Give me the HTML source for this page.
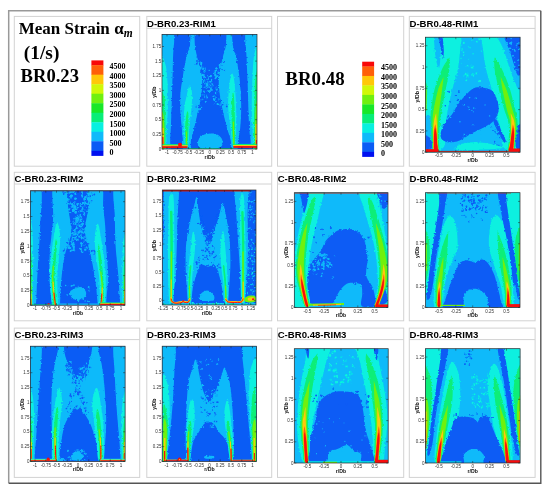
<!DOCTYPE html>
<html><head><meta charset="utf-8"><title>Mean Strain</title>
<style>
html,body{margin:0;padding:0;background:#fff;}
svg{display:block}
.t{font-family:"Liberation Sans",sans-serif;font-weight:bold;font-size:9.6px;fill:#000}
.s{font-family:"Liberation Serif",serif;font-weight:bold;fill:#000}
.k{font-family:"Liberation Sans",sans-serif;font-size:4.5px;fill:#333}
.a{font-family:"Liberation Sans",sans-serif;font-size:5.2px;font-weight:bold;fill:#111}
</style></head><body>
<svg width="550" height="491" viewBox="0 0 550 491">
<rect width="550" height="491" fill="#fff"/>
<defs><filter id="bl" x="-5%" y="-5%" width="110%" height="110%"><feTurbulence type="fractalNoise" baseFrequency="0.09" numOctaves="2" seed="3" result="n"/><feDisplacementMap in="SourceGraphic" in2="n" scale="14" xChannelSelector="R" yChannelSelector="G" result="d"/><feGaussianBlur in="d" stdDeviation="1.3"/></filter><filter id="b2" x="-5%" y="-5%" width="110%" height="110%"><feTurbulence type="fractalNoise" baseFrequency="0.06" numOctaves="1" seed="7" result="n"/><feDisplacementMap in="SourceGraphic" in2="n" scale="5" xChannelSelector="R" yChannelSelector="G" result="d"/><feGaussianBlur in="d" stdDeviation="1.5"/></filter></defs>

<path d="M8.7,483.3 V10.8 H540.8" fill="none" stroke="#999" stroke-width="1.5"/>
<path d="M8.7,483.3 H540.8 V10.8" fill="none" stroke="#555" stroke-width="1.4"/>
<rect x="14.3" y="16.4" width="125.4" height="149.8" fill="#fff" stroke="#d2d2d2" stroke-width="1"/>
<text class="s" font-size="17px" x="18.7" y="34.2">Mean Strain</text><text class="s" font-size="17px" x="114.2" y="34.2">α</text><text class="s" font-style="italic" font-size="11.5px" x="123.8" y="36.8">m</text>
<text class="s" font-size="19.4px" x="23.8" y="58.8">(1/s)</text>
<text class="s" font-size="18.6px" x="20.6" y="82.3">BR0.23</text>
<rect x="91.4" y="60.40" width="12.0" height="5.06" fill="#f80808"/><rect x="91.4" y="65.16" width="12.0" height="9.82" fill="#ff6008"/><rect x="91.4" y="74.68" width="12.0" height="9.82" fill="#ffc808"/><rect x="91.4" y="84.20" width="12.0" height="9.82" fill="#d0f808"/><rect x="91.4" y="93.72" width="12.0" height="9.82" fill="#70f010"/><rect x="91.4" y="103.24" width="12.0" height="9.82" fill="#18e828"/><rect x="91.4" y="112.76" width="12.0" height="9.82" fill="#08ee78"/><rect x="91.4" y="122.28" width="12.0" height="9.82" fill="#08f0e0"/><rect x="91.4" y="131.80" width="12.0" height="9.82" fill="#0fbafa"/><rect x="91.4" y="141.32" width="12.0" height="9.82" fill="#0a5cf5"/><rect x="91.4" y="150.84" width="12.0" height="5.06" fill="#0010f0"/><text class="s" font-size="8px" x="109.5" y="69.1">4500</text><text class="s" font-size="8px" x="109.5" y="78.6">4000</text><text class="s" font-size="8px" x="109.5" y="88.2">3500</text><text class="s" font-size="8px" x="109.5" y="97.8">3000</text><text class="s" font-size="8px" x="109.5" y="107.4">2500</text><text class="s" font-size="8px" x="109.5" y="117.0">2000</text><text class="s" font-size="8px" x="109.5" y="126.5">1500</text><text class="s" font-size="8px" x="109.5" y="136.1">1000</text><text class="s" font-size="8px" x="109.5" y="145.7">500</text><text class="s" font-size="8px" x="109.5" y="155.3">0</text>
<rect x="277.5" y="16.4" width="126.2" height="149.8" fill="#fff" stroke="#d2d2d2" stroke-width="1"/>
<text class="s" font-size="18.9px" x="285.3" y="85.4">BR0.48</text>
<rect x="362.2" y="61.70" width="11.9" height="5.04" fill="#f80808"/><rect x="362.2" y="66.45" width="11.9" height="9.79" fill="#ff6008"/><rect x="362.2" y="75.94" width="11.9" height="9.79" fill="#ffc808"/><rect x="362.2" y="85.42" width="11.9" height="9.79" fill="#d0f808"/><rect x="362.2" y="94.91" width="11.9" height="9.79" fill="#70f010"/><rect x="362.2" y="104.40" width="11.9" height="9.79" fill="#18e828"/><rect x="362.2" y="113.89" width="11.9" height="9.79" fill="#08ee78"/><rect x="362.2" y="123.38" width="11.9" height="9.79" fill="#08f0e0"/><rect x="362.2" y="132.87" width="11.9" height="9.79" fill="#0fbafa"/><rect x="362.2" y="142.36" width="11.9" height="9.79" fill="#0a5cf5"/><rect x="362.2" y="151.85" width="11.9" height="5.04" fill="#0010f0"/><text class="s" font-size="8px" x="381" y="70.3">4500</text><text class="s" font-size="8px" x="381" y="79.9">4000</text><text class="s" font-size="8px" x="381" y="89.4">3500</text><text class="s" font-size="8px" x="381" y="99.0">3000</text><text class="s" font-size="8px" x="381" y="108.5">2500</text><text class="s" font-size="8px" x="381" y="118.1">2000</text><text class="s" font-size="8px" x="381" y="127.6">1500</text><text class="s" font-size="8px" x="381" y="137.2">1000</text><text class="s" font-size="8px" x="381" y="146.7">500</text><text class="s" font-size="8px" x="381" y="156.3">0</text>
<rect x="146.8" y="16.4" width="124.9" height="149.8" fill="#fff" stroke="#d2d2d2" stroke-width="1"/><line x1="146.8" x2="271.7" y1="28.4" y2="28.4" stroke="#d2d2d2" stroke-width="1"/><text class="t" x="147.0" y="26.8">D-BR0.23-RIM1</text>
<clipPath id="c10"><rect x="162" y="34.4" width="95.0" height="114.6"/></clipPath>
<g clip-path="url(#c10)">
<rect x="161" y="33.4" width="97.0" height="116.6" fill="#0a5cf5"/>
<g transform="translate(155,28) scale(0.20000)" filter="url(#bl)">
<path d="M25.0,20.0 C36.2,-79.2 81.2,-1.7 92.0,20.0 C102.8,41.7 91.0,103.3 90.0,150.0 C89.0,196.7 87.7,245.0 86.0,300.0 C84.3,355.0 81.7,436.7 80.0,480.0 C78.3,523.3 77.0,537.5 76.0,560.0 C75.0,582.5 82.5,605.8 74.0,615.0 C65.5,624.2 33.2,714.2 25.0,615.0 C16.8,515.8 13.8,119.2 25.0,20.0 Z" fill="#0fbafa"/>
<path d="M520.0,20.0 C509.2,-79.2 465.3,-1.7 455.0,20.0 C444.7,41.7 456.5,103.3 458.0,150.0 C459.5,196.7 462.0,245.0 464.0,300.0 C466.0,355.0 467.7,436.7 470.0,480.0 C472.3,523.3 476.0,537.5 478.0,560.0 C480.0,582.5 475.0,605.8 482.0,615.0 C489.0,624.2 513.7,714.2 520.0,615.0 C526.3,515.8 530.8,119.2 520.0,20.0 Z" fill="#0fbafa"/>
<path d="M25.0,160.0 C29.2,86.7 43.8,158.3 50.0,175.0 C56.2,191.7 59.7,222.5 62.0,260.0 C64.3,297.5 64.7,356.7 64.0,400.0 C63.3,443.3 59.7,484.2 58.0,520.0 C56.3,555.8 59.5,599.2 54.0,615.0 C48.5,630.8 29.8,690.8 25.0,615.0 C20.2,539.2 20.8,233.3 25.0,160.0 Z" fill="#08f0e0"/>
<path d="M520.0,110.0 C516.3,28.3 503.3,105.0 498.0,125.0 C492.7,145.0 490.3,184.2 488.0,230.0 C485.7,275.8 484.0,351.7 484.0,400.0 C484.0,448.3 486.7,484.2 488.0,520.0 C489.3,555.8 486.7,599.2 492.0,615.0 C497.3,630.8 515.3,699.2 520.0,615.0 C524.7,530.8 523.7,191.7 520.0,110.0 Z" fill="#08f0e0"/>
<path d="M25.0,330.0 C28.5,285.0 41.5,325.0 46.0,345.0 C50.5,365.0 51.3,405.0 52.0,450.0 C52.7,495.0 54.5,587.5 50.0,615.0 C45.5,642.5 29.2,662.5 25.0,615.0 C20.8,567.5 21.5,375.0 25.0,330.0 Z" fill="#08ee78"/>
<path d="M520.0,230.0 C517.0,169.2 506.0,221.7 502.0,250.0 C498.0,278.3 496.8,339.2 496.0,400.0 C495.2,460.8 493.0,579.2 497.0,615.0 C501.0,650.8 516.2,679.2 520.0,615.0 C523.8,550.8 523.0,290.8 520.0,230.0 Z" fill="#08ee78"/>
<path d="M180.0,20.0 C176.3,31.7 178.0,68.3 174.0,90.0 C170.0,111.7 162.0,123.3 156.0,150.0 C150.0,176.7 142.8,220.0 138.0,250.0 C133.2,280.0 128.8,301.7 127.0,330.0 C125.2,358.3 125.8,391.7 127.0,420.0 C128.2,448.3 132.0,476.7 134.0,500.0 C136.0,523.3 137.7,540.8 139.0,560.0 C140.3,579.2 135.8,605.8 142.0,615.0 C148.2,624.2 169.7,624.2 176.0,615.0 C182.3,605.8 176.7,579.2 180.0,560.0 C183.3,540.8 190.3,523.3 196.0,500.0 C201.7,476.7 208.0,448.3 214.0,420.0 C220.0,391.7 228.3,356.7 232.0,330.0 C235.7,303.3 237.0,281.7 236.0,260.0 C235.0,238.3 230.0,218.3 226.0,200.0 C222.0,181.7 216.3,168.3 212.0,150.0 C207.7,131.7 202.7,111.7 200.0,90.0 C197.3,68.3 199.3,31.7 196.0,20.0 C192.7,8.3 183.7,8.3 180.0,20.0 Z" fill="#0fbafa"/>
<path d="M360.0,20.0 C355.3,31.7 357.7,68.3 354.0,90.0 C350.3,111.7 343.3,126.7 338.0,150.0 C332.7,173.3 325.0,205.0 322.0,230.0 C319.0,255.0 317.7,271.7 320.0,300.0 C322.3,328.3 329.3,366.7 336.0,400.0 C342.7,433.3 353.0,473.3 360.0,500.0 C367.0,526.7 373.8,540.8 378.0,560.0 C382.2,579.2 379.7,605.8 385.0,615.0 C390.3,624.2 404.8,624.2 410.0,615.0 C415.2,605.8 413.3,579.2 416.0,560.0 C418.7,540.8 423.5,526.7 426.0,500.0 C428.5,473.3 430.8,433.3 431.0,400.0 C431.2,366.7 428.8,328.3 427.0,300.0 C425.2,271.7 423.5,255.0 420.0,230.0 C416.5,205.0 411.0,173.3 406.0,150.0 C401.0,126.7 394.0,111.7 390.0,90.0 C386.0,68.3 387.0,31.7 382.0,20.0 C377.0,8.3 364.7,8.3 360.0,20.0 Z" fill="#0fbafa"/>
<circle cx="249.2" cy="279.2" r="3.6" fill="#0fbafa"/><circle cx="295.8" cy="339.5" r="3.3" fill="#0fbafa"/><circle cx="274.1" cy="240.1" r="4.9" fill="#0fbafa"/><circle cx="304.6" cy="302.7" r="4.8" fill="#0fbafa"/><circle cx="316.8" cy="210.8" r="3.1" fill="#0fbafa"/><circle cx="237.1" cy="358.4" r="4.8" fill="#0fbafa"/><circle cx="301.5" cy="214.5" r="5.0" fill="#0fbafa"/><circle cx="259.6" cy="281.1" r="5.8" fill="#0fbafa"/><circle cx="227.7" cy="202.2" r="3.9" fill="#0fbafa"/><circle cx="305.4" cy="202.9" r="4.2" fill="#0fbafa"/><circle cx="232.9" cy="397.2" r="3.2" fill="#0fbafa"/><circle cx="249.7" cy="263.3" r="3.6" fill="#0fbafa"/><circle cx="305.5" cy="325.1" r="5.9" fill="#0fbafa"/><circle cx="261.1" cy="347.6" r="3.0" fill="#0fbafa"/><circle cx="279.9" cy="285.9" r="4.3" fill="#0fbafa"/><circle cx="300.7" cy="223.5" r="4.2" fill="#0fbafa"/><circle cx="219.1" cy="406.9" r="5.4" fill="#0fbafa"/><circle cx="301.5" cy="250.9" r="5.6" fill="#0fbafa"/><circle cx="267.9" cy="315.8" r="4.3" fill="#0fbafa"/><circle cx="228.8" cy="175.8" r="3.2" fill="#0fbafa"/><circle cx="320.5" cy="224.5" r="4.9" fill="#0fbafa"/><circle cx="239.2" cy="203.3" r="4.2" fill="#0fbafa"/><circle cx="309.6" cy="304.5" r="3.7" fill="#0fbafa"/><circle cx="306.5" cy="213.3" r="4.4" fill="#0fbafa"/><circle cx="326.0" cy="197.7" r="5.9" fill="#0fbafa"/><circle cx="247.2" cy="243.5" r="4.8" fill="#0fbafa"/><circle cx="329.5" cy="233.1" r="3.4" fill="#0fbafa"/><circle cx="274.2" cy="296.4" r="3.6" fill="#0fbafa"/><circle cx="216.1" cy="186.4" r="3.1" fill="#0fbafa"/><circle cx="306.5" cy="241.4" r="4.4" fill="#0fbafa"/><circle cx="272.6" cy="240.8" r="4.4" fill="#0fbafa"/><circle cx="263.7" cy="254.7" r="4.9" fill="#0fbafa"/><circle cx="255.7" cy="306.3" r="3.2" fill="#0fbafa"/><circle cx="287.8" cy="287.8" r="5.1" fill="#0fbafa"/><circle cx="298.4" cy="355.4" r="5.7" fill="#0fbafa"/><circle cx="320.6" cy="362.3" r="4.5" fill="#0fbafa"/><circle cx="222.2" cy="183.8" r="3.2" fill="#0fbafa"/><circle cx="346.7" cy="198.4" r="5.2" fill="#0fbafa"/><circle cx="243.4" cy="266.6" r="3.3" fill="#0fbafa"/><circle cx="247.6" cy="340.4" r="3.1" fill="#0fbafa"/><circle cx="210.1" cy="381.2" r="5.8" fill="#0fbafa"/><circle cx="299.4" cy="236.7" r="4.8" fill="#0fbafa"/><circle cx="272.1" cy="282.3" r="5.7" fill="#0fbafa"/><circle cx="262.0" cy="255.9" r="5.4" fill="#0fbafa"/><circle cx="219.6" cy="378.3" r="3.9" fill="#0fbafa"/><circle cx="221.9" cy="220.9" r="3.1" fill="#0fbafa"/><circle cx="231.6" cy="190.3" r="4.4" fill="#0fbafa"/><circle cx="313.1" cy="380.3" r="5.0" fill="#0fbafa"/><circle cx="291.1" cy="342.6" r="3.8" fill="#0fbafa"/><circle cx="279.5" cy="304.9" r="5.4" fill="#0fbafa"/><circle cx="323.5" cy="186.6" r="5.3" fill="#0fbafa"/><circle cx="312.7" cy="216.1" r="3.3" fill="#0fbafa"/><circle cx="251.6" cy="200.1" r="3.6" fill="#0fbafa"/><circle cx="275.2" cy="268.0" r="4.6" fill="#0fbafa"/><circle cx="326.5" cy="194.2" r="5.1" fill="#0fbafa"/><circle cx="258.1" cy="297.2" r="5.7" fill="#0fbafa"/><circle cx="240.6" cy="204.1" r="4.9" fill="#0fbafa"/><circle cx="305.5" cy="367.9" r="4.5" fill="#0fbafa"/><circle cx="295.2" cy="354.4" r="3.6" fill="#0fbafa"/><circle cx="258.5" cy="346.6" r="5.9" fill="#0fbafa"/><circle cx="328.1" cy="396.7" r="3.0" fill="#0fbafa"/><circle cx="262.3" cy="289.3" r="5.3" fill="#0fbafa"/><circle cx="283.2" cy="296.6" r="4.3" fill="#0fbafa"/><circle cx="215.5" cy="172.6" r="4.4" fill="#0fbafa"/><circle cx="345.2" cy="387.2" r="5.8" fill="#0fbafa"/><circle cx="308.3" cy="201.5" r="5.5" fill="#0fbafa"/><circle cx="247.4" cy="295.9" r="4.7" fill="#0fbafa"/><circle cx="279.6" cy="241.4" r="4.8" fill="#0fbafa"/><circle cx="312.8" cy="242.2" r="4.7" fill="#0fbafa"/><circle cx="293.5" cy="222.0" r="3.1" fill="#0fbafa"/><circle cx="293.8" cy="377.6" r="3.4" fill="#0fbafa"/><circle cx="335.4" cy="203.2" r="4.2" fill="#0fbafa"/><circle cx="325.6" cy="389.0" r="3.4" fill="#0fbafa"/><circle cx="264.0" cy="270.5" r="4.3" fill="#0fbafa"/><circle cx="239.6" cy="195.3" r="3.1" fill="#0fbafa"/><circle cx="320.4" cy="221.2" r="5.2" fill="#0fbafa"/><circle cx="264.3" cy="238.5" r="3.4" fill="#0fbafa"/><circle cx="274.4" cy="276.2" r="5.6" fill="#0fbafa"/><circle cx="232.1" cy="176.0" r="4.6" fill="#0fbafa"/><circle cx="214.0" cy="358.8" r="4.8" fill="#0fbafa"/><circle cx="252.3" cy="354.8" r="4.0" fill="#0fbafa"/><circle cx="248.0" cy="215.0" r="5.3" fill="#0fbafa"/><circle cx="316.5" cy="224.8" r="5.2" fill="#0fbafa"/><circle cx="277.3" cy="241.3" r="4.6" fill="#0fbafa"/><circle cx="239.5" cy="334.3" r="3.1" fill="#0fbafa"/><circle cx="270.9" cy="212.2" r="3.3" fill="#0fbafa"/><circle cx="259.4" cy="286.0" r="3.6" fill="#0fbafa"/><circle cx="344.3" cy="196.7" r="4.8" fill="#0fbafa"/><circle cx="326.2" cy="373.7" r="3.6" fill="#0fbafa"/><circle cx="319.2" cy="355.0" r="3.2" fill="#0fbafa"/><circle cx="331.4" cy="381.3" r="4.2" fill="#0fbafa"/><circle cx="254.2" cy="273.7" r="3.0" fill="#0fbafa"/><circle cx="260.4" cy="334.4" r="5.2" fill="#0fbafa"/><circle cx="283.2" cy="263.1" r="5.4" fill="#0fbafa"/><circle cx="302.4" cy="237.3" r="5.6" fill="#0fbafa"/><circle cx="284.2" cy="310.2" r="4.8" fill="#0fbafa"/><circle cx="258.4" cy="255.1" r="5.2" fill="#0fbafa"/><circle cx="246.8" cy="218.4" r="4.6" fill="#0fbafa"/><circle cx="263.9" cy="250.4" r="5.2" fill="#0fbafa"/><circle cx="228.0" cy="198.0" r="5.7" fill="#0fbafa"/><circle cx="226.3" cy="405.2" r="5.0" fill="#0fbafa"/><circle cx="245.7" cy="247.2" r="4.2" fill="#0fbafa"/><circle cx="215.9" cy="378.3" r="5.9" fill="#0fbafa"/><circle cx="328.8" cy="179.3" r="4.2" fill="#0fbafa"/><circle cx="325.4" cy="189.7" r="3.8" fill="#0fbafa"/><circle cx="238.7" cy="235.2" r="5.9" fill="#0fbafa"/><circle cx="255.4" cy="289.3" r="3.2" fill="#0fbafa"/><circle cx="244.8" cy="316.6" r="4.2" fill="#0fbafa"/><circle cx="313.1" cy="381.2" r="4.3" fill="#0fbafa"/><circle cx="260.4" cy="282.2" r="4.1" fill="#0fbafa"/><circle cx="244.3" cy="237.8" r="5.1" fill="#0fbafa"/><circle cx="301.7" cy="232.7" r="4.9" fill="#0fbafa"/><circle cx="276.8" cy="267.9" r="4.2" fill="#0fbafa"/><circle cx="309.3" cy="309.1" r="4.3" fill="#0fbafa"/><circle cx="284.7" cy="281.2" r="5.4" fill="#0fbafa"/><circle cx="253.9" cy="369.2" r="4.8" fill="#0fbafa"/><circle cx="226.9" cy="205.5" r="3.2" fill="#0fbafa"/><circle cx="269.6" cy="293.9" r="4.3" fill="#0fbafa"/><circle cx="275.1" cy="315.2" r="5.4" fill="#0fbafa"/><circle cx="236.2" cy="203.5" r="3.3" fill="#0fbafa"/>
<circle cx="273.8" cy="278.5" r="3.4" fill="#0a5cf5"/><circle cx="236.4" cy="214.9" r="3.9" fill="#0a5cf5"/><circle cx="259.7" cy="329.5" r="3.3" fill="#0a5cf5"/><circle cx="335.6" cy="207.6" r="3.3" fill="#0a5cf5"/><circle cx="295.4" cy="258.5" r="4.8" fill="#0a5cf5"/><circle cx="285.0" cy="287.1" r="3.6" fill="#0a5cf5"/><circle cx="233.2" cy="327.3" r="3.9" fill="#0a5cf5"/><circle cx="190.7" cy="416.1" r="2.7" fill="#0a5cf5"/><circle cx="285.4" cy="315.9" r="2.6" fill="#0a5cf5"/><circle cx="253.9" cy="347.2" r="3.4" fill="#0a5cf5"/><circle cx="253.1" cy="244.3" r="3.1" fill="#0a5cf5"/><circle cx="315.3" cy="248.5" r="3.6" fill="#0a5cf5"/><circle cx="272.8" cy="288.9" r="3.0" fill="#0a5cf5"/><circle cx="265.9" cy="322.5" r="2.6" fill="#0a5cf5"/><circle cx="229.6" cy="217.2" r="3.8" fill="#0a5cf5"/><circle cx="253.9" cy="254.1" r="4.9" fill="#0a5cf5"/><circle cx="269.0" cy="281.2" r="3.0" fill="#0a5cf5"/><circle cx="235.3" cy="359.3" r="3.2" fill="#0a5cf5"/><circle cx="327.2" cy="369.5" r="3.8" fill="#0a5cf5"/><circle cx="349.7" cy="212.3" r="3.8" fill="#0a5cf5"/><circle cx="210.7" cy="146.3" r="3.2" fill="#0a5cf5"/><circle cx="207.5" cy="178.4" r="4.2" fill="#0a5cf5"/><circle cx="274.0" cy="271.9" r="2.6" fill="#0a5cf5"/><circle cx="248.0" cy="233.8" r="3.2" fill="#0a5cf5"/><circle cx="314.6" cy="213.7" r="4.7" fill="#0a5cf5"/><circle cx="292.9" cy="268.5" r="2.6" fill="#0a5cf5"/><circle cx="288.8" cy="299.1" r="4.0" fill="#0a5cf5"/><circle cx="205.6" cy="394.9" r="3.4" fill="#0a5cf5"/><circle cx="253.3" cy="351.9" r="4.8" fill="#0a5cf5"/><circle cx="238.8" cy="364.8" r="4.5" fill="#0a5cf5"/><circle cx="294.8" cy="247.9" r="3.2" fill="#0a5cf5"/><circle cx="320.5" cy="365.1" r="3.8" fill="#0a5cf5"/><circle cx="306.1" cy="340.2" r="3.4" fill="#0a5cf5"/><circle cx="212.6" cy="169.9" r="3.3" fill="#0a5cf5"/><circle cx="306.9" cy="340.8" r="3.7" fill="#0a5cf5"/><circle cx="297.3" cy="271.8" r="3.6" fill="#0a5cf5"/><circle cx="216.6" cy="392.4" r="3.4" fill="#0a5cf5"/><circle cx="309.4" cy="219.1" r="3.8" fill="#0a5cf5"/><circle cx="225.7" cy="191.2" r="4.0" fill="#0a5cf5"/><circle cx="206.8" cy="383.4" r="2.6" fill="#0a5cf5"/><circle cx="305.8" cy="359.1" r="3.5" fill="#0a5cf5"/><circle cx="260.5" cy="332.4" r="4.2" fill="#0a5cf5"/><circle cx="296.3" cy="248.8" r="3.4" fill="#0a5cf5"/><circle cx="291.8" cy="232.4" r="2.8" fill="#0a5cf5"/><circle cx="278.6" cy="279.3" r="4.8" fill="#0a5cf5"/><circle cx="298.9" cy="303.9" r="4.0" fill="#0a5cf5"/><circle cx="209.8" cy="178.5" r="4.0" fill="#0a5cf5"/><circle cx="310.8" cy="368.3" r="3.3" fill="#0a5cf5"/><circle cx="313.2" cy="363.8" r="4.5" fill="#0a5cf5"/><circle cx="332.1" cy="190.3" r="3.2" fill="#0a5cf5"/><circle cx="358.9" cy="392.1" r="4.4" fill="#0a5cf5"/><circle cx="337.5" cy="382.3" r="4.7" fill="#0a5cf5"/><circle cx="216.8" cy="154.5" r="3.0" fill="#0a5cf5"/><circle cx="251.3" cy="193.4" r="4.4" fill="#0a5cf5"/><circle cx="266.3" cy="296.4" r="4.2" fill="#0a5cf5"/><circle cx="283.6" cy="295.5" r="2.8" fill="#0a5cf5"/><circle cx="253.2" cy="250.4" r="4.1" fill="#0a5cf5"/><circle cx="260.8" cy="253.0" r="4.6" fill="#0a5cf5"/><circle cx="336.0" cy="151.3" r="4.2" fill="#0a5cf5"/><circle cx="328.0" cy="408.6" r="3.4" fill="#0a5cf5"/><circle cx="341.7" cy="168.3" r="3.6" fill="#0a5cf5"/><circle cx="230.1" cy="370.1" r="4.2" fill="#0a5cf5"/><circle cx="256.7" cy="299.2" r="4.5" fill="#0a5cf5"/><circle cx="298.1" cy="315.5" r="3.9" fill="#0a5cf5"/><circle cx="296.3" cy="238.5" r="3.3" fill="#0a5cf5"/><circle cx="209.3" cy="163.6" r="3.7" fill="#0a5cf5"/><circle cx="225.3" cy="183.6" r="3.7" fill="#0a5cf5"/><circle cx="314.3" cy="344.8" r="3.5" fill="#0a5cf5"/><circle cx="324.6" cy="395.9" r="4.1" fill="#0a5cf5"/><circle cx="259.0" cy="323.8" r="4.0" fill="#0a5cf5"/>
<path d="M170.0,292.0 C166.3,299.3 161.8,322.0 158.0,340.0 C154.2,358.0 149.3,373.3 147.0,400.0 C144.7,426.7 143.5,470.0 144.0,500.0 C144.5,530.0 146.3,565.8 150.0,580.0 C153.7,594.2 162.3,598.3 166.0,585.0 C169.7,571.7 169.3,530.8 172.0,500.0 C174.7,469.2 179.7,426.7 182.0,400.0 C184.3,373.3 186.3,357.3 186.0,340.0 C185.7,322.7 182.7,304.0 180.0,296.0 C177.3,288.0 173.7,284.7 170.0,292.0 Z" fill="#08f0e0"/>
<path d="M382.0,232.0 C378.3,242.0 372.7,272.0 370.0,300.0 C367.3,328.0 364.7,366.7 366.0,400.0 C367.3,433.3 374.3,470.0 378.0,500.0 C381.7,530.0 383.8,565.8 388.0,580.0 C392.2,594.2 400.0,598.3 403.0,585.0 C406.0,571.7 405.5,530.8 406.0,500.0 C406.5,469.2 407.0,433.3 406.0,400.0 C405.0,366.7 402.3,326.7 400.0,300.0 C397.7,273.3 395.0,251.3 392.0,240.0 C389.0,228.7 385.7,222.0 382.0,232.0 Z" fill="#08f0e0"/>
<path d="M160.0,420.0 C157.7,427.5 153.7,450.0 152.0,470.0 C150.3,490.0 149.7,520.8 150.0,540.0 C150.3,559.2 151.8,577.5 154.0,585.0 C156.2,592.5 161.0,594.2 163.0,585.0 C165.0,575.8 165.2,549.2 166.0,530.0 C166.8,510.8 168.0,487.5 168.0,470.0 C168.0,452.5 167.3,433.3 166.0,425.0 C164.7,416.7 162.3,412.5 160.0,420.0 Z" fill="#08ee78"/>
<path d="M388.0,330.0 C386.0,340.8 382.7,375.0 382.0,400.0 C381.3,425.0 382.7,449.2 384.0,480.0 C385.3,510.8 387.3,567.5 390.0,585.0 C392.7,602.5 398.3,602.5 400.0,585.0 C401.7,567.5 400.3,510.8 400.0,480.0 C399.7,449.2 399.0,424.2 398.0,400.0 C397.0,375.8 395.7,346.7 394.0,335.0 C392.3,323.3 390.0,319.2 388.0,330.0 Z" fill="#08ee78"/>
<path d="M214.0,575.0 C215.0,566.5 219.0,552.5 226.0,545.0 C233.0,537.5 245.0,532.8 256.0,530.0 C267.0,527.2 281.0,526.3 292.0,528.0 C303.0,529.7 314.3,533.8 322.0,540.0 C329.7,546.2 336.3,556.3 338.0,565.0 C339.7,573.7 338.3,585.8 332.0,592.0 C325.7,598.2 314.0,600.3 300.0,602.0 C286.0,603.7 261.3,603.0 248.0,602.0 C234.7,601.0 225.7,600.5 220.0,596.0 C214.3,591.5 213.0,583.5 214.0,575.0 Z" fill="#0fbafa"/>
</g>
<g transform="translate(155,28) scale(0.20000)" filter="url(#b2)">
<path d="M25.0,430.0 C28.2,401.7 40.5,414.2 44.0,445.0 C47.5,475.8 49.2,586.7 46.0,615.0 C42.8,643.3 28.5,645.8 25.0,615.0 C21.5,584.2 21.8,458.3 25.0,430.0 Z" fill="#70f010"/>
<path d="M520.0,380.0 C517.3,343.3 507.0,355.8 504.0,395.0 C501.0,434.2 499.3,578.3 502.0,615.0 C504.7,651.7 517.0,654.2 520.0,615.0 C523.0,575.8 522.7,416.7 520.0,380.0 Z" fill="#70f010"/>
<path d="M40.0,500.0 L41.0,600.0" fill="none" stroke="#ffc808" stroke-width="7" stroke-linecap="butt" stroke-linejoin="round"/>
<path d="M506.0,480.0 L506.0,600.0" fill="none" stroke="#ffc808" stroke-width="6" stroke-linecap="butt" stroke-linejoin="round"/>
<path d="M39.0,545.0 L40.0,600.0" fill="none" stroke="#f80808" stroke-width="6" stroke-linecap="butt" stroke-linejoin="round"/>
<path d="M507.0,560.0 L507.0,600.0" fill="none" stroke="#f80808" stroke-width="5" stroke-linecap="butt" stroke-linejoin="round"/>
<path d="M392.0,470.0 L394.0,585.0" fill="none" stroke="#70f010" stroke-width="6" stroke-linecap="round" stroke-linejoin="round"/>
<path d="M158.0,520.0 L158.0,585.0" fill="none" stroke="#70f010" stroke-width="5" stroke-linecap="round" stroke-linejoin="round"/>
<path d="M35.0,584.0 L166.0,584.0" fill="none" stroke="#08ee78" stroke-width="7" stroke-linecap="butt" stroke-linejoin="round"/>
<path d="M388.0,583.0 L510.0,583.0" fill="none" stroke="#08ee78" stroke-width="7" stroke-linecap="butt" stroke-linejoin="round"/>
<path d="M35.0,589.0 L164.0,589.0" fill="none" stroke="#ffc808" stroke-width="6" stroke-linecap="butt" stroke-linejoin="round"/>
<path d="M390.0,588.0 L510.0,588.0" fill="none" stroke="#ffc808" stroke-width="6" stroke-linecap="butt" stroke-linejoin="round"/>
<path d="M38.0,596.0 L162.0,596.0" fill="none" stroke="#f80808" stroke-width="9" stroke-linecap="butt" stroke-linejoin="round"/>
<path d="M392.0,595.0 L508.0,595.0" fill="none" stroke="#f80808" stroke-width="9" stroke-linecap="butt" stroke-linejoin="round"/>
<ellipse cx="125" cy="584" rx="10" ry="10" fill="#f80808"/>
<path d="M166.0,603.0 L390.0,603.0" fill="none" stroke="#08ee78" stroke-width="4" stroke-linecap="butt" stroke-linejoin="round"/>
</g>
</g>
<rect x="162" y="34.4" width="95.0" height="114.6" fill="none" stroke="#2a2a2a" stroke-width="0.7"/>
<line x1="167.0" x2="167.0" y1="147.0" y2="149.0" stroke="#222" stroke-width="0.5"/>
<line x1="167.0" x2="167.0" y1="36.4" y2="34.4" stroke="#222" stroke-width="0.5"/>
<text class="k" text-anchor="middle" x="167.0" y="154.2">-1</text>
<line x1="177.7" x2="177.7" y1="147.0" y2="149.0" stroke="#222" stroke-width="0.5"/>
<line x1="177.7" x2="177.7" y1="36.4" y2="34.4" stroke="#222" stroke-width="0.5"/>
<text class="k" text-anchor="middle" x="177.7" y="154.2">-0.75</text>
<line x1="188.4" x2="188.4" y1="147.0" y2="149.0" stroke="#222" stroke-width="0.5"/>
<line x1="188.4" x2="188.4" y1="36.4" y2="34.4" stroke="#222" stroke-width="0.5"/>
<text class="k" text-anchor="middle" x="188.4" y="154.2">-0.5</text>
<line x1="199.1" x2="199.1" y1="147.0" y2="149.0" stroke="#222" stroke-width="0.5"/>
<line x1="199.1" x2="199.1" y1="36.4" y2="34.4" stroke="#222" stroke-width="0.5"/>
<text class="k" text-anchor="middle" x="199.1" y="154.2">-0.25</text>
<line x1="209.8" x2="209.8" y1="147.0" y2="149.0" stroke="#222" stroke-width="0.5"/>
<line x1="209.8" x2="209.8" y1="36.4" y2="34.4" stroke="#222" stroke-width="0.5"/>
<text class="k" text-anchor="middle" x="209.8" y="154.2">0</text>
<line x1="220.5" x2="220.5" y1="147.0" y2="149.0" stroke="#222" stroke-width="0.5"/>
<line x1="220.5" x2="220.5" y1="36.4" y2="34.4" stroke="#222" stroke-width="0.5"/>
<text class="k" text-anchor="middle" x="220.5" y="154.2">0.25</text>
<line x1="231.2" x2="231.2" y1="147.0" y2="149.0" stroke="#222" stroke-width="0.5"/>
<line x1="231.2" x2="231.2" y1="36.4" y2="34.4" stroke="#222" stroke-width="0.5"/>
<text class="k" text-anchor="middle" x="231.2" y="154.2">0.5</text>
<line x1="241.9" x2="241.9" y1="147.0" y2="149.0" stroke="#222" stroke-width="0.5"/>
<line x1="241.9" x2="241.9" y1="36.4" y2="34.4" stroke="#222" stroke-width="0.5"/>
<text class="k" text-anchor="middle" x="241.9" y="154.2">0.75</text>
<line x1="252.6" x2="252.6" y1="147.0" y2="149.0" stroke="#222" stroke-width="0.5"/>
<line x1="252.6" x2="252.6" y1="36.4" y2="34.4" stroke="#222" stroke-width="0.5"/>
<text class="k" text-anchor="middle" x="252.6" y="154.2">1</text>
<line x1="162.0" x2="164.0" y1="149.0" y2="149.0" stroke="#222" stroke-width="0.5"/>
<line x1="257.0" x2="255.0" y1="149.0" y2="149.0" stroke="#222" stroke-width="0.5"/>
<text class="k" text-anchor="end" x="161.2" y="150.6">0</text>
<line x1="162.0" x2="164.0" y1="134.3" y2="134.3" stroke="#222" stroke-width="0.5"/>
<line x1="257.0" x2="255.0" y1="134.3" y2="134.3" stroke="#222" stroke-width="0.5"/>
<text class="k" text-anchor="end" x="161.2" y="135.9">0.25</text>
<line x1="162.0" x2="164.0" y1="119.7" y2="119.7" stroke="#222" stroke-width="0.5"/>
<line x1="257.0" x2="255.0" y1="119.7" y2="119.7" stroke="#222" stroke-width="0.5"/>
<text class="k" text-anchor="end" x="161.2" y="121.3">0.5</text>
<line x1="162.0" x2="164.0" y1="105.0" y2="105.0" stroke="#222" stroke-width="0.5"/>
<line x1="257.0" x2="255.0" y1="105.0" y2="105.0" stroke="#222" stroke-width="0.5"/>
<text class="k" text-anchor="end" x="161.2" y="106.6">0.75</text>
<line x1="162.0" x2="164.0" y1="90.4" y2="90.4" stroke="#222" stroke-width="0.5"/>
<line x1="257.0" x2="255.0" y1="90.4" y2="90.4" stroke="#222" stroke-width="0.5"/>
<text class="k" text-anchor="end" x="161.2" y="92.0">1</text>
<line x1="162.0" x2="164.0" y1="75.8" y2="75.8" stroke="#222" stroke-width="0.5"/>
<line x1="257.0" x2="255.0" y1="75.8" y2="75.8" stroke="#222" stroke-width="0.5"/>
<text class="k" text-anchor="end" x="161.2" y="77.3">1.25</text>
<line x1="162.0" x2="164.0" y1="61.1" y2="61.1" stroke="#222" stroke-width="0.5"/>
<line x1="257.0" x2="255.0" y1="61.1" y2="61.1" stroke="#222" stroke-width="0.5"/>
<text class="k" text-anchor="end" x="161.2" y="62.7">1.5</text>
<line x1="162.0" x2="164.0" y1="46.5" y2="46.5" stroke="#222" stroke-width="0.5"/>
<line x1="257.0" x2="255.0" y1="46.5" y2="46.5" stroke="#222" stroke-width="0.5"/>
<text class="k" text-anchor="end" x="161.2" y="48.1">1.75</text>
<text class="a" text-anchor="middle" x="209.8" y="158.8">r/Db</text>
<text class="a" text-anchor="middle" transform="translate(155.6,92.2) rotate(-90)">y/Db</text>
<rect x="14.3" y="172.3" width="125.4" height="148.5" fill="#fff" stroke="#d2d2d2" stroke-width="1"/><line x1="14.3" x2="139.7" y1="184.0" y2="184.0" stroke="#d2d2d2" stroke-width="1"/><text class="t" x="14.5" y="182.4">C-BR0.23-RIM2</text>
<clipPath id="c01"><rect x="30.4" y="190.7" width="94.6" height="114.5"/></clipPath>
<g clip-path="url(#c01)">
<rect x="29.4" y="189.7" width="96.6" height="116.5" fill="#0a5cf5"/>
<g transform="translate(20,186) scale(0.20000)" filter="url(#bl)">
<path d="M40.0,10.0 C50.8,-90.0 94.8,-21.7 105.0,10.0 C115.2,41.7 103.3,138.3 101.0,200.0 C98.7,261.7 93.7,333.3 91.0,380.0 C88.3,426.7 87.5,441.7 85.0,480.0 C82.5,518.3 83.5,588.3 76.0,610.0 C68.5,631.7 46.0,710.0 40.0,610.0 C34.0,510.0 29.2,110.0 40.0,10.0 Z" fill="#0fbafa"/>
<path d="M535.0,10.0 C524.2,-90.0 480.2,-13.3 470.0,10.0 C459.8,33.3 472.7,101.7 474.0,150.0 C475.3,198.3 475.0,250.0 478.0,300.0 C481.0,350.0 487.5,398.3 492.0,450.0 C496.5,501.7 497.8,583.3 505.0,610.0 C512.2,636.7 530.0,710.0 535.0,610.0 C540.0,510.0 545.8,110.0 535.0,10.0 Z" fill="#0fbafa"/>
<path d="M40.0,180.0 C43.3,111.7 55.7,171.7 60.0,200.0 C64.3,228.3 65.3,300.0 66.0,350.0 C66.7,400.0 64.7,456.7 64.0,500.0 C63.3,543.3 66.0,591.7 62.0,610.0 C58.0,628.3 43.7,681.7 40.0,610.0 C36.3,538.3 36.7,248.3 40.0,180.0 Z" fill="#08f0e0"/>
<path d="M535.0,250.0 C532.0,193.3 520.8,245.0 517.0,270.0 C513.2,295.0 512.8,361.7 512.0,400.0 C511.2,438.3 511.7,465.0 512.0,500.0 C512.3,535.0 510.2,591.7 514.0,610.0 C517.8,628.3 531.5,670.0 535.0,610.0 C538.5,550.0 538.0,306.7 535.0,250.0 Z" fill="#08f0e0"/>
<path d="M40.0,330.0 C43.0,286.7 54.7,303.3 58.0,350.0 C61.3,396.7 63.0,566.7 60.0,610.0 C57.0,653.3 43.3,656.7 40.0,610.0 C36.7,563.3 37.0,373.3 40.0,330.0 Z" fill="#08ee78"/>
<path d="M535.0,360.0 C532.5,321.7 522.8,338.3 520.0,380.0 C517.2,421.7 515.5,571.7 518.0,610.0 C520.5,648.3 532.2,651.7 535.0,610.0 C537.8,568.3 537.5,398.3 535.0,360.0 Z" fill="#08ee78"/>
<path d="M166.0,5.0 C154.5,29.2 167.5,109.2 166.0,150.0 C164.5,190.8 159.8,220.0 157.0,250.0 C154.2,280.0 150.7,296.7 149.0,330.0 C147.3,363.3 146.3,415.0 147.0,450.0 C147.7,485.0 150.0,513.3 153.0,540.0 C156.0,566.7 157.8,598.3 165.0,610.0 C172.2,621.7 189.5,628.3 196.0,610.0 C202.5,591.7 201.3,531.7 204.0,500.0 C206.7,468.3 208.0,448.3 212.0,420.0 C216.0,391.7 221.7,355.0 228.0,330.0 C234.3,305.0 245.3,290.0 250.0,270.0 C254.7,250.0 257.0,233.3 256.0,210.0 C255.0,186.7 247.3,155.0 244.0,130.0 C240.7,105.0 237.5,80.8 236.0,60.0 C234.5,39.2 246.7,14.2 235.0,5.0 C223.3,-4.2 177.5,-19.2 166.0,5.0 Z" fill="#0fbafa"/>
<path d="M345.0,5.0 C333.3,24.2 343.2,87.5 340.0,120.0 C336.8,152.5 327.7,175.8 326.0,200.0 C324.3,224.2 326.3,245.0 330.0,265.0 C333.7,285.0 341.7,294.2 348.0,320.0 C354.3,345.8 362.7,390.0 368.0,420.0 C373.3,450.0 375.7,468.3 380.0,500.0 C384.3,531.7 386.3,591.7 394.0,610.0 C401.7,628.3 419.3,621.7 426.0,610.0 C432.7,598.3 431.5,566.7 434.0,540.0 C436.5,513.3 441.3,486.7 441.0,450.0 C440.7,413.3 434.5,361.7 432.0,320.0 C429.5,278.3 428.7,236.7 426.0,200.0 C423.3,163.3 418.7,132.5 416.0,100.0 C413.3,67.5 421.8,20.8 410.0,5.0 C398.2,-10.8 356.7,-14.2 345.0,5.0 Z" fill="#0fbafa"/>
<circle cx="245.2" cy="66.8" r="3.8" fill="#0fbafa"/><circle cx="249.7" cy="262.6" r="3.0" fill="#0fbafa"/><circle cx="301.3" cy="143.1" r="3.8" fill="#0fbafa"/><circle cx="271.4" cy="106.2" r="5.7" fill="#0fbafa"/><circle cx="293.8" cy="148.7" r="4.7" fill="#0fbafa"/><circle cx="276.0" cy="61.9" r="3.3" fill="#0fbafa"/><circle cx="240.9" cy="270.9" r="4.2" fill="#0fbafa"/><circle cx="282.9" cy="161.7" r="5.9" fill="#0fbafa"/><circle cx="342.7" cy="70.3" r="6.1" fill="#0fbafa"/><circle cx="276.8" cy="258.6" r="5.9" fill="#0fbafa"/><circle cx="331.6" cy="79.3" r="4.3" fill="#0fbafa"/><circle cx="278.0" cy="169.8" r="3.9" fill="#0fbafa"/><circle cx="247.2" cy="247.5" r="4.7" fill="#0fbafa"/><circle cx="279.0" cy="169.0" r="6.4" fill="#0fbafa"/><circle cx="308.8" cy="46.6" r="4.2" fill="#0fbafa"/><circle cx="316.4" cy="259.0" r="6.2" fill="#0fbafa"/><circle cx="241.3" cy="86.9" r="5.4" fill="#0fbafa"/><circle cx="212.5" cy="309.5" r="6.4" fill="#0fbafa"/><circle cx="284.5" cy="202.7" r="3.9" fill="#0fbafa"/><circle cx="237.5" cy="284.2" r="4.4" fill="#0fbafa"/><circle cx="268.4" cy="244.9" r="3.9" fill="#0fbafa"/><circle cx="269.1" cy="121.0" r="6.0" fill="#0fbafa"/><circle cx="300.2" cy="217.1" r="4.7" fill="#0fbafa"/><circle cx="275.4" cy="101.8" r="5.9" fill="#0fbafa"/><circle cx="306.8" cy="257.9" r="5.0" fill="#0fbafa"/><circle cx="337.8" cy="289.0" r="3.5" fill="#0fbafa"/><circle cx="297.4" cy="220.7" r="3.1" fill="#0fbafa"/><circle cx="292.5" cy="193.5" r="3.9" fill="#0fbafa"/><circle cx="303.9" cy="149.7" r="3.3" fill="#0fbafa"/><circle cx="243.8" cy="29.2" r="3.4" fill="#0fbafa"/><circle cx="255.2" cy="107.5" r="4.7" fill="#0fbafa"/><circle cx="330.4" cy="107.0" r="3.7" fill="#0fbafa"/><circle cx="251.5" cy="241.8" r="5.6" fill="#0fbafa"/><circle cx="311.5" cy="53.7" r="4.4" fill="#0fbafa"/><circle cx="282.9" cy="209.0" r="4.1" fill="#0fbafa"/><circle cx="257.6" cy="49.6" r="6.5" fill="#0fbafa"/><circle cx="328.2" cy="269.0" r="5.1" fill="#0fbafa"/><circle cx="303.5" cy="175.9" r="5.4" fill="#0fbafa"/><circle cx="312.8" cy="189.2" r="6.4" fill="#0fbafa"/><circle cx="267.0" cy="123.7" r="6.0" fill="#0fbafa"/><circle cx="268.8" cy="219.8" r="5.4" fill="#0fbafa"/><circle cx="295.8" cy="235.7" r="4.4" fill="#0fbafa"/><circle cx="315.1" cy="90.4" r="4.0" fill="#0fbafa"/><circle cx="296.2" cy="192.0" r="3.8" fill="#0fbafa"/><circle cx="283.2" cy="160.4" r="5.3" fill="#0fbafa"/><circle cx="312.4" cy="37.0" r="6.1" fill="#0fbafa"/><circle cx="318.9" cy="278.9" r="4.4" fill="#0fbafa"/><circle cx="283.8" cy="214.6" r="6.1" fill="#0fbafa"/><circle cx="262.6" cy="238.7" r="4.1" fill="#0fbafa"/><circle cx="380.0" cy="305.1" r="3.6" fill="#0fbafa"/><circle cx="269.6" cy="163.5" r="3.7" fill="#0fbafa"/><circle cx="326.8" cy="55.8" r="6.0" fill="#0fbafa"/><circle cx="326.3" cy="84.7" r="5.5" fill="#0fbafa"/><circle cx="240.0" cy="74.1" r="5.2" fill="#0fbafa"/><circle cx="301.6" cy="98.3" r="3.3" fill="#0fbafa"/><circle cx="269.2" cy="321.1" r="6.3" fill="#0fbafa"/><circle cx="287.2" cy="241.8" r="4.4" fill="#0fbafa"/><circle cx="284.2" cy="158.5" r="4.9" fill="#0fbafa"/><circle cx="254.7" cy="61.4" r="3.0" fill="#0fbafa"/><circle cx="251.9" cy="74.3" r="3.7" fill="#0fbafa"/><circle cx="303.9" cy="161.9" r="6.0" fill="#0fbafa"/><circle cx="244.3" cy="299.6" r="4.5" fill="#0fbafa"/><circle cx="266.9" cy="283.4" r="4.8" fill="#0fbafa"/><circle cx="267.1" cy="188.6" r="4.2" fill="#0fbafa"/><circle cx="261.9" cy="118.4" r="3.0" fill="#0fbafa"/><circle cx="262.0" cy="270.9" r="5.9" fill="#0fbafa"/><circle cx="279.9" cy="134.0" r="4.7" fill="#0fbafa"/><circle cx="311.9" cy="232.8" r="6.3" fill="#0fbafa"/><circle cx="297.0" cy="192.2" r="6.3" fill="#0fbafa"/><circle cx="287.2" cy="146.5" r="3.1" fill="#0fbafa"/><circle cx="319.0" cy="131.8" r="4.7" fill="#0fbafa"/><circle cx="337.8" cy="265.9" r="5.4" fill="#0fbafa"/><circle cx="332.9" cy="88.5" r="6.3" fill="#0fbafa"/><circle cx="347.6" cy="306.6" r="5.1" fill="#0fbafa"/><circle cx="295.3" cy="202.9" r="6.3" fill="#0fbafa"/><circle cx="307.8" cy="216.5" r="4.9" fill="#0fbafa"/><circle cx="326.9" cy="254.1" r="5.1" fill="#0fbafa"/><circle cx="232.0" cy="117.8" r="6.2" fill="#0fbafa"/><circle cx="269.0" cy="309.9" r="5.6" fill="#0fbafa"/><circle cx="275.5" cy="82.2" r="3.4" fill="#0fbafa"/><circle cx="251.3" cy="90.4" r="4.7" fill="#0fbafa"/><circle cx="320.6" cy="91.8" r="4.3" fill="#0fbafa"/><circle cx="317.7" cy="176.4" r="3.7" fill="#0fbafa"/><circle cx="295.8" cy="253.4" r="5.6" fill="#0fbafa"/><circle cx="256.2" cy="250.5" r="3.0" fill="#0fbafa"/><circle cx="260.1" cy="209.8" r="3.7" fill="#0fbafa"/><circle cx="261.1" cy="91.3" r="6.2" fill="#0fbafa"/><circle cx="238.8" cy="66.8" r="5.2" fill="#0fbafa"/><circle cx="296.7" cy="193.3" r="4.3" fill="#0fbafa"/><circle cx="274.2" cy="80.2" r="3.7" fill="#0fbafa"/><circle cx="254.9" cy="272.5" r="3.5" fill="#0fbafa"/><circle cx="331.7" cy="258.1" r="5.3" fill="#0fbafa"/><circle cx="264.9" cy="179.4" r="3.8" fill="#0fbafa"/><circle cx="324.7" cy="225.7" r="3.0" fill="#0fbafa"/><circle cx="345.9" cy="282.8" r="4.4" fill="#0fbafa"/><circle cx="338.6" cy="61.8" r="5.5" fill="#0fbafa"/><circle cx="286.0" cy="172.1" r="6.3" fill="#0fbafa"/><circle cx="254.9" cy="55.0" r="4.6" fill="#0fbafa"/><circle cx="278.5" cy="181.6" r="6.0" fill="#0fbafa"/><circle cx="255.2" cy="275.1" r="5.6" fill="#0fbafa"/><circle cx="319.2" cy="142.3" r="4.1" fill="#0fbafa"/><circle cx="323.3" cy="121.3" r="3.7" fill="#0fbafa"/><circle cx="345.1" cy="22.9" r="3.4" fill="#0fbafa"/><circle cx="281.3" cy="182.0" r="3.4" fill="#0fbafa"/><circle cx="263.8" cy="234.2" r="3.8" fill="#0fbafa"/><circle cx="280.6" cy="214.4" r="5.8" fill="#0fbafa"/><circle cx="216.5" cy="317.0" r="5.8" fill="#0fbafa"/><circle cx="325.9" cy="233.4" r="6.1" fill="#0fbafa"/><circle cx="331.3" cy="275.1" r="3.3" fill="#0fbafa"/><circle cx="333.0" cy="303.5" r="3.6" fill="#0fbafa"/><circle cx="265.8" cy="119.8" r="5.8" fill="#0fbafa"/><circle cx="230.4" cy="35.7" r="5.9" fill="#0fbafa"/><circle cx="320.6" cy="74.7" r="3.9" fill="#0fbafa"/><circle cx="295.9" cy="232.7" r="5.9" fill="#0fbafa"/><circle cx="276.9" cy="171.5" r="4.9" fill="#0fbafa"/><circle cx="323.8" cy="137.8" r="5.1" fill="#0fbafa"/><circle cx="287.6" cy="158.2" r="3.1" fill="#0fbafa"/><circle cx="287.2" cy="90.5" r="6.0" fill="#0fbafa"/><circle cx="242.0" cy="303.2" r="4.3" fill="#0fbafa"/><circle cx="305.8" cy="99.4" r="4.1" fill="#0fbafa"/><circle cx="245.0" cy="307.0" r="5.4" fill="#0fbafa"/><circle cx="274.7" cy="240.8" r="6.5" fill="#0fbafa"/><circle cx="284.1" cy="109.1" r="5.5" fill="#0fbafa"/><circle cx="251.7" cy="30.2" r="6.4" fill="#0fbafa"/><circle cx="270.9" cy="237.3" r="6.1" fill="#0fbafa"/><circle cx="234.3" cy="272.1" r="4.8" fill="#0fbafa"/><circle cx="311.7" cy="329.9" r="5.7" fill="#0fbafa"/><circle cx="289.0" cy="181.4" r="3.3" fill="#0fbafa"/><circle cx="305.8" cy="165.1" r="3.4" fill="#0fbafa"/><circle cx="273.6" cy="163.2" r="4.0" fill="#0fbafa"/><circle cx="263.0" cy="256.0" r="4.4" fill="#0fbafa"/><circle cx="287.3" cy="267.0" r="6.1" fill="#0fbafa"/><circle cx="275.6" cy="110.8" r="6.3" fill="#0fbafa"/><circle cx="309.8" cy="124.1" r="5.7" fill="#0fbafa"/><circle cx="265.9" cy="30.3" r="5.4" fill="#0fbafa"/><circle cx="292.6" cy="171.1" r="5.0" fill="#0fbafa"/><circle cx="296.5" cy="181.0" r="3.6" fill="#0fbafa"/><circle cx="275.1" cy="266.2" r="4.4" fill="#0fbafa"/><circle cx="252.7" cy="133.6" r="4.0" fill="#0fbafa"/><circle cx="247.7" cy="311.3" r="4.1" fill="#0fbafa"/><circle cx="302.9" cy="154.9" r="6.4" fill="#0fbafa"/><circle cx="323.5" cy="280.2" r="3.6" fill="#0fbafa"/><circle cx="342.6" cy="238.7" r="6.2" fill="#0fbafa"/><circle cx="277.2" cy="38.6" r="5.9" fill="#0fbafa"/><circle cx="248.4" cy="295.6" r="4.1" fill="#0fbafa"/><circle cx="322.1" cy="65.1" r="6.3" fill="#0fbafa"/><circle cx="349.5" cy="319.5" r="6.4" fill="#0fbafa"/><circle cx="314.6" cy="284.5" r="5.0" fill="#0fbafa"/><circle cx="265.1" cy="236.3" r="3.5" fill="#0fbafa"/><circle cx="307.9" cy="295.0" r="4.4" fill="#0fbafa"/><circle cx="309.7" cy="247.8" r="3.3" fill="#0fbafa"/><circle cx="303.3" cy="88.2" r="4.8" fill="#0fbafa"/><circle cx="262.3" cy="103.3" r="5.0" fill="#0fbafa"/><circle cx="247.2" cy="116.8" r="5.2" fill="#0fbafa"/><circle cx="335.5" cy="308.8" r="4.9" fill="#0fbafa"/><circle cx="264.0" cy="321.0" r="3.9" fill="#0fbafa"/><circle cx="305.3" cy="246.0" r="4.8" fill="#0fbafa"/><circle cx="342.4" cy="41.6" r="3.2" fill="#0fbafa"/><circle cx="234.7" cy="312.9" r="4.9" fill="#0fbafa"/><circle cx="228.2" cy="305.3" r="6.5" fill="#0fbafa"/><circle cx="323.2" cy="293.0" r="4.5" fill="#0fbafa"/><circle cx="256.8" cy="27.7" r="6.1" fill="#0fbafa"/><circle cx="324.9" cy="216.8" r="6.0" fill="#0fbafa"/><circle cx="304.1" cy="175.6" r="4.3" fill="#0fbafa"/><circle cx="262.4" cy="126.7" r="3.6" fill="#0fbafa"/><circle cx="267.9" cy="301.7" r="6.2" fill="#0fbafa"/><circle cx="315.6" cy="86.4" r="6.2" fill="#0fbafa"/><circle cx="307.6" cy="201.7" r="4.7" fill="#0fbafa"/><circle cx="261.4" cy="290.7" r="5.9" fill="#0fbafa"/><circle cx="302.0" cy="163.5" r="6.3" fill="#0fbafa"/><circle cx="291.9" cy="152.9" r="4.3" fill="#0fbafa"/><circle cx="310.8" cy="47.1" r="3.3" fill="#0fbafa"/><circle cx="253.0" cy="324.9" r="5.3" fill="#0fbafa"/><circle cx="290.9" cy="206.0" r="6.2" fill="#0fbafa"/><circle cx="256.3" cy="49.8" r="3.3" fill="#0fbafa"/><circle cx="306.7" cy="285.7" r="5.9" fill="#0fbafa"/><circle cx="245.5" cy="260.3" r="3.2" fill="#0fbafa"/><circle cx="320.0" cy="270.2" r="5.0" fill="#0fbafa"/><circle cx="290.6" cy="172.8" r="5.7" fill="#0fbafa"/><circle cx="301.8" cy="127.3" r="5.8" fill="#0fbafa"/><circle cx="271.8" cy="111.6" r="4.6" fill="#0fbafa"/><circle cx="249.5" cy="313.1" r="3.4" fill="#0fbafa"/><circle cx="277.6" cy="190.1" r="4.5" fill="#0fbafa"/><circle cx="304.9" cy="150.0" r="3.6" fill="#0fbafa"/><circle cx="271.4" cy="262.1" r="4.9" fill="#0fbafa"/><circle cx="304.2" cy="316.0" r="5.6" fill="#0fbafa"/><circle cx="277.0" cy="63.9" r="6.3" fill="#0fbafa"/><circle cx="324.6" cy="98.8" r="3.1" fill="#0fbafa"/><circle cx="294.4" cy="223.4" r="5.1" fill="#0fbafa"/><circle cx="277.4" cy="242.4" r="3.3" fill="#0fbafa"/><circle cx="316.5" cy="189.1" r="3.1" fill="#0fbafa"/><circle cx="287.7" cy="243.9" r="4.5" fill="#0fbafa"/><circle cx="245.6" cy="36.3" r="3.1" fill="#0fbafa"/><circle cx="269.2" cy="291.1" r="5.1" fill="#0fbafa"/><circle cx="263.3" cy="100.4" r="5.0" fill="#0fbafa"/><circle cx="312.0" cy="113.8" r="3.6" fill="#0fbafa"/><circle cx="310.3" cy="30.4" r="4.8" fill="#0fbafa"/><circle cx="334.3" cy="49.4" r="3.9" fill="#0fbafa"/><circle cx="274.4" cy="225.2" r="4.7" fill="#0fbafa"/><circle cx="354.1" cy="270.4" r="5.6" fill="#0fbafa"/><circle cx="275.8" cy="132.2" r="4.7" fill="#0fbafa"/><circle cx="313.3" cy="217.6" r="4.9" fill="#0fbafa"/><circle cx="293.4" cy="167.7" r="3.6" fill="#0fbafa"/><circle cx="243.4" cy="263.6" r="3.8" fill="#0fbafa"/><circle cx="252.1" cy="309.8" r="4.7" fill="#0fbafa"/><circle cx="344.4" cy="46.3" r="4.5" fill="#0fbafa"/><circle cx="326.3" cy="318.2" r="6.0" fill="#0fbafa"/><circle cx="302.7" cy="203.4" r="5.7" fill="#0fbafa"/><circle cx="251.6" cy="89.8" r="4.4" fill="#0fbafa"/><circle cx="294.5" cy="228.4" r="5.6" fill="#0fbafa"/><circle cx="337.9" cy="34.5" r="5.4" fill="#0fbafa"/><circle cx="303.6" cy="151.5" r="4.5" fill="#0fbafa"/><circle cx="230.3" cy="213.5" r="4.9" fill="#0fbafa"/><circle cx="345.1" cy="119.0" r="4.5" fill="#0fbafa"/><circle cx="312.8" cy="106.3" r="3.9" fill="#0fbafa"/><circle cx="305.3" cy="169.5" r="5.5" fill="#0fbafa"/><circle cx="335.1" cy="126.4" r="4.3" fill="#0fbafa"/><circle cx="264.8" cy="261.2" r="6.4" fill="#0fbafa"/><circle cx="325.2" cy="266.1" r="3.6" fill="#0fbafa"/><circle cx="313.7" cy="116.7" r="6.0" fill="#0fbafa"/><circle cx="285.3" cy="195.5" r="3.7" fill="#0fbafa"/><circle cx="282.7" cy="116.0" r="4.3" fill="#0fbafa"/><circle cx="305.2" cy="227.0" r="5.3" fill="#0fbafa"/><circle cx="214.8" cy="30.3" r="5.9" fill="#0fbafa"/><circle cx="282.3" cy="231.9" r="5.4" fill="#0fbafa"/><circle cx="288.5" cy="159.2" r="4.6" fill="#0fbafa"/><circle cx="293.5" cy="196.9" r="4.7" fill="#0fbafa"/><circle cx="311.0" cy="164.1" r="3.0" fill="#0fbafa"/><circle cx="252.7" cy="46.8" r="5.7" fill="#0fbafa"/><circle cx="243.8" cy="309.0" r="5.5" fill="#0fbafa"/>
<circle cx="221.9" cy="344.9" r="3.6" fill="#0a5cf5"/><circle cx="321.4" cy="252.3" r="3.2" fill="#0a5cf5"/><circle cx="371.4" cy="42.1" r="4.8" fill="#0a5cf5"/><circle cx="256.9" cy="256.0" r="3.2" fill="#0a5cf5"/><circle cx="309.5" cy="158.5" r="4.8" fill="#0a5cf5"/><circle cx="244.5" cy="269.8" r="3.1" fill="#0a5cf5"/><circle cx="374.9" cy="329.1" r="4.9" fill="#0a5cf5"/><circle cx="299.0" cy="187.0" r="3.0" fill="#0a5cf5"/><circle cx="351.0" cy="47.9" r="3.2" fill="#0a5cf5"/><circle cx="335.5" cy="301.0" r="3.3" fill="#0a5cf5"/><circle cx="305.0" cy="157.3" r="3.9" fill="#0a5cf5"/><circle cx="308.6" cy="179.3" r="3.4" fill="#0a5cf5"/><circle cx="297.7" cy="172.3" r="3.0" fill="#0a5cf5"/><circle cx="346.6" cy="113.7" r="2.9" fill="#0a5cf5"/><circle cx="306.5" cy="216.8" r="4.1" fill="#0a5cf5"/><circle cx="281.1" cy="169.6" r="4.1" fill="#0a5cf5"/><circle cx="344.5" cy="96.5" r="4.6" fill="#0a5cf5"/><circle cx="358.0" cy="325.5" r="4.3" fill="#0a5cf5"/><circle cx="251.8" cy="72.8" r="3.7" fill="#0a5cf5"/><circle cx="328.7" cy="261.9" r="4.5" fill="#0a5cf5"/><circle cx="337.9" cy="113.6" r="4.1" fill="#0a5cf5"/><circle cx="304.6" cy="133.1" r="4.2" fill="#0a5cf5"/><circle cx="347.5" cy="85.6" r="2.8" fill="#0a5cf5"/><circle cx="243.7" cy="99.4" r="2.6" fill="#0a5cf5"/><circle cx="320.4" cy="266.7" r="2.8" fill="#0a5cf5"/><circle cx="238.2" cy="322.0" r="4.6" fill="#0a5cf5"/><circle cx="360.4" cy="32.0" r="2.6" fill="#0a5cf5"/><circle cx="310.9" cy="251.4" r="3.1" fill="#0a5cf5"/><circle cx="336.8" cy="111.9" r="2.9" fill="#0a5cf5"/><circle cx="370.3" cy="340.2" r="4.0" fill="#0a5cf5"/><circle cx="218.9" cy="38.9" r="4.4" fill="#0a5cf5"/><circle cx="251.4" cy="95.3" r="3.8" fill="#0a5cf5"/><circle cx="234.5" cy="90.7" r="4.2" fill="#0a5cf5"/><circle cx="267.7" cy="264.6" r="4.7" fill="#0a5cf5"/><circle cx="294.2" cy="217.8" r="3.2" fill="#0a5cf5"/><circle cx="315.9" cy="121.7" r="3.7" fill="#0a5cf5"/><circle cx="296.4" cy="189.3" r="3.5" fill="#0a5cf5"/><circle cx="222.8" cy="315.5" r="3.0" fill="#0a5cf5"/><circle cx="348.7" cy="79.2" r="2.6" fill="#0a5cf5"/><circle cx="289.4" cy="203.2" r="4.9" fill="#0a5cf5"/><circle cx="215.3" cy="28.9" r="4.9" fill="#0a5cf5"/><circle cx="265.1" cy="251.0" r="2.9" fill="#0a5cf5"/><circle cx="299.4" cy="188.2" r="4.1" fill="#0a5cf5"/><circle cx="319.4" cy="274.8" r="4.5" fill="#0a5cf5"/><circle cx="361.7" cy="38.4" r="3.3" fill="#0a5cf5"/><circle cx="323.0" cy="123.0" r="3.3" fill="#0a5cf5"/><circle cx="364.9" cy="323.0" r="4.6" fill="#0a5cf5"/><circle cx="216.9" cy="324.9" r="3.4" fill="#0a5cf5"/><circle cx="337.7" cy="294.5" r="4.1" fill="#0a5cf5"/><circle cx="220.4" cy="322.8" r="3.9" fill="#0a5cf5"/><circle cx="351.2" cy="52.1" r="3.6" fill="#0a5cf5"/><circle cx="328.5" cy="109.6" r="3.7" fill="#0a5cf5"/><circle cx="343.5" cy="288.7" r="3.5" fill="#0a5cf5"/><circle cx="340.8" cy="325.7" r="3.5" fill="#0a5cf5"/><circle cx="278.6" cy="180.6" r="2.5" fill="#0a5cf5"/><circle cx="362.0" cy="47.9" r="2.7" fill="#0a5cf5"/><circle cx="298.1" cy="209.4" r="4.8" fill="#0a5cf5"/><circle cx="289.9" cy="215.4" r="3.0" fill="#0a5cf5"/><circle cx="318.8" cy="286.6" r="4.4" fill="#0a5cf5"/><circle cx="297.7" cy="239.7" r="3.2" fill="#0a5cf5"/><circle cx="236.6" cy="315.3" r="4.2" fill="#0a5cf5"/><circle cx="273.4" cy="210.5" r="3.7" fill="#0a5cf5"/><circle cx="237.6" cy="286.2" r="3.5" fill="#0a5cf5"/><circle cx="358.9" cy="73.3" r="3.3" fill="#0a5cf5"/><circle cx="252.6" cy="271.9" r="4.8" fill="#0a5cf5"/><circle cx="295.5" cy="163.0" r="3.2" fill="#0a5cf5"/><circle cx="225.4" cy="32.7" r="3.7" fill="#0a5cf5"/><circle cx="338.3" cy="77.8" r="2.8" fill="#0a5cf5"/><circle cx="334.5" cy="76.0" r="4.2" fill="#0a5cf5"/><circle cx="291.4" cy="194.7" r="3.1" fill="#0a5cf5"/>
<path d="M182.0,185.0 C178.0,195.8 172.3,232.5 168.0,260.0 C163.7,287.5 159.2,318.3 156.0,350.0 C152.8,381.7 149.3,418.3 149.0,450.0 C148.7,481.7 151.2,513.3 154.0,540.0 C156.8,566.7 160.0,598.3 166.0,610.0 C172.0,621.7 186.3,621.7 190.0,610.0 C193.7,598.3 188.5,566.7 188.0,540.0 C187.5,513.3 185.8,481.7 187.0,450.0 C188.2,418.3 192.7,381.7 195.0,350.0 C197.3,318.3 201.5,285.8 201.0,260.0 C200.5,234.2 195.2,207.5 192.0,195.0 C188.8,182.5 186.0,174.2 182.0,185.0 Z" fill="#08f0e0"/>
<path d="M385.0,195.0 C381.7,205.0 374.8,234.2 374.0,260.0 C373.2,285.8 376.5,318.3 380.0,350.0 C383.5,381.7 391.8,418.3 395.0,450.0 C398.2,481.7 398.8,513.3 399.0,540.0 C399.2,566.7 392.5,598.3 396.0,610.0 C399.5,621.7 414.7,621.7 420.0,610.0 C425.3,598.3 426.7,566.7 428.0,540.0 C429.3,513.3 429.5,481.7 428.0,450.0 C426.5,418.3 422.8,381.7 419.0,350.0 C415.2,318.3 409.2,285.0 405.0,260.0 C400.8,235.0 397.3,210.8 394.0,200.0 C390.7,189.2 388.3,185.0 385.0,195.0 Z" fill="#08f0e0"/>
<path d="M178.0,270.0 C174.7,283.3 169.3,330.0 166.0,360.0 C162.7,390.0 158.7,420.0 158.0,450.0 C157.3,480.0 159.7,513.3 162.0,540.0 C164.3,566.7 168.5,598.3 172.0,610.0 C175.5,621.7 182.0,621.7 183.0,610.0 C184.0,598.3 179.5,566.7 178.0,540.0 C176.5,513.3 173.7,480.0 174.0,450.0 C174.3,420.0 178.0,388.3 180.0,360.0 C182.0,331.7 186.3,295.0 186.0,280.0 C185.7,265.0 181.3,256.7 178.0,270.0 Z" fill="#08ee78"/>
<path d="M390.0,300.0 C389.7,313.3 391.3,351.7 394.0,380.0 C396.7,408.3 403.7,443.3 406.0,470.0 C408.3,496.7 408.5,516.7 408.0,540.0 C407.5,563.3 402.0,598.3 403.0,610.0 C404.0,621.7 411.5,621.7 414.0,610.0 C416.5,598.3 417.7,566.7 418.0,540.0 C418.3,513.3 418.0,480.0 416.0,450.0 C414.0,420.0 409.3,385.0 406.0,360.0 C402.7,335.0 398.7,310.0 396.0,300.0 C393.3,290.0 390.3,286.7 390.0,300.0 Z" fill="#08ee78"/>
<path d="M250.0,530.0 C252.0,522.8 261.7,519.2 270.0,515.0 C278.3,510.8 290.8,504.2 300.0,505.0 C309.2,505.8 320.0,513.3 325.0,520.0 C330.0,526.7 332.5,537.5 330.0,545.0 C327.5,552.5 318.3,560.8 310.0,565.0 C301.7,569.2 288.7,571.2 280.0,570.0 C271.3,568.8 263.0,564.7 258.0,558.0 C253.0,551.3 248.0,537.2 250.0,530.0 Z" fill="#0fbafa"/>
<circle cx="340.6" cy="575.4" r="4.7" fill="#0fbafa"/><circle cx="235.4" cy="543.3" r="3.3" fill="#0fbafa"/><circle cx="291.3" cy="501.7" r="2.6" fill="#0fbafa"/><circle cx="280.6" cy="509.9" r="3.4" fill="#0fbafa"/><circle cx="228.1" cy="497.7" r="4.1" fill="#0fbafa"/><circle cx="277.7" cy="536.1" r="4.2" fill="#0fbafa"/><circle cx="269.9" cy="495.2" r="4.3" fill="#0fbafa"/><circle cx="298.6" cy="549.2" r="3.9" fill="#0fbafa"/><circle cx="346.3" cy="522.7" r="4.3" fill="#0fbafa"/><circle cx="271.1" cy="541.5" r="4.0" fill="#0fbafa"/><circle cx="264.3" cy="497.7" r="3.4" fill="#0fbafa"/><circle cx="314.7" cy="543.2" r="3.3" fill="#0fbafa"/><circle cx="305.3" cy="506.4" r="2.5" fill="#0fbafa"/><circle cx="265.4" cy="563.4" r="2.6" fill="#0fbafa"/><circle cx="239.3" cy="498.9" r="2.1" fill="#0fbafa"/><circle cx="259.4" cy="541.6" r="4.5" fill="#0fbafa"/><circle cx="266.4" cy="523.3" r="2.9" fill="#0fbafa"/><circle cx="263.1" cy="560.0" r="3.6" fill="#0fbafa"/><circle cx="257.3" cy="499.6" r="4.4" fill="#0fbafa"/><circle cx="313.4" cy="564.6" r="2.7" fill="#0fbafa"/><circle cx="293.2" cy="572.7" r="3.8" fill="#0fbafa"/><circle cx="343.2" cy="505.1" r="4.9" fill="#0fbafa"/><circle cx="232.0" cy="527.5" r="2.1" fill="#0fbafa"/><circle cx="326.2" cy="551.8" r="4.9" fill="#0fbafa"/><circle cx="325.6" cy="575.4" r="3.6" fill="#0fbafa"/>
</g>
<g transform="translate(20,186) scale(0.20000)" filter="url(#b2)">
<path d="M40.0,470.0 C42.7,449.2 53.2,461.7 56.0,485.0 C58.8,508.3 59.7,589.2 57.0,610.0 C54.3,630.8 42.8,633.3 40.0,610.0 C37.2,586.7 37.3,490.8 40.0,470.0 Z" fill="#70f010"/>
<path d="M535.0,440.0 C532.8,414.2 524.3,426.7 522.0,455.0 C519.7,483.3 518.8,584.2 521.0,610.0 C523.2,635.8 532.7,638.3 535.0,610.0 C537.3,581.7 537.2,465.8 535.0,440.0 Z" fill="#70f010"/>
<path d="M54.0,540.0 L55.0,600.0" fill="none" stroke="#ffc808" stroke-width="5" stroke-linecap="butt" stroke-linejoin="round"/>
<path d="M54.0,565.0 L55.0,600.0" fill="none" stroke="#f80808" stroke-width="4" stroke-linecap="butt" stroke-linejoin="round"/>
<path d="M523.0,520.0 L523.0,600.0" fill="none" stroke="#ffc808" stroke-width="4" stroke-linecap="butt" stroke-linejoin="round"/>
<path d="M167.0,400.0 C166.3,411.7 163.0,446.7 163.0,470.0 C163.0,493.3 164.8,518.3 167.0,540.0 C169.2,561.7 174.5,590.0 176.0,600.0" fill="none" stroke="#70f010" stroke-width="6" stroke-linecap="round" stroke-linejoin="round"/>
<path d="M404.0,430.0 C405.2,441.7 410.0,478.3 411.0,500.0 C412.0,521.7 410.8,543.3 410.0,560.0 C409.2,576.7 406.7,593.3 406.0,600.0" fill="none" stroke="#70f010" stroke-width="6" stroke-linecap="round" stroke-linejoin="round"/>
<path d="M166.0,480.0 C166.7,490.8 168.2,525.0 170.0,545.0 C171.8,565.0 175.8,590.8 177.0,600.0" fill="none" stroke="#ffc808" stroke-width="5" stroke-linecap="round" stroke-linejoin="round"/>
<path d="M411.0,510.0 C410.8,518.3 411.0,545.0 410.0,560.0 C409.0,575.0 405.8,593.3 405.0,600.0" fill="none" stroke="#ffc808" stroke-width="5" stroke-linecap="round" stroke-linejoin="round"/>
<path d="M170.0,535.0 C170.7,540.8 172.7,559.5 174.0,570.0 C175.3,580.5 177.3,593.3 178.0,598.0" fill="none" stroke="#f80808" stroke-width="5" stroke-linecap="round" stroke-linejoin="round"/>
<path d="M409.0,540.0 C408.5,545.8 407.0,565.3 406.0,575.0 C405.0,584.7 403.5,594.2 403.0,598.0" fill="none" stroke="#f80808" stroke-width="5" stroke-linecap="round" stroke-linejoin="round"/>
<path d="M196.0,592.0 L395.0,592.0" fill="none" stroke="#0fbafa" stroke-width="8" stroke-linecap="butt" stroke-linejoin="round"/>
<path d="M402.0,586.0 L525.0,586.0" fill="none" stroke="#08ee78" stroke-width="8" stroke-linecap="butt" stroke-linejoin="round"/>
<path d="M402.0,590.0 L525.0,590.0" fill="none" stroke="#ffc808" stroke-width="7" stroke-linecap="butt" stroke-linejoin="round"/>
<path d="M402.0,593.0 L525.0,593.0" fill="none" stroke="#f80808" stroke-width="7" stroke-linecap="butt" stroke-linejoin="round"/>
<ellipse cx="143" cy="592" rx="7" ry="6" fill="#f80808"/>
<path d="M60.0,594.0 L170.0,594.0" fill="none" stroke="#08ee78" stroke-width="4" stroke-linecap="butt" stroke-linejoin="round"/>
<path d="M52.0,24.0 L525.0,24.0" fill="none" stroke="#901010" stroke-width="3" stroke-linecap="butt" stroke-linejoin="round"/>
</g>
</g>
<rect x="30.4" y="190.7" width="94.6" height="114.5" fill="none" stroke="#2a2a2a" stroke-width="0.7"/>
<line x1="35.0" x2="35.0" y1="303.2" y2="305.2" stroke="#222" stroke-width="0.5"/>
<line x1="35.0" x2="35.0" y1="192.7" y2="190.7" stroke="#222" stroke-width="0.5"/>
<text class="k" text-anchor="middle" x="35.0" y="310.4">-1</text>
<line x1="45.8" x2="45.8" y1="303.2" y2="305.2" stroke="#222" stroke-width="0.5"/>
<line x1="45.8" x2="45.8" y1="192.7" y2="190.7" stroke="#222" stroke-width="0.5"/>
<text class="k" text-anchor="middle" x="45.8" y="310.4">-0.75</text>
<line x1="56.5" x2="56.5" y1="303.2" y2="305.2" stroke="#222" stroke-width="0.5"/>
<line x1="56.5" x2="56.5" y1="192.7" y2="190.7" stroke="#222" stroke-width="0.5"/>
<text class="k" text-anchor="middle" x="56.5" y="310.4">-0.5</text>
<line x1="67.2" x2="67.2" y1="303.2" y2="305.2" stroke="#222" stroke-width="0.5"/>
<line x1="67.2" x2="67.2" y1="192.7" y2="190.7" stroke="#222" stroke-width="0.5"/>
<text class="k" text-anchor="middle" x="67.2" y="310.4">-0.25</text>
<line x1="78.0" x2="78.0" y1="303.2" y2="305.2" stroke="#222" stroke-width="0.5"/>
<line x1="78.0" x2="78.0" y1="192.7" y2="190.7" stroke="#222" stroke-width="0.5"/>
<text class="k" text-anchor="middle" x="78.0" y="310.4">0</text>
<line x1="88.8" x2="88.8" y1="303.2" y2="305.2" stroke="#222" stroke-width="0.5"/>
<line x1="88.8" x2="88.8" y1="192.7" y2="190.7" stroke="#222" stroke-width="0.5"/>
<text class="k" text-anchor="middle" x="88.8" y="310.4">0.25</text>
<line x1="99.5" x2="99.5" y1="303.2" y2="305.2" stroke="#222" stroke-width="0.5"/>
<line x1="99.5" x2="99.5" y1="192.7" y2="190.7" stroke="#222" stroke-width="0.5"/>
<text class="k" text-anchor="middle" x="99.5" y="310.4">0.5</text>
<line x1="110.2" x2="110.2" y1="303.2" y2="305.2" stroke="#222" stroke-width="0.5"/>
<line x1="110.2" x2="110.2" y1="192.7" y2="190.7" stroke="#222" stroke-width="0.5"/>
<text class="k" text-anchor="middle" x="110.2" y="310.4">0.75</text>
<line x1="121.0" x2="121.0" y1="303.2" y2="305.2" stroke="#222" stroke-width="0.5"/>
<line x1="121.0" x2="121.0" y1="192.7" y2="190.7" stroke="#222" stroke-width="0.5"/>
<text class="k" text-anchor="middle" x="121.0" y="310.4">1</text>
<line x1="30.4" x2="32.4" y1="305.2" y2="305.2" stroke="#222" stroke-width="0.5"/>
<line x1="125.0" x2="123.0" y1="305.2" y2="305.2" stroke="#222" stroke-width="0.5"/>
<text class="k" text-anchor="end" x="29.6" y="306.8">0</text>
<line x1="30.4" x2="32.4" y1="290.4" y2="290.4" stroke="#222" stroke-width="0.5"/>
<line x1="125.0" x2="123.0" y1="290.4" y2="290.4" stroke="#222" stroke-width="0.5"/>
<text class="k" text-anchor="end" x="29.6" y="292.0">0.25</text>
<line x1="30.4" x2="32.4" y1="275.6" y2="275.6" stroke="#222" stroke-width="0.5"/>
<line x1="125.0" x2="123.0" y1="275.6" y2="275.6" stroke="#222" stroke-width="0.5"/>
<text class="k" text-anchor="end" x="29.6" y="277.2">0.5</text>
<line x1="30.4" x2="32.4" y1="260.9" y2="260.9" stroke="#222" stroke-width="0.5"/>
<line x1="125.0" x2="123.0" y1="260.9" y2="260.9" stroke="#222" stroke-width="0.5"/>
<text class="k" text-anchor="end" x="29.6" y="262.5">0.75</text>
<line x1="30.4" x2="32.4" y1="246.1" y2="246.1" stroke="#222" stroke-width="0.5"/>
<line x1="125.0" x2="123.0" y1="246.1" y2="246.1" stroke="#222" stroke-width="0.5"/>
<text class="k" text-anchor="end" x="29.6" y="247.7">1</text>
<line x1="30.4" x2="32.4" y1="231.3" y2="231.3" stroke="#222" stroke-width="0.5"/>
<line x1="125.0" x2="123.0" y1="231.3" y2="231.3" stroke="#222" stroke-width="0.5"/>
<text class="k" text-anchor="end" x="29.6" y="232.9">1.25</text>
<line x1="30.4" x2="32.4" y1="216.5" y2="216.5" stroke="#222" stroke-width="0.5"/>
<line x1="125.0" x2="123.0" y1="216.5" y2="216.5" stroke="#222" stroke-width="0.5"/>
<text class="k" text-anchor="end" x="29.6" y="218.1">1.5</text>
<line x1="30.4" x2="32.4" y1="201.7" y2="201.7" stroke="#222" stroke-width="0.5"/>
<line x1="125.0" x2="123.0" y1="201.7" y2="201.7" stroke="#222" stroke-width="0.5"/>
<text class="k" text-anchor="end" x="29.6" y="203.3">1.75</text>
<text class="a" text-anchor="middle" x="78.0" y="315.0">r/Db</text>
<text class="a" text-anchor="middle" transform="translate(24.0,247.9) rotate(-90)">y/Db</text>
<rect x="146.8" y="172.3" width="124.9" height="148.5" fill="#fff" stroke="#d2d2d2" stroke-width="1"/><line x1="146.8" x2="271.7" y1="184.0" y2="184.0" stroke="#d2d2d2" stroke-width="1"/><text class="t" x="147.0" y="182.4">D-BR0.23-RIM2</text>
<clipPath id="c11"><rect x="162.3" y="190" width="93.7" height="115.0"/></clipPath>
<g clip-path="url(#c11)">
<rect x="161.3" y="189" width="95.7" height="117.0" fill="#0a5cf5"/>
<g transform="translate(150,186) scale(0.20000)" filter="url(#bl)">
<circle cx="62.2" cy="94.1" r="3.2" fill="#0fbafa"/><circle cx="74.3" cy="109.1" r="2.3" fill="#0fbafa"/><circle cx="66.2" cy="461.8" r="2.4" fill="#0fbafa"/><circle cx="75.3" cy="407.4" r="2.4" fill="#0fbafa"/><circle cx="71.6" cy="285.2" r="3.2" fill="#0fbafa"/><circle cx="79.9" cy="83.1" r="2.1" fill="#0fbafa"/><circle cx="78.9" cy="259.7" r="2.6" fill="#0fbafa"/><circle cx="67.9" cy="238.0" r="4.9" fill="#0fbafa"/><circle cx="65.8" cy="153.6" r="3.8" fill="#0fbafa"/><circle cx="71.9" cy="573.6" r="4.5" fill="#0fbafa"/><circle cx="68.4" cy="146.2" r="4.5" fill="#0fbafa"/><circle cx="79.8" cy="47.3" r="4.2" fill="#0fbafa"/><circle cx="77.6" cy="401.2" r="2.7" fill="#0fbafa"/><circle cx="76.3" cy="446.0" r="2.6" fill="#0fbafa"/><circle cx="73.5" cy="154.9" r="2.1" fill="#0fbafa"/><circle cx="68.0" cy="220.6" r="3.2" fill="#0fbafa"/><circle cx="73.6" cy="506.6" r="4.9" fill="#0fbafa"/><circle cx="79.6" cy="596.3" r="4.4" fill="#0fbafa"/><circle cx="67.5" cy="130.5" r="3.9" fill="#0fbafa"/><circle cx="71.8" cy="414.5" r="2.3" fill="#0fbafa"/><circle cx="65.5" cy="555.0" r="3.8" fill="#0fbafa"/><circle cx="74.5" cy="84.5" r="3.2" fill="#0fbafa"/><circle cx="78.4" cy="400.1" r="5.0" fill="#0fbafa"/><circle cx="65.5" cy="289.2" r="4.4" fill="#0fbafa"/><circle cx="70.0" cy="479.7" r="3.7" fill="#0fbafa"/><circle cx="64.1" cy="86.4" r="4.9" fill="#0fbafa"/><circle cx="64.1" cy="140.6" r="3.0" fill="#0fbafa"/><circle cx="74.8" cy="516.8" r="3.4" fill="#0fbafa"/><circle cx="71.0" cy="479.4" r="2.8" fill="#0fbafa"/><circle cx="68.7" cy="379.3" r="3.9" fill="#0fbafa"/><circle cx="62.7" cy="93.9" r="2.4" fill="#0fbafa"/><circle cx="75.1" cy="425.0" r="4.9" fill="#0fbafa"/><circle cx="75.8" cy="175.2" r="4.3" fill="#0fbafa"/><circle cx="79.7" cy="228.8" r="2.0" fill="#0fbafa"/><circle cx="68.8" cy="191.0" r="2.5" fill="#0fbafa"/><circle cx="62.8" cy="101.2" r="4.6" fill="#0fbafa"/><circle cx="62.9" cy="380.0" r="2.6" fill="#0fbafa"/><circle cx="65.5" cy="497.8" r="2.9" fill="#0fbafa"/><circle cx="65.3" cy="289.3" r="4.1" fill="#0fbafa"/><circle cx="71.4" cy="520.0" r="3.2" fill="#0fbafa"/><circle cx="71.4" cy="438.7" r="3.4" fill="#0fbafa"/><circle cx="74.9" cy="296.1" r="2.4" fill="#0fbafa"/><circle cx="64.2" cy="476.4" r="4.2" fill="#0fbafa"/><circle cx="79.0" cy="423.4" r="3.7" fill="#0fbafa"/><circle cx="65.0" cy="516.3" r="2.4" fill="#0fbafa"/><circle cx="69.6" cy="110.2" r="3.1" fill="#0fbafa"/><circle cx="67.5" cy="272.5" r="4.1" fill="#0fbafa"/><circle cx="71.7" cy="168.4" r="4.3" fill="#0fbafa"/><circle cx="75.2" cy="501.5" r="2.1" fill="#0fbafa"/><circle cx="73.1" cy="540.4" r="2.8" fill="#0fbafa"/><circle cx="65.6" cy="493.9" r="3.1" fill="#0fbafa"/><circle cx="69.2" cy="496.1" r="3.2" fill="#0fbafa"/><circle cx="65.6" cy="152.2" r="3.0" fill="#0fbafa"/><circle cx="74.6" cy="239.9" r="4.3" fill="#0fbafa"/><circle cx="63.2" cy="171.9" r="3.9" fill="#0fbafa"/><circle cx="70.6" cy="314.9" r="4.8" fill="#0fbafa"/><circle cx="67.0" cy="133.5" r="2.1" fill="#0fbafa"/><circle cx="70.7" cy="199.4" r="3.4" fill="#0fbafa"/><circle cx="62.1" cy="30.1" r="3.1" fill="#0fbafa"/><circle cx="75.6" cy="201.3" r="4.7" fill="#0fbafa"/>
<circle cx="491.4" cy="151.8" r="2.9" fill="#0fbafa"/><circle cx="527.6" cy="312.9" r="4.2" fill="#0fbafa"/><circle cx="492.4" cy="320.1" r="4.5" fill="#0fbafa"/><circle cx="511.0" cy="568.5" r="4.6" fill="#0fbafa"/><circle cx="504.3" cy="30.4" r="4.3" fill="#0fbafa"/><circle cx="493.6" cy="35.4" r="4.2" fill="#0fbafa"/><circle cx="525.1" cy="506.8" r="4.9" fill="#0fbafa"/><circle cx="496.9" cy="76.5" r="2.4" fill="#0fbafa"/><circle cx="531.0" cy="93.8" r="2.5" fill="#0fbafa"/><circle cx="488.9" cy="58.1" r="2.1" fill="#0fbafa"/><circle cx="503.5" cy="123.1" r="2.9" fill="#0fbafa"/><circle cx="528.9" cy="125.5" r="4.4" fill="#0fbafa"/><circle cx="520.5" cy="354.1" r="3.7" fill="#0fbafa"/><circle cx="521.9" cy="364.6" r="2.7" fill="#0fbafa"/><circle cx="502.5" cy="169.1" r="3.2" fill="#0fbafa"/><circle cx="531.4" cy="273.2" r="2.2" fill="#0fbafa"/><circle cx="509.0" cy="493.2" r="3.3" fill="#0fbafa"/><circle cx="518.9" cy="81.8" r="2.2" fill="#0fbafa"/><circle cx="517.1" cy="57.5" r="2.9" fill="#0fbafa"/><circle cx="504.9" cy="140.3" r="2.1" fill="#0fbafa"/><circle cx="488.3" cy="572.4" r="4.1" fill="#0fbafa"/><circle cx="529.9" cy="310.3" r="4.9" fill="#0fbafa"/><circle cx="526.0" cy="382.3" r="3.6" fill="#0fbafa"/><circle cx="510.4" cy="158.5" r="3.1" fill="#0fbafa"/><circle cx="519.8" cy="141.3" r="4.5" fill="#0fbafa"/><circle cx="510.4" cy="374.4" r="4.5" fill="#0fbafa"/><circle cx="516.4" cy="108.5" r="2.7" fill="#0fbafa"/><circle cx="488.0" cy="45.6" r="4.9" fill="#0fbafa"/><circle cx="514.1" cy="582.2" r="4.3" fill="#0fbafa"/><circle cx="501.9" cy="581.3" r="4.8" fill="#0fbafa"/><circle cx="508.1" cy="77.5" r="3.0" fill="#0fbafa"/><circle cx="495.3" cy="238.4" r="2.2" fill="#0fbafa"/><circle cx="519.4" cy="588.3" r="2.6" fill="#0fbafa"/><circle cx="522.3" cy="363.1" r="3.4" fill="#0fbafa"/><circle cx="527.9" cy="245.1" r="4.5" fill="#0fbafa"/><circle cx="489.5" cy="580.3" r="2.5" fill="#0fbafa"/><circle cx="488.2" cy="532.4" r="4.2" fill="#0fbafa"/><circle cx="517.7" cy="466.6" r="3.1" fill="#0fbafa"/><circle cx="493.0" cy="211.4" r="4.9" fill="#0fbafa"/><circle cx="531.2" cy="161.1" r="3.3" fill="#0fbafa"/><circle cx="507.8" cy="545.4" r="2.0" fill="#0fbafa"/><circle cx="524.5" cy="174.5" r="3.6" fill="#0fbafa"/><circle cx="493.7" cy="77.9" r="4.6" fill="#0fbafa"/><circle cx="510.1" cy="583.9" r="4.6" fill="#0fbafa"/><circle cx="521.1" cy="72.5" r="3.8" fill="#0fbafa"/><circle cx="531.7" cy="316.7" r="2.2" fill="#0fbafa"/><circle cx="496.1" cy="593.1" r="4.9" fill="#0fbafa"/><circle cx="498.9" cy="211.5" r="4.1" fill="#0fbafa"/><circle cx="510.3" cy="135.7" r="5.0" fill="#0fbafa"/><circle cx="515.3" cy="238.1" r="2.1" fill="#0fbafa"/><circle cx="510.5" cy="458.6" r="2.5" fill="#0fbafa"/><circle cx="491.8" cy="442.7" r="4.8" fill="#0fbafa"/><circle cx="504.6" cy="299.6" r="3.9" fill="#0fbafa"/><circle cx="510.9" cy="103.2" r="2.8" fill="#0fbafa"/><circle cx="497.1" cy="142.4" r="2.3" fill="#0fbafa"/><circle cx="505.2" cy="155.0" r="4.5" fill="#0fbafa"/><circle cx="502.2" cy="579.0" r="4.4" fill="#0fbafa"/><circle cx="499.8" cy="117.9" r="3.7" fill="#0fbafa"/><circle cx="508.9" cy="335.0" r="2.4" fill="#0fbafa"/><circle cx="511.4" cy="462.8" r="3.3" fill="#0fbafa"/><circle cx="499.2" cy="555.7" r="2.9" fill="#0fbafa"/><circle cx="531.8" cy="422.6" r="2.0" fill="#0fbafa"/><circle cx="507.7" cy="115.0" r="4.4" fill="#0fbafa"/><circle cx="506.5" cy="78.8" r="4.9" fill="#0fbafa"/><circle cx="523.2" cy="376.4" r="3.7" fill="#0fbafa"/><circle cx="491.3" cy="590.0" r="2.9" fill="#0fbafa"/><circle cx="511.1" cy="309.3" r="3.4" fill="#0fbafa"/><circle cx="488.8" cy="539.1" r="3.5" fill="#0fbafa"/><circle cx="505.3" cy="520.6" r="4.6" fill="#0fbafa"/><circle cx="519.6" cy="547.3" r="3.0" fill="#0fbafa"/><circle cx="492.6" cy="228.2" r="3.8" fill="#0fbafa"/><circle cx="522.6" cy="448.6" r="3.9" fill="#0fbafa"/><circle cx="514.4" cy="409.7" r="3.7" fill="#0fbafa"/><circle cx="488.7" cy="341.6" r="2.8" fill="#0fbafa"/><circle cx="491.2" cy="379.0" r="4.5" fill="#0fbafa"/><circle cx="500.4" cy="411.9" r="3.9" fill="#0fbafa"/><circle cx="518.0" cy="527.0" r="4.1" fill="#0fbafa"/><circle cx="491.5" cy="381.7" r="3.0" fill="#0fbafa"/><circle cx="506.3" cy="414.7" r="2.5" fill="#0fbafa"/><circle cx="515.6" cy="564.8" r="2.2" fill="#0fbafa"/><circle cx="525.5" cy="433.5" r="3.2" fill="#0fbafa"/><circle cx="521.7" cy="75.2" r="2.5" fill="#0fbafa"/><circle cx="531.9" cy="384.5" r="2.5" fill="#0fbafa"/><circle cx="493.7" cy="284.7" r="3.6" fill="#0fbafa"/><circle cx="531.6" cy="136.1" r="3.9" fill="#0fbafa"/><circle cx="507.4" cy="347.6" r="4.8" fill="#0fbafa"/><circle cx="493.2" cy="506.1" r="4.2" fill="#0fbafa"/><circle cx="499.8" cy="98.4" r="4.2" fill="#0fbafa"/><circle cx="525.5" cy="226.9" r="2.4" fill="#0fbafa"/><circle cx="512.4" cy="412.2" r="3.1" fill="#0fbafa"/><circle cx="506.1" cy="88.4" r="2.4" fill="#0fbafa"/><circle cx="497.8" cy="462.0" r="2.4" fill="#0fbafa"/><circle cx="496.7" cy="294.6" r="2.6" fill="#0fbafa"/><circle cx="498.5" cy="450.0" r="2.7" fill="#0fbafa"/><circle cx="512.7" cy="78.1" r="3.6" fill="#0fbafa"/><circle cx="518.7" cy="285.1" r="2.6" fill="#0fbafa"/><circle cx="489.3" cy="186.8" r="3.2" fill="#0fbafa"/><circle cx="492.4" cy="273.0" r="3.5" fill="#0fbafa"/><circle cx="490.8" cy="408.6" r="4.9" fill="#0fbafa"/><circle cx="518.9" cy="286.3" r="4.5" fill="#0fbafa"/><circle cx="529.6" cy="571.4" r="4.9" fill="#0fbafa"/><circle cx="521.7" cy="567.6" r="4.3" fill="#0fbafa"/><circle cx="502.3" cy="106.6" r="3.5" fill="#0fbafa"/><circle cx="518.9" cy="183.4" r="3.1" fill="#0fbafa"/><circle cx="491.6" cy="53.3" r="2.8" fill="#0fbafa"/><circle cx="525.3" cy="64.4" r="2.4" fill="#0fbafa"/><circle cx="505.6" cy="581.8" r="2.7" fill="#0fbafa"/><circle cx="489.9" cy="57.9" r="3.0" fill="#0fbafa"/><circle cx="488.2" cy="412.2" r="2.2" fill="#0fbafa"/><circle cx="496.4" cy="73.6" r="2.8" fill="#0fbafa"/><circle cx="491.9" cy="123.7" r="2.6" fill="#0fbafa"/><circle cx="498.3" cy="391.7" r="3.1" fill="#0fbafa"/><circle cx="497.1" cy="36.9" r="4.6" fill="#0fbafa"/><circle cx="525.6" cy="570.4" r="4.1" fill="#0fbafa"/><circle cx="507.0" cy="217.0" r="2.6" fill="#0fbafa"/><circle cx="507.4" cy="268.4" r="4.8" fill="#0fbafa"/><circle cx="496.8" cy="428.4" r="4.2" fill="#0fbafa"/><circle cx="517.0" cy="379.6" r="2.1" fill="#0fbafa"/><circle cx="494.5" cy="325.4" r="3.8" fill="#0fbafa"/><circle cx="530.3" cy="477.9" r="2.7" fill="#0fbafa"/>
<circle cx="514.0" cy="489.7" r="3.6" fill="#08f0e0"/><circle cx="501.6" cy="495.6" r="3.8" fill="#08f0e0"/><circle cx="528.2" cy="356.0" r="3.3" fill="#08f0e0"/><circle cx="515.9" cy="451.0" r="3.9" fill="#08f0e0"/><circle cx="512.2" cy="433.6" r="3.9" fill="#08f0e0"/><circle cx="516.7" cy="390.4" r="2.6" fill="#08f0e0"/><circle cx="510.8" cy="315.8" r="3.2" fill="#08f0e0"/><circle cx="520.9" cy="427.8" r="3.7" fill="#08f0e0"/><circle cx="529.0" cy="466.7" r="3.4" fill="#08f0e0"/><circle cx="494.9" cy="316.8" r="4.0" fill="#08f0e0"/><circle cx="501.9" cy="364.0" r="3.8" fill="#08f0e0"/><circle cx="521.5" cy="337.0" r="2.6" fill="#08f0e0"/><circle cx="500.2" cy="381.8" r="2.0" fill="#08f0e0"/><circle cx="512.0" cy="391.3" r="2.8" fill="#08f0e0"/><circle cx="497.8" cy="333.0" r="2.1" fill="#08f0e0"/><circle cx="526.7" cy="524.2" r="3.1" fill="#08f0e0"/><circle cx="495.2" cy="344.7" r="2.2" fill="#08f0e0"/><circle cx="503.3" cy="317.3" r="2.6" fill="#08f0e0"/><circle cx="498.5" cy="357.9" r="3.3" fill="#08f0e0"/><circle cx="509.2" cy="442.0" r="2.7" fill="#08f0e0"/><circle cx="512.6" cy="535.5" r="2.6" fill="#08f0e0"/><circle cx="492.9" cy="444.4" r="2.8" fill="#08f0e0"/><circle cx="522.8" cy="333.3" r="3.7" fill="#08f0e0"/><circle cx="490.6" cy="462.7" r="2.9" fill="#08f0e0"/><circle cx="503.2" cy="566.7" r="3.4" fill="#08f0e0"/>
<path d="M74.0,10.0 C85.7,-21.7 129.3,-13.3 140.0,10.0 C150.7,33.3 139.0,101.7 138.0,150.0 C137.0,198.3 135.7,250.0 134.0,300.0 C132.3,350.0 130.7,410.0 128.0,450.0 C125.3,490.0 120.7,515.0 118.0,540.0 C115.3,565.0 120.7,590.0 112.0,600.0 C103.3,610.0 74.3,633.3 66.0,600.0 C57.7,566.7 61.3,466.7 62.0,400.0 C62.7,333.3 68.0,265.0 70.0,200.0 C72.0,135.0 62.3,41.7 74.0,10.0 Z" fill="#0fbafa"/>
<path d="M426.0,10.0 C435.0,-13.3 475.7,-13.3 486.0,10.0 C496.3,33.3 487.3,101.7 488.0,150.0 C488.7,198.3 490.3,250.0 490.0,300.0 C489.7,350.0 488.0,410.0 486.0,450.0 C484.0,490.0 480.0,515.0 478.0,540.0 C476.0,565.0 476.7,590.0 474.0,600.0 C471.3,610.0 465.7,625.0 462.0,600.0 C458.3,575.0 455.3,500.0 452.0,450.0 C448.7,400.0 445.3,350.0 442.0,300.0 C438.7,250.0 434.7,198.3 432.0,150.0 C429.3,101.7 417.0,33.3 426.0,10.0 Z" fill="#0fbafa"/>
<path d="M96.0,60.0 C100.3,36.7 113.7,20.0 118.0,60.0 C122.3,100.0 121.7,226.7 122.0,300.0 C122.3,373.3 121.3,454.2 120.0,500.0 C118.7,545.8 118.0,562.5 114.0,575.0 C110.0,587.5 100.0,604.2 96.0,575.0 C92.0,545.8 90.7,462.5 90.0,400.0 C89.3,337.5 91.0,256.7 92.0,200.0 C93.0,143.3 91.7,83.3 96.0,60.0 Z" fill="#08f0e0"/>
<path d="M452.0,60.0 C455.3,36.7 465.7,20.0 470.0,60.0 C474.3,100.0 477.0,226.7 478.0,300.0 C479.0,373.3 477.0,454.2 476.0,500.0 C475.0,545.8 475.3,562.5 472.0,575.0 C468.7,587.5 459.3,604.2 456.0,575.0 C452.7,545.8 453.0,462.5 452.0,400.0 C451.0,337.5 450.0,256.7 450.0,200.0 C450.0,143.3 448.7,83.3 452.0,60.0 Z" fill="#08f0e0"/>
<path d="M232.0,55.0 C228.7,58.3 222.7,92.5 218.0,110.0 C213.3,127.5 208.7,140.0 204.0,160.0 C199.3,180.0 194.0,206.7 190.0,230.0 C186.0,253.3 182.0,271.7 180.0,300.0 C178.0,328.3 177.5,366.7 178.0,400.0 C178.5,433.3 181.0,470.8 183.0,500.0 C185.0,529.2 186.2,562.5 190.0,575.0 C193.8,587.5 201.7,587.5 206.0,575.0 C210.3,562.5 210.3,525.8 216.0,500.0 C221.7,474.2 232.3,440.0 240.0,420.0 C247.7,400.0 253.3,395.8 262.0,380.0 C270.7,364.2 290.7,345.0 292.0,325.0 C293.3,305.0 276.2,280.8 270.0,260.0 C263.8,239.2 259.2,220.0 255.0,200.0 C250.8,180.0 247.8,158.3 245.0,140.0 C242.2,121.7 240.2,104.2 238.0,90.0 C235.8,75.8 235.3,51.7 232.0,55.0 Z" fill="#0fbafa"/>
<path d="M362.0,85.0 C358.3,88.3 354.3,114.2 350.0,130.0 C345.7,145.8 341.3,161.7 336.0,180.0 C330.7,198.3 324.0,220.0 318.0,240.0 C312.0,260.0 304.7,285.0 300.0,300.0 C295.3,315.0 287.5,316.7 290.0,330.0 C292.5,343.3 307.0,365.0 315.0,380.0 C323.0,395.0 330.8,400.0 338.0,420.0 C345.2,440.0 352.7,474.2 358.0,500.0 C363.3,525.8 364.7,562.5 370.0,575.0 C375.3,587.5 385.7,587.5 390.0,575.0 C394.3,562.5 394.0,529.2 396.0,500.0 C398.0,470.8 401.3,433.3 402.0,400.0 C402.7,366.7 401.3,328.3 400.0,300.0 C398.7,271.7 397.0,253.3 394.0,230.0 C391.0,206.7 385.7,180.0 382.0,160.0 C378.3,140.0 375.3,122.5 372.0,110.0 C368.7,97.5 365.7,81.7 362.0,85.0 Z" fill="#0fbafa"/>
<path d="M268.0,300.0 C278.0,288.0 301.7,288.3 312.0,300.0 C322.3,311.7 331.2,353.7 330.0,370.0 C328.8,386.3 311.7,392.7 305.0,398.0 C298.3,403.3 295.0,402.0 290.0,402.0 C285.0,402.0 281.3,403.0 275.0,398.0 C268.7,393.0 253.2,388.3 252.0,372.0 C250.8,355.7 258.0,312.0 268.0,300.0 Z" fill="#0fbafa"/>
<circle cx="298.4" cy="296.3" r="5.6" fill="#0fbafa"/><circle cx="298.6" cy="269.9" r="3.3" fill="#0fbafa"/><circle cx="296.2" cy="306.0" r="3.0" fill="#0fbafa"/><circle cx="334.4" cy="211.7" r="5.2" fill="#0fbafa"/><circle cx="272.7" cy="335.9" r="4.8" fill="#0fbafa"/><circle cx="301.3" cy="335.6" r="4.4" fill="#0fbafa"/><circle cx="319.6" cy="220.4" r="4.3" fill="#0fbafa"/><circle cx="305.7" cy="234.8" r="5.4" fill="#0fbafa"/><circle cx="297.0" cy="240.9" r="3.6" fill="#0fbafa"/><circle cx="230.2" cy="225.9" r="4.6" fill="#0fbafa"/><circle cx="319.6" cy="381.9" r="3.4" fill="#0fbafa"/><circle cx="321.7" cy="250.4" r="5.7" fill="#0fbafa"/><circle cx="286.1" cy="306.5" r="5.8" fill="#0fbafa"/><circle cx="280.5" cy="252.5" r="5.6" fill="#0fbafa"/><circle cx="337.7" cy="200.1" r="5.3" fill="#0fbafa"/><circle cx="304.4" cy="359.0" r="3.0" fill="#0fbafa"/><circle cx="298.2" cy="350.6" r="3.5" fill="#0fbafa"/><circle cx="263.6" cy="206.3" r="4.6" fill="#0fbafa"/><circle cx="308.6" cy="353.1" r="5.3" fill="#0fbafa"/><circle cx="303.4" cy="291.8" r="5.4" fill="#0fbafa"/><circle cx="238.2" cy="420.7" r="3.5" fill="#0fbafa"/><circle cx="239.9" cy="199.6" r="5.2" fill="#0fbafa"/><circle cx="351.7" cy="388.2" r="4.9" fill="#0fbafa"/><circle cx="280.6" cy="336.0" r="5.8" fill="#0fbafa"/><circle cx="318.7" cy="247.7" r="3.7" fill="#0fbafa"/><circle cx="328.1" cy="392.6" r="4.7" fill="#0fbafa"/><circle cx="266.7" cy="366.2" r="3.9" fill="#0fbafa"/><circle cx="349.5" cy="199.1" r="4.5" fill="#0fbafa"/><circle cx="333.1" cy="398.7" r="4.1" fill="#0fbafa"/><circle cx="233.5" cy="214.6" r="3.9" fill="#0fbafa"/><circle cx="334.9" cy="390.5" r="3.9" fill="#0fbafa"/><circle cx="254.0" cy="221.6" r="3.3" fill="#0fbafa"/><circle cx="349.8" cy="376.9" r="4.7" fill="#0fbafa"/><circle cx="333.1" cy="381.8" r="5.3" fill="#0fbafa"/><circle cx="264.5" cy="264.8" r="3.9" fill="#0fbafa"/><circle cx="340.0" cy="224.1" r="5.0" fill="#0fbafa"/><circle cx="299.3" cy="280.4" r="4.4" fill="#0fbafa"/><circle cx="326.6" cy="222.7" r="4.7" fill="#0fbafa"/><circle cx="254.7" cy="367.4" r="5.8" fill="#0fbafa"/><circle cx="244.6" cy="244.8" r="4.3" fill="#0fbafa"/><circle cx="243.3" cy="217.9" r="5.1" fill="#0fbafa"/><circle cx="333.1" cy="398.5" r="3.2" fill="#0fbafa"/><circle cx="235.4" cy="400.5" r="4.3" fill="#0fbafa"/><circle cx="263.2" cy="340.9" r="5.4" fill="#0fbafa"/><circle cx="273.6" cy="338.1" r="5.6" fill="#0fbafa"/><circle cx="288.4" cy="317.9" r="4.1" fill="#0fbafa"/><circle cx="312.3" cy="377.3" r="4.2" fill="#0fbafa"/><circle cx="329.9" cy="230.2" r="5.7" fill="#0fbafa"/><circle cx="219.8" cy="421.9" r="3.0" fill="#0fbafa"/><circle cx="273.3" cy="350.4" r="5.5" fill="#0fbafa"/><circle cx="292.1" cy="242.4" r="4.6" fill="#0fbafa"/><circle cx="269.2" cy="331.8" r="3.9" fill="#0fbafa"/><circle cx="339.5" cy="384.0" r="5.7" fill="#0fbafa"/><circle cx="339.5" cy="265.3" r="3.4" fill="#0fbafa"/><circle cx="288.6" cy="305.7" r="3.8" fill="#0fbafa"/><circle cx="268.4" cy="344.4" r="3.3" fill="#0fbafa"/><circle cx="242.1" cy="182.9" r="5.4" fill="#0fbafa"/><circle cx="328.7" cy="202.4" r="6.0" fill="#0fbafa"/><circle cx="270.0" cy="343.4" r="5.8" fill="#0fbafa"/><circle cx="283.1" cy="286.4" r="5.8" fill="#0fbafa"/><circle cx="279.1" cy="336.8" r="5.2" fill="#0fbafa"/><circle cx="321.2" cy="336.9" r="5.6" fill="#0fbafa"/><circle cx="268.7" cy="335.7" r="4.0" fill="#0fbafa"/><circle cx="282.7" cy="301.9" r="4.0" fill="#0fbafa"/><circle cx="313.6" cy="272.3" r="5.4" fill="#0fbafa"/><circle cx="309.9" cy="315.7" r="6.0" fill="#0fbafa"/><circle cx="320.5" cy="361.2" r="5.0" fill="#0fbafa"/><circle cx="343.9" cy="412.5" r="5.9" fill="#0fbafa"/><circle cx="274.3" cy="268.0" r="4.5" fill="#0fbafa"/><circle cx="255.3" cy="242.7" r="5.2" fill="#0fbafa"/><circle cx="336.1" cy="228.4" r="3.7" fill="#0fbafa"/><circle cx="327.2" cy="226.2" r="4.7" fill="#0fbafa"/><circle cx="324.8" cy="348.6" r="4.9" fill="#0fbafa"/><circle cx="331.8" cy="408.8" r="3.9" fill="#0fbafa"/><circle cx="313.0" cy="369.9" r="3.3" fill="#0fbafa"/><circle cx="330.1" cy="382.0" r="3.8" fill="#0fbafa"/><circle cx="282.5" cy="257.4" r="4.1" fill="#0fbafa"/><circle cx="237.8" cy="407.4" r="5.9" fill="#0fbafa"/><circle cx="258.6" cy="328.9" r="5.2" fill="#0fbafa"/><circle cx="297.3" cy="331.8" r="4.8" fill="#0fbafa"/><circle cx="280.3" cy="334.8" r="5.9" fill="#0fbafa"/><circle cx="247.7" cy="273.5" r="4.0" fill="#0fbafa"/><circle cx="271.5" cy="326.4" r="3.5" fill="#0fbafa"/><circle cx="301.7" cy="319.2" r="4.4" fill="#0fbafa"/><circle cx="326.1" cy="389.0" r="4.9" fill="#0fbafa"/><circle cx="296.1" cy="311.0" r="5.1" fill="#0fbafa"/><circle cx="326.5" cy="221.7" r="3.8" fill="#0fbafa"/><circle cx="324.1" cy="285.3" r="4.5" fill="#0fbafa"/><circle cx="222.3" cy="192.1" r="4.7" fill="#0fbafa"/><circle cx="217.4" cy="198.6" r="5.8" fill="#0fbafa"/><circle cx="304.9" cy="335.9" r="4.5" fill="#0fbafa"/><circle cx="256.2" cy="354.2" r="5.9" fill="#0fbafa"/><circle cx="289.0" cy="273.2" r="3.9" fill="#0fbafa"/><circle cx="308.5" cy="304.9" r="4.8" fill="#0fbafa"/><circle cx="287.8" cy="279.2" r="5.7" fill="#0fbafa"/><circle cx="311.4" cy="279.7" r="3.5" fill="#0fbafa"/><circle cx="348.1" cy="195.5" r="5.2" fill="#0fbafa"/><circle cx="355.6" cy="405.9" r="4.0" fill="#0fbafa"/><circle cx="261.0" cy="217.6" r="5.5" fill="#0fbafa"/><circle cx="275.5" cy="248.9" r="3.6" fill="#0fbafa"/><circle cx="314.4" cy="243.2" r="4.4" fill="#0fbafa"/><circle cx="305.5" cy="347.2" r="5.2" fill="#0fbafa"/><circle cx="241.1" cy="199.0" r="4.2" fill="#0fbafa"/><circle cx="343.5" cy="406.9" r="3.3" fill="#0fbafa"/><circle cx="318.0" cy="400.7" r="3.7" fill="#0fbafa"/><circle cx="339.1" cy="192.7" r="4.9" fill="#0fbafa"/><circle cx="260.0" cy="350.3" r="4.8" fill="#0fbafa"/><circle cx="254.9" cy="375.2" r="3.8" fill="#0fbafa"/><circle cx="272.0" cy="256.2" r="4.7" fill="#0fbafa"/><circle cx="256.7" cy="193.1" r="4.0" fill="#0fbafa"/><circle cx="221.0" cy="403.6" r="4.8" fill="#0fbafa"/><circle cx="286.9" cy="284.5" r="4.4" fill="#0fbafa"/><circle cx="277.3" cy="302.8" r="6.0" fill="#0fbafa"/><circle cx="253.8" cy="222.8" r="4.0" fill="#0fbafa"/><circle cx="319.8" cy="231.7" r="4.2" fill="#0fbafa"/><circle cx="339.5" cy="384.8" r="4.8" fill="#0fbafa"/><circle cx="276.0" cy="338.3" r="3.6" fill="#0fbafa"/><circle cx="305.8" cy="293.0" r="4.2" fill="#0fbafa"/><circle cx="325.5" cy="356.1" r="3.4" fill="#0fbafa"/><circle cx="312.4" cy="264.6" r="5.2" fill="#0fbafa"/><circle cx="320.6" cy="368.6" r="5.8" fill="#0fbafa"/><circle cx="223.8" cy="205.1" r="3.7" fill="#0fbafa"/><circle cx="352.9" cy="405.6" r="3.3" fill="#0fbafa"/><circle cx="346.9" cy="402.5" r="4.1" fill="#0fbafa"/><circle cx="245.7" cy="375.3" r="5.3" fill="#0fbafa"/><circle cx="268.6" cy="247.3" r="3.3" fill="#0fbafa"/><circle cx="238.1" cy="207.8" r="5.3" fill="#0fbafa"/><circle cx="285.9" cy="296.6" r="5.9" fill="#0fbafa"/><circle cx="248.6" cy="391.2" r="3.1" fill="#0fbafa"/><circle cx="310.6" cy="343.5" r="3.1" fill="#0fbafa"/><circle cx="269.0" cy="337.7" r="4.6" fill="#0fbafa"/><circle cx="274.1" cy="260.5" r="4.7" fill="#0fbafa"/><circle cx="352.0" cy="428.1" r="3.1" fill="#0fbafa"/><circle cx="300.9" cy="308.4" r="5.7" fill="#0fbafa"/><circle cx="287.0" cy="307.5" r="4.8" fill="#0fbafa"/><circle cx="323.8" cy="390.3" r="5.3" fill="#0fbafa"/><circle cx="247.8" cy="181.2" r="4.8" fill="#0fbafa"/><circle cx="265.4" cy="388.6" r="4.6" fill="#0fbafa"/><circle cx="228.7" cy="185.8" r="4.8" fill="#0fbafa"/><circle cx="337.9" cy="220.3" r="4.0" fill="#0fbafa"/>
<circle cx="299.1" cy="337.2" r="4.4" fill="#0a5cf5"/><circle cx="265.8" cy="366.8" r="3.7" fill="#0a5cf5"/><circle cx="297.3" cy="308.7" r="3.7" fill="#0a5cf5"/><circle cx="277.5" cy="326.2" r="4.5" fill="#0a5cf5"/><circle cx="289.4" cy="395.9" r="4.2" fill="#0a5cf5"/><circle cx="275.0" cy="357.4" r="4.1" fill="#0a5cf5"/><circle cx="270.2" cy="348.0" r="3.0" fill="#0a5cf5"/><circle cx="283.7" cy="349.0" r="4.4" fill="#0a5cf5"/><circle cx="317.6" cy="357.6" r="3.0" fill="#0a5cf5"/><circle cx="289.6" cy="317.5" r="4.5" fill="#0a5cf5"/><circle cx="313.8" cy="299.5" r="4.5" fill="#0a5cf5"/><circle cx="279.0" cy="310.1" r="3.9" fill="#0a5cf5"/><circle cx="286.3" cy="321.6" r="3.5" fill="#0a5cf5"/><circle cx="287.1" cy="365.8" r="3.3" fill="#0a5cf5"/><circle cx="283.6" cy="316.3" r="4.5" fill="#0a5cf5"/><circle cx="276.4" cy="371.4" r="3.1" fill="#0a5cf5"/><circle cx="311.6" cy="337.0" r="4.9" fill="#0a5cf5"/><circle cx="308.2" cy="382.7" r="3.1" fill="#0a5cf5"/><circle cx="305.4" cy="347.8" r="4.8" fill="#0a5cf5"/><circle cx="294.9" cy="328.2" r="4.8" fill="#0a5cf5"/><circle cx="319.7" cy="314.3" r="3.3" fill="#0a5cf5"/><circle cx="287.6" cy="362.3" r="3.3" fill="#0a5cf5"/>
<circle cx="283.8" cy="262.6" r="3.2" fill="#0a5cf5"/><circle cx="233.9" cy="389.6" r="4.8" fill="#0a5cf5"/><circle cx="270.6" cy="179.6" r="4.8" fill="#0a5cf5"/><circle cx="339.8" cy="138.8" r="4.3" fill="#0a5cf5"/><circle cx="298.7" cy="228.3" r="2.6" fill="#0a5cf5"/><circle cx="235.7" cy="406.9" r="2.7" fill="#0a5cf5"/><circle cx="244.9" cy="371.4" r="4.2" fill="#0a5cf5"/><circle cx="257.1" cy="147.8" r="3.5" fill="#0a5cf5"/><circle cx="279.5" cy="216.5" r="3.6" fill="#0a5cf5"/><circle cx="297.9" cy="269.2" r="4.2" fill="#0a5cf5"/><circle cx="293.3" cy="277.2" r="3.0" fill="#0a5cf5"/><circle cx="302.7" cy="234.0" r="3.0" fill="#0a5cf5"/><circle cx="270.4" cy="346.8" r="2.7" fill="#0a5cf5"/><circle cx="251.4" cy="396.2" r="3.7" fill="#0a5cf5"/><circle cx="287.4" cy="294.8" r="4.6" fill="#0a5cf5"/><circle cx="292.6" cy="258.5" r="4.2" fill="#0a5cf5"/><circle cx="323.2" cy="356.8" r="4.0" fill="#0a5cf5"/><circle cx="308.2" cy="203.3" r="4.0" fill="#0a5cf5"/><circle cx="355.6" cy="360.9" r="3.5" fill="#0a5cf5"/><circle cx="296.5" cy="251.1" r="4.5" fill="#0a5cf5"/><circle cx="309.9" cy="220.9" r="4.8" fill="#0a5cf5"/><circle cx="264.0" cy="347.5" r="3.5" fill="#0a5cf5"/><circle cx="302.1" cy="259.1" r="4.2" fill="#0a5cf5"/><circle cx="304.8" cy="253.7" r="3.1" fill="#0a5cf5"/><circle cx="318.4" cy="324.8" r="2.9" fill="#0a5cf5"/><circle cx="275.5" cy="220.0" r="4.4" fill="#0a5cf5"/><circle cx="344.1" cy="391.1" r="3.6" fill="#0a5cf5"/><circle cx="296.5" cy="242.5" r="4.0" fill="#0a5cf5"/><circle cx="277.3" cy="213.5" r="4.3" fill="#0a5cf5"/><circle cx="259.9" cy="171.3" r="3.6" fill="#0a5cf5"/><circle cx="355.0" cy="408.4" r="4.4" fill="#0a5cf5"/><circle cx="304.1" cy="242.9" r="3.6" fill="#0a5cf5"/><circle cx="321.5" cy="223.2" r="4.2" fill="#0a5cf5"/><circle cx="288.6" cy="250.2" r="2.8" fill="#0a5cf5"/><circle cx="286.7" cy="291.5" r="3.9" fill="#0a5cf5"/><circle cx="245.1" cy="382.7" r="3.6" fill="#0a5cf5"/><circle cx="321.8" cy="363.5" r="2.7" fill="#0a5cf5"/><circle cx="306.8" cy="270.0" r="4.8" fill="#0a5cf5"/><circle cx="253.2" cy="187.7" r="4.4" fill="#0a5cf5"/><circle cx="280.4" cy="288.0" r="2.9" fill="#0a5cf5"/><circle cx="293.7" cy="246.7" r="2.9" fill="#0a5cf5"/><circle cx="283.9" cy="262.8" r="2.9" fill="#0a5cf5"/><circle cx="300.8" cy="242.5" r="3.1" fill="#0a5cf5"/><circle cx="292.3" cy="271.0" r="3.0" fill="#0a5cf5"/><circle cx="329.1" cy="348.2" r="4.9" fill="#0a5cf5"/><circle cx="316.9" cy="331.1" r="4.6" fill="#0a5cf5"/><circle cx="345.0" cy="408.6" r="3.0" fill="#0a5cf5"/><circle cx="249.2" cy="397.6" r="3.0" fill="#0a5cf5"/><circle cx="330.3" cy="175.2" r="2.9" fill="#0a5cf5"/><circle cx="269.1" cy="189.7" r="4.0" fill="#0a5cf5"/><circle cx="227.5" cy="107.7" r="4.4" fill="#0a5cf5"/><circle cx="253.6" cy="149.3" r="3.4" fill="#0a5cf5"/><circle cx="233.6" cy="383.0" r="4.9" fill="#0a5cf5"/><circle cx="318.4" cy="205.2" r="2.9" fill="#0a5cf5"/><circle cx="265.2" cy="322.1" r="4.5" fill="#0a5cf5"/><circle cx="245.0" cy="357.1" r="4.7" fill="#0a5cf5"/><circle cx="328.5" cy="159.2" r="4.1" fill="#0a5cf5"/><circle cx="277.8" cy="252.8" r="3.1" fill="#0a5cf5"/><circle cx="337.7" cy="399.0" r="4.3" fill="#0a5cf5"/><circle cx="285.8" cy="225.2" r="3.2" fill="#0a5cf5"/><circle cx="285.5" cy="272.1" r="4.0" fill="#0a5cf5"/><circle cx="254.7" cy="165.1" r="4.1" fill="#0a5cf5"/><circle cx="277.1" cy="275.4" r="3.9" fill="#0a5cf5"/><circle cx="232.4" cy="381.7" r="4.9" fill="#0a5cf5"/><circle cx="342.1" cy="133.9" r="3.9" fill="#0a5cf5"/><circle cx="243.3" cy="187.3" r="3.2" fill="#0a5cf5"/><circle cx="333.9" cy="144.5" r="3.5" fill="#0a5cf5"/><circle cx="330.4" cy="155.3" r="3.8" fill="#0a5cf5"/><circle cx="311.5" cy="238.8" r="4.2" fill="#0a5cf5"/><circle cx="259.9" cy="150.3" r="4.3" fill="#0a5cf5"/>
<path d="M214.0,230.0 C211.0,240.0 207.3,271.7 204.0,300.0 C200.7,328.3 196.3,366.7 194.0,400.0 C191.7,433.3 190.2,470.8 190.0,500.0 C189.8,529.2 190.7,562.5 193.0,575.0 C195.3,587.5 201.5,587.5 204.0,575.0 C206.5,562.5 206.0,529.2 208.0,500.0 C210.0,470.8 213.0,433.3 216.0,400.0 C219.0,366.7 225.0,326.7 226.0,300.0 C227.0,273.3 224.0,251.7 222.0,240.0 C220.0,228.3 217.0,220.0 214.0,230.0 Z" fill="#08f0e0"/>
<path d="M362.0,230.0 C359.0,240.0 353.0,271.7 352.0,300.0 C351.0,328.3 353.3,366.7 356.0,400.0 C358.7,433.3 365.0,470.8 368.0,500.0 C371.0,529.2 371.0,562.5 374.0,575.0 C377.0,587.5 383.7,587.5 386.0,575.0 C388.3,562.5 388.3,529.2 388.0,500.0 C387.7,470.8 386.0,433.3 384.0,400.0 C382.0,366.7 378.3,326.7 376.0,300.0 C373.7,273.3 372.3,251.7 370.0,240.0 C367.7,228.3 365.0,220.0 362.0,230.0 Z" fill="#08f0e0"/>
<path d="M248.0,560.0 C247.7,553.5 251.8,541.3 258.0,535.0 C264.2,528.7 276.3,522.5 285.0,522.0 C293.7,521.5 303.8,526.3 310.0,532.0 C316.2,537.7 321.7,549.3 322.0,556.0 C322.3,562.7 322.3,569.0 312.0,572.0 C301.7,575.0 270.7,576.0 260.0,574.0 C249.3,572.0 248.3,566.5 248.0,560.0 Z" fill="#0fbafa"/>
<rect x="62" y="585" width="470" height="15" fill="#0fbafa"/>
<circle cx="216.5" cy="599.8" r="3.9" fill="#08ee78"/><circle cx="493.6" cy="597.5" r="3.8" fill="#08ee78"/><circle cx="62.2" cy="595.5" r="2.5" fill="#08ee78"/><circle cx="405.3" cy="593.2" r="3.1" fill="#08ee78"/><circle cx="317.1" cy="594.9" r="3.7" fill="#08ee78"/><circle cx="523.3" cy="592.1" r="3.6" fill="#08ee78"/><circle cx="480.0" cy="592.7" r="2.2" fill="#08ee78"/><circle cx="295.8" cy="597.2" r="3.0" fill="#08ee78"/><circle cx="148.7" cy="596.5" r="2.6" fill="#08ee78"/><circle cx="478.5" cy="590.0" r="3.2" fill="#08ee78"/><circle cx="243.2" cy="599.8" r="2.3" fill="#08ee78"/><circle cx="475.7" cy="593.0" r="2.7" fill="#08ee78"/><circle cx="159.8" cy="593.9" r="3.9" fill="#08ee78"/><circle cx="531.7" cy="599.3" r="3.2" fill="#08ee78"/><circle cx="173.0" cy="594.1" r="3.3" fill="#08ee78"/><circle cx="201.1" cy="599.8" r="2.2" fill="#08ee78"/><circle cx="172.4" cy="590.4" r="2.3" fill="#08ee78"/><circle cx="91.9" cy="590.9" r="2.7" fill="#08ee78"/><circle cx="503.5" cy="594.5" r="3.2" fill="#08ee78"/><circle cx="225.6" cy="590.0" r="3.1" fill="#08ee78"/><circle cx="404.2" cy="589.0" r="3.3" fill="#08ee78"/><circle cx="160.7" cy="596.3" r="2.7" fill="#08ee78"/><circle cx="131.4" cy="589.7" r="3.6" fill="#08ee78"/><circle cx="315.9" cy="589.0" r="3.8" fill="#08ee78"/><circle cx="192.0" cy="591.4" r="2.0" fill="#08ee78"/><circle cx="203.1" cy="594.7" r="3.8" fill="#08ee78"/><circle cx="202.5" cy="594.0" r="2.2" fill="#08ee78"/><circle cx="384.8" cy="591.6" r="2.8" fill="#08ee78"/><circle cx="189.3" cy="597.8" r="4.0" fill="#08ee78"/><circle cx="126.8" cy="593.4" r="2.2" fill="#08ee78"/><circle cx="414.7" cy="598.9" r="2.3" fill="#08ee78"/><circle cx="382.8" cy="591.6" r="2.9" fill="#08ee78"/><circle cx="331.0" cy="592.6" r="3.3" fill="#08ee78"/><circle cx="215.6" cy="594.0" r="2.7" fill="#08ee78"/><circle cx="261.1" cy="589.7" r="2.7" fill="#08ee78"/><circle cx="114.1" cy="595.5" r="2.8" fill="#08ee78"/><circle cx="258.7" cy="598.8" r="2.3" fill="#08ee78"/><circle cx="310.7" cy="595.3" r="3.3" fill="#08ee78"/><circle cx="419.5" cy="592.3" r="3.9" fill="#08ee78"/><circle cx="375.8" cy="588.9" r="3.2" fill="#08ee78"/><circle cx="305.0" cy="599.2" r="3.5" fill="#08ee78"/><circle cx="378.7" cy="596.1" r="3.4" fill="#08ee78"/><circle cx="272.1" cy="593.9" r="3.1" fill="#08ee78"/><circle cx="71.4" cy="594.1" r="2.8" fill="#08ee78"/><circle cx="262.9" cy="594.8" r="3.3" fill="#08ee78"/><circle cx="245.4" cy="594.9" r="2.5" fill="#08ee78"/><circle cx="520.7" cy="596.0" r="3.4" fill="#08ee78"/><circle cx="409.0" cy="588.3" r="2.4" fill="#08ee78"/><circle cx="239.9" cy="593.3" r="2.8" fill="#08ee78"/><circle cx="305.5" cy="595.5" r="3.5" fill="#08ee78"/><circle cx="387.7" cy="592.9" r="3.7" fill="#08ee78"/><circle cx="443.3" cy="599.5" r="2.0" fill="#08ee78"/><circle cx="333.4" cy="590.1" r="3.7" fill="#08ee78"/><circle cx="506.0" cy="596.0" r="2.6" fill="#08ee78"/><circle cx="472.2" cy="594.1" r="3.4" fill="#08ee78"/><circle cx="151.3" cy="589.3" r="3.7" fill="#08ee78"/><circle cx="465.7" cy="592.5" r="2.2" fill="#08ee78"/><circle cx="201.9" cy="598.9" r="2.4" fill="#08ee78"/><circle cx="414.3" cy="591.8" r="3.9" fill="#08ee78"/><circle cx="222.1" cy="599.4" r="3.0" fill="#08ee78"/>
<circle cx="382.5" cy="587.3" r="3.2" fill="#08f0e0"/><circle cx="457.7" cy="597.7" r="3.0" fill="#08f0e0"/><circle cx="358.6" cy="591.2" r="3.1" fill="#08f0e0"/><circle cx="112.7" cy="595.6" r="3.2" fill="#08f0e0"/><circle cx="194.5" cy="591.3" r="3.5" fill="#08f0e0"/><circle cx="270.6" cy="599.4" r="3.9" fill="#08f0e0"/><circle cx="456.0" cy="587.3" r="2.2" fill="#08f0e0"/><circle cx="197.6" cy="591.1" r="3.4" fill="#08f0e0"/><circle cx="450.6" cy="593.9" r="3.3" fill="#08f0e0"/><circle cx="331.3" cy="586.5" r="3.1" fill="#08f0e0"/><circle cx="162.2" cy="591.8" r="2.0" fill="#08f0e0"/><circle cx="370.2" cy="598.7" r="2.1" fill="#08f0e0"/><circle cx="334.6" cy="586.3" r="2.7" fill="#08f0e0"/><circle cx="136.9" cy="598.0" r="3.5" fill="#08f0e0"/><circle cx="483.4" cy="589.1" r="3.4" fill="#08f0e0"/><circle cx="390.8" cy="593.1" r="3.8" fill="#08f0e0"/><circle cx="355.7" cy="590.0" r="3.4" fill="#08f0e0"/><circle cx="288.2" cy="589.0" r="3.2" fill="#08f0e0"/><circle cx="84.7" cy="592.3" r="3.1" fill="#08f0e0"/><circle cx="63.2" cy="595.1" r="2.2" fill="#08f0e0"/><circle cx="367.4" cy="590.8" r="2.1" fill="#08f0e0"/><circle cx="531.7" cy="586.9" r="2.3" fill="#08f0e0"/><circle cx="299.7" cy="589.4" r="3.1" fill="#08f0e0"/><circle cx="284.8" cy="594.1" r="3.1" fill="#08f0e0"/><circle cx="200.3" cy="589.0" r="3.4" fill="#08f0e0"/><circle cx="263.6" cy="593.3" r="3.8" fill="#08f0e0"/><circle cx="66.0" cy="589.9" r="3.1" fill="#08f0e0"/><circle cx="87.4" cy="596.6" r="2.8" fill="#08f0e0"/><circle cx="210.7" cy="588.7" r="3.9" fill="#08f0e0"/><circle cx="83.9" cy="597.5" r="3.4" fill="#08f0e0"/><circle cx="483.8" cy="595.8" r="2.7" fill="#08f0e0"/><circle cx="320.5" cy="598.9" r="2.1" fill="#08f0e0"/><circle cx="461.5" cy="595.4" r="2.4" fill="#08f0e0"/><circle cx="516.4" cy="590.2" r="2.0" fill="#08f0e0"/><circle cx="187.7" cy="593.2" r="2.1" fill="#08f0e0"/><circle cx="340.1" cy="592.2" r="2.7" fill="#08f0e0"/><circle cx="417.2" cy="594.7" r="3.9" fill="#08f0e0"/><circle cx="470.8" cy="598.0" r="3.9" fill="#08f0e0"/><circle cx="461.5" cy="592.8" r="2.1" fill="#08f0e0"/><circle cx="272.1" cy="594.7" r="3.9" fill="#08f0e0"/><circle cx="369.4" cy="594.0" r="2.2" fill="#08f0e0"/><circle cx="367.7" cy="586.5" r="2.3" fill="#08f0e0"/><circle cx="82.3" cy="596.3" r="3.9" fill="#08f0e0"/><circle cx="341.3" cy="587.2" r="3.5" fill="#08f0e0"/><circle cx="144.0" cy="595.9" r="3.4" fill="#08f0e0"/><circle cx="506.0" cy="588.3" r="2.5" fill="#08f0e0"/><circle cx="212.0" cy="587.1" r="3.9" fill="#08f0e0"/><circle cx="354.6" cy="587.5" r="3.0" fill="#08f0e0"/><circle cx="108.4" cy="599.5" r="2.7" fill="#08f0e0"/><circle cx="63.2" cy="596.4" r="2.7" fill="#08f0e0"/><circle cx="367.3" cy="597.0" r="2.1" fill="#08f0e0"/><circle cx="318.8" cy="599.3" r="2.5" fill="#08f0e0"/><circle cx="179.2" cy="595.4" r="2.1" fill="#08f0e0"/><circle cx="447.3" cy="597.2" r="3.9" fill="#08f0e0"/><circle cx="453.6" cy="594.1" r="2.9" fill="#08f0e0"/><circle cx="313.9" cy="594.9" r="4.0" fill="#08f0e0"/><circle cx="133.6" cy="592.9" r="2.9" fill="#08f0e0"/><circle cx="177.4" cy="588.3" r="3.6" fill="#08f0e0"/><circle cx="336.9" cy="595.6" r="2.5" fill="#08f0e0"/><circle cx="287.4" cy="588.2" r="2.3" fill="#08f0e0"/>
</g>
<g transform="translate(150,186) scale(0.20000)" filter="url(#b2)">
<path d="M106.0,130.0 C106.3,158.3 108.0,226.7 108.0,300.0 C108.0,373.3 106.3,525.0 106.0,570.0" fill="none" stroke="#08ee78" stroke-width="12" stroke-linecap="round" stroke-linejoin="round"/>
<path d="M462.0,130.0 C462.7,158.3 465.5,226.7 466.0,300.0 C466.5,373.3 465.2,525.0 465.0,570.0" fill="none" stroke="#08ee78" stroke-width="11" stroke-linecap="round" stroke-linejoin="round"/>
<path d="M107.0,330.0 L106.0,570.0" fill="none" stroke="#70f010" stroke-width="7" stroke-linecap="round" stroke-linejoin="round"/>
<path d="M465.0,330.0 L465.0,570.0" fill="none" stroke="#70f010" stroke-width="7" stroke-linecap="round" stroke-linejoin="round"/>
<path d="M106.0,470.0 L106.0,575.0" fill="none" stroke="#ffc808" stroke-width="5" stroke-linecap="round" stroke-linejoin="round"/>
<path d="M466.0,480.0 L466.0,575.0" fill="none" stroke="#ffc808" stroke-width="5" stroke-linecap="round" stroke-linejoin="round"/>
<path d="M203.0,400.0 C202.0,413.3 197.8,451.7 197.0,480.0 C196.2,508.3 197.8,555.0 198.0,570.0" fill="none" stroke="#08ee78" stroke-width="8" stroke-linecap="round" stroke-linejoin="round"/>
<path d="M368.0,400.0 C369.3,413.3 374.0,451.7 376.0,480.0 C378.0,508.3 379.3,555.0 380.0,570.0" fill="none" stroke="#08ee78" stroke-width="8" stroke-linecap="round" stroke-linejoin="round"/>
<path d="M198.0,500.0 L199.0,570.0" fill="none" stroke="#70f010" stroke-width="5" stroke-linecap="round" stroke-linejoin="round"/>
<path d="M378.0,500.0 L380.0,570.0" fill="none" stroke="#70f010" stroke-width="5" stroke-linecap="round" stroke-linejoin="round"/>
<path d="M106.0,560.0 C106.7,563.0 106.0,574.0 110.0,578.0 C114.0,582.0 120.8,584.0 130.0,584.0 C139.2,584.0 155.0,578.7 165.0,578.0 C175.0,577.3 184.5,582.2 190.0,580.0 C195.5,577.8 196.7,567.5 198.0,565.0" fill="none" stroke="#ffc808" stroke-width="9" stroke-linecap="round" stroke-linejoin="round"/>
<path d="M106.0,565.0 C107.0,567.5 108.0,576.5 112.0,580.0 C116.0,583.5 122.0,585.7 130.0,586.0 C138.0,586.3 154.0,584.3 160.0,582.0 C166.0,579.7 164.0,572.0 166.0,572.0 C168.0,572.0 168.0,580.3 172.0,582.0 C176.0,583.7 185.8,584.0 190.0,582.0 C194.2,580.0 195.8,572.0 197.0,570.0" fill="none" stroke="#f80808" stroke-width="5" stroke-linecap="round" stroke-linejoin="round"/>
<path d="M379.0,565.0 C380.8,567.2 381.5,575.5 390.0,578.0 C398.5,580.5 418.7,580.0 430.0,580.0 C441.3,580.0 452.0,581.3 458.0,578.0 C464.0,574.7 464.7,563.0 466.0,560.0" fill="none" stroke="#ffc808" stroke-width="9" stroke-linecap="round" stroke-linejoin="round"/>
<path d="M380.0,568.0 C382.0,570.0 383.7,577.7 392.0,580.0 C400.3,582.3 419.3,582.0 430.0,582.0 C440.7,582.0 450.2,582.8 456.0,580.0 C461.8,577.2 463.5,567.5 465.0,565.0" fill="none" stroke="#f80808" stroke-width="5" stroke-linecap="round" stroke-linejoin="round"/>
<path d="M474.0,560.0 C478.0,555.0 491.3,549.3 500.0,548.0 C508.7,546.7 521.0,547.5 526.0,552.0 C531.0,556.5 534.3,570.0 530.0,575.0 C525.7,580.0 509.0,581.5 500.0,582.0 C491.0,582.5 480.3,581.7 476.0,578.0 C471.7,574.3 470.0,565.0 474.0,560.0 Z" fill="#70f010"/>
<path d="M490.0,560.0 C493.3,557.3 506.3,555.0 512.0,556.0 C517.7,557.0 524.3,563.0 524.0,566.0 C523.7,569.0 515.3,573.0 510.0,574.0 C504.7,575.0 495.3,574.3 492.0,572.0 C488.7,569.7 486.7,562.7 490.0,560.0 Z" fill="#ffc808"/>
<ellipse cx="516" cy="566" rx="6" ry="5" fill="#f80808"/>
<path d="M62.0,24.0 L500.0,24.0" fill="none" stroke="#c01010" stroke-width="7" stroke-linecap="butt" stroke-linejoin="round"/>
</g>
</g>
<rect x="162.3" y="190" width="93.7" height="115.0" fill="none" stroke="#2a2a2a" stroke-width="0.7"/>
<line x1="163.2" x2="163.2" y1="303.0" y2="305.0" stroke="#222" stroke-width="0.5"/>
<line x1="163.2" x2="163.2" y1="192.0" y2="190.0" stroke="#222" stroke-width="0.5"/>
<text class="k" text-anchor="middle" x="163.2" y="310.2">-1.25</text>
<line x1="172.0" x2="172.0" y1="303.0" y2="305.0" stroke="#222" stroke-width="0.5"/>
<line x1="172.0" x2="172.0" y1="192.0" y2="190.0" stroke="#222" stroke-width="0.5"/>
<text class="k" text-anchor="middle" x="172.0" y="310.2">-1</text>
<line x1="180.8" x2="180.8" y1="303.0" y2="305.0" stroke="#222" stroke-width="0.5"/>
<line x1="180.8" x2="180.8" y1="192.0" y2="190.0" stroke="#222" stroke-width="0.5"/>
<text class="k" text-anchor="middle" x="180.8" y="310.2">-0.75</text>
<line x1="189.5" x2="189.5" y1="303.0" y2="305.0" stroke="#222" stroke-width="0.5"/>
<line x1="189.5" x2="189.5" y1="192.0" y2="190.0" stroke="#222" stroke-width="0.5"/>
<text class="k" text-anchor="middle" x="189.5" y="310.2">-0.5</text>
<line x1="198.2" x2="198.2" y1="303.0" y2="305.0" stroke="#222" stroke-width="0.5"/>
<line x1="198.2" x2="198.2" y1="192.0" y2="190.0" stroke="#222" stroke-width="0.5"/>
<text class="k" text-anchor="middle" x="198.2" y="310.2">-0.25</text>
<line x1="207.0" x2="207.0" y1="303.0" y2="305.0" stroke="#222" stroke-width="0.5"/>
<line x1="207.0" x2="207.0" y1="192.0" y2="190.0" stroke="#222" stroke-width="0.5"/>
<text class="k" text-anchor="middle" x="207.0" y="310.2">0</text>
<line x1="215.8" x2="215.8" y1="303.0" y2="305.0" stroke="#222" stroke-width="0.5"/>
<line x1="215.8" x2="215.8" y1="192.0" y2="190.0" stroke="#222" stroke-width="0.5"/>
<text class="k" text-anchor="middle" x="215.8" y="310.2">0.25</text>
<line x1="224.5" x2="224.5" y1="303.0" y2="305.0" stroke="#222" stroke-width="0.5"/>
<line x1="224.5" x2="224.5" y1="192.0" y2="190.0" stroke="#222" stroke-width="0.5"/>
<text class="k" text-anchor="middle" x="224.5" y="310.2">0.5</text>
<line x1="233.2" x2="233.2" y1="303.0" y2="305.0" stroke="#222" stroke-width="0.5"/>
<line x1="233.2" x2="233.2" y1="192.0" y2="190.0" stroke="#222" stroke-width="0.5"/>
<text class="k" text-anchor="middle" x="233.2" y="310.2">0.75</text>
<line x1="242.0" x2="242.0" y1="303.0" y2="305.0" stroke="#222" stroke-width="0.5"/>
<line x1="242.0" x2="242.0" y1="192.0" y2="190.0" stroke="#222" stroke-width="0.5"/>
<text class="k" text-anchor="middle" x="242.0" y="310.2">1</text>
<line x1="250.8" x2="250.8" y1="303.0" y2="305.0" stroke="#222" stroke-width="0.5"/>
<line x1="250.8" x2="250.8" y1="192.0" y2="190.0" stroke="#222" stroke-width="0.5"/>
<text class="k" text-anchor="middle" x="250.8" y="310.2">1.25</text>
<line x1="162.3" x2="164.3" y1="300.4" y2="300.4" stroke="#222" stroke-width="0.5"/>
<line x1="256.0" x2="254.0" y1="300.4" y2="300.4" stroke="#222" stroke-width="0.5"/>
<text class="k" text-anchor="end" x="161.5" y="302.0">0</text>
<line x1="162.3" x2="164.3" y1="286.3" y2="286.3" stroke="#222" stroke-width="0.5"/>
<line x1="256.0" x2="254.0" y1="286.3" y2="286.3" stroke="#222" stroke-width="0.5"/>
<text class="k" text-anchor="end" x="161.5" y="287.9">0.25</text>
<line x1="162.3" x2="164.3" y1="272.2" y2="272.2" stroke="#222" stroke-width="0.5"/>
<line x1="256.0" x2="254.0" y1="272.2" y2="272.2" stroke="#222" stroke-width="0.5"/>
<text class="k" text-anchor="end" x="161.5" y="273.8">0.5</text>
<line x1="162.3" x2="164.3" y1="258.1" y2="258.1" stroke="#222" stroke-width="0.5"/>
<line x1="256.0" x2="254.0" y1="258.1" y2="258.1" stroke="#222" stroke-width="0.5"/>
<text class="k" text-anchor="end" x="161.5" y="259.7">0.75</text>
<line x1="162.3" x2="164.3" y1="244.0" y2="244.0" stroke="#222" stroke-width="0.5"/>
<line x1="256.0" x2="254.0" y1="244.0" y2="244.0" stroke="#222" stroke-width="0.5"/>
<text class="k" text-anchor="end" x="161.5" y="245.6">1</text>
<line x1="162.3" x2="164.3" y1="229.9" y2="229.9" stroke="#222" stroke-width="0.5"/>
<line x1="256.0" x2="254.0" y1="229.9" y2="229.9" stroke="#222" stroke-width="0.5"/>
<text class="k" text-anchor="end" x="161.5" y="231.5">1.25</text>
<line x1="162.3" x2="164.3" y1="215.8" y2="215.8" stroke="#222" stroke-width="0.5"/>
<line x1="256.0" x2="254.0" y1="215.8" y2="215.8" stroke="#222" stroke-width="0.5"/>
<text class="k" text-anchor="end" x="161.5" y="217.4">1.5</text>
<line x1="162.3" x2="164.3" y1="201.7" y2="201.7" stroke="#222" stroke-width="0.5"/>
<line x1="256.0" x2="254.0" y1="201.7" y2="201.7" stroke="#222" stroke-width="0.5"/>
<text class="k" text-anchor="end" x="161.5" y="203.3">1.75</text>
<text class="a" text-anchor="middle" x="207.0" y="314.8">r/Db</text>
<text class="a" text-anchor="middle" transform="translate(155.9,245.7) rotate(-90)">y/Db</text>
<rect x="14.3" y="328.1" width="125.4" height="149.3" fill="#fff" stroke="#d2d2d2" stroke-width="1"/><line x1="14.3" x2="139.7" y1="339.6" y2="339.6" stroke="#d2d2d2" stroke-width="1"/><text class="t" x="14.5" y="338.0">C-BR0.23-RIM3</text>
<clipPath id="c02"><rect x="30.4" y="346.2" width="94.7" height="115.2"/></clipPath>
<g clip-path="url(#c02)">
<rect x="29.4" y="345.2" width="96.7" height="117.2" fill="#0a5cf5"/>
<g transform="translate(20,342) scale(0.20000)" filter="url(#bl)">
<path d="M40.0,10.0 C50.8,-90.0 94.7,-13.3 105.0,10.0 C115.3,33.3 104.2,101.7 102.0,150.0 C99.8,198.3 95.3,248.3 92.0,300.0 C88.7,351.7 85.0,416.7 82.0,460.0 C79.0,503.3 76.0,535.0 74.0,560.0 C72.0,585.0 75.7,601.7 70.0,610.0 C64.3,618.3 45.0,710.0 40.0,610.0 C35.0,510.0 29.2,110.0 40.0,10.0 Z" fill="#0fbafa"/>
<path d="M535.0,10.0 C524.2,-90.0 480.3,-13.3 470.0,10.0 C459.7,33.3 471.2,101.7 473.0,150.0 C474.8,198.3 477.5,248.3 481.0,300.0 C484.5,351.7 490.5,416.7 494.0,460.0 C497.5,503.3 500.0,535.0 502.0,560.0 C504.0,585.0 500.5,601.7 506.0,610.0 C511.5,618.3 530.2,710.0 535.0,610.0 C539.8,510.0 545.8,110.0 535.0,10.0 Z" fill="#0fbafa"/>
<path d="M40.0,230.0 C43.3,170.0 55.0,230.0 60.0,250.0 C65.0,270.0 68.7,311.7 70.0,350.0 C71.3,388.3 69.0,436.7 68.0,480.0 C67.0,523.3 68.7,588.3 64.0,610.0 C59.3,631.7 44.0,673.3 40.0,610.0 C36.0,546.7 36.7,290.0 40.0,230.0 Z" fill="#08f0e0"/>
<path d="M535.0,260.0 C531.8,205.0 520.5,260.0 516.0,280.0 C511.5,300.0 509.3,343.3 508.0,380.0 C506.7,416.7 507.3,461.7 508.0,500.0 C508.7,538.3 507.5,591.7 512.0,610.0 C516.5,628.3 531.2,668.3 535.0,610.0 C538.8,551.7 538.2,315.0 535.0,260.0 Z" fill="#08f0e0"/>
<path d="M40.0,380.0 C43.0,344.2 54.3,375.0 58.0,395.0 C61.7,415.0 61.7,464.2 62.0,500.0 C62.3,535.8 63.7,591.7 60.0,610.0 C56.3,628.3 43.3,648.3 40.0,610.0 C36.7,571.7 37.0,415.8 40.0,380.0 Z" fill="#08ee78"/>
<path d="M535.0,380.0 C532.5,344.2 523.3,375.0 520.0,395.0 C516.7,415.0 515.7,464.2 515.0,500.0 C514.3,535.8 512.7,591.7 516.0,610.0 C519.3,628.3 531.8,648.3 535.0,610.0 C538.2,571.7 537.5,415.8 535.0,380.0 Z" fill="#08ee78"/>
<path d="M196.0,10.0 C191.0,18.3 189.7,43.3 186.0,60.0 C182.3,76.7 178.0,88.3 174.0,110.0 C170.0,131.7 164.8,158.3 162.0,190.0 C159.2,221.7 157.7,265.0 157.0,300.0 C156.3,335.0 157.3,366.7 158.0,400.0 C158.7,433.3 159.8,468.3 161.0,500.0 C162.2,531.7 151.8,575.0 165.0,590.0 C178.2,605.0 234.2,592.5 240.0,590.0 C245.8,587.5 205.7,590.0 200.0,575.0 C194.3,560.0 202.3,525.8 206.0,500.0 C209.7,474.2 215.3,441.7 222.0,420.0 C228.7,398.3 237.7,386.7 246.0,370.0 C254.3,353.3 269.3,340.0 272.0,320.0 C274.7,300.0 265.3,273.3 262.0,250.0 C258.7,226.7 256.0,203.3 252.0,180.0 C248.0,156.7 242.7,130.0 238.0,110.0 C233.3,90.0 227.7,76.7 224.0,60.0 C220.3,43.3 220.7,18.3 216.0,10.0 C211.3,1.7 201.0,1.7 196.0,10.0 Z" fill="#0fbafa"/>
<path d="M366.0,10.0 C361.0,18.3 360.0,43.3 356.0,60.0 C352.0,76.7 347.0,88.3 342.0,110.0 C337.0,131.7 330.7,165.0 326.0,190.0 C321.3,215.0 318.0,238.3 314.0,260.0 C310.0,281.7 299.3,301.7 302.0,320.0 C304.7,338.3 321.0,353.3 330.0,370.0 C339.0,386.7 347.7,398.3 356.0,420.0 C364.3,441.7 373.0,471.7 380.0,500.0 C387.0,528.3 391.7,575.0 398.0,590.0 C404.3,605.0 413.3,605.0 418.0,590.0 C422.7,575.0 423.8,531.7 426.0,500.0 C428.2,468.3 430.7,433.3 431.0,400.0 C431.3,366.7 429.8,333.3 428.0,300.0 C426.2,266.7 423.3,231.7 420.0,200.0 C416.7,168.3 412.0,133.3 408.0,110.0 C404.0,86.7 399.7,76.7 396.0,60.0 C392.3,43.3 391.0,18.3 386.0,10.0 C381.0,1.7 371.0,1.7 366.0,10.0 Z" fill="#0fbafa"/>
<path d="M252.0,160.0 C257.8,152.5 273.3,185.0 285.0,185.0 C296.7,185.0 315.2,152.5 322.0,160.0 C328.8,167.5 327.7,206.7 326.0,230.0 C324.3,253.3 318.7,282.0 312.0,300.0 C305.3,318.0 294.3,338.0 286.0,338.0 C277.7,338.0 268.0,318.0 262.0,300.0 C256.0,282.0 251.7,253.3 250.0,230.0 C248.3,206.7 246.2,167.5 252.0,160.0 Z" fill="#0fbafa"/>
<circle cx="324.9" cy="206.9" r="4.3" fill="#0fbafa"/><circle cx="312.6" cy="323.7" r="5.6" fill="#0fbafa"/><circle cx="264.2" cy="239.9" r="4.5" fill="#0fbafa"/><circle cx="330.8" cy="154.8" r="3.9" fill="#0fbafa"/><circle cx="278.5" cy="286.1" r="4.5" fill="#0fbafa"/><circle cx="317.8" cy="188.1" r="4.7" fill="#0fbafa"/><circle cx="300.0" cy="259.8" r="5.4" fill="#0fbafa"/><circle cx="236.0" cy="350.9" r="3.1" fill="#0fbafa"/><circle cx="311.9" cy="243.1" r="4.1" fill="#0fbafa"/><circle cx="304.4" cy="159.9" r="4.7" fill="#0fbafa"/><circle cx="300.0" cy="212.4" r="6.3" fill="#0fbafa"/><circle cx="249.2" cy="208.4" r="5.3" fill="#0fbafa"/><circle cx="310.1" cy="182.4" r="5.5" fill="#0fbafa"/><circle cx="287.0" cy="275.8" r="6.1" fill="#0fbafa"/><circle cx="283.2" cy="209.9" r="6.0" fill="#0fbafa"/><circle cx="241.1" cy="348.5" r="4.6" fill="#0fbafa"/><circle cx="324.0" cy="291.8" r="4.9" fill="#0fbafa"/><circle cx="237.4" cy="350.1" r="4.1" fill="#0fbafa"/><circle cx="330.0" cy="326.3" r="4.5" fill="#0fbafa"/><circle cx="329.0" cy="144.0" r="4.6" fill="#0fbafa"/><circle cx="293.6" cy="172.2" r="4.7" fill="#0fbafa"/><circle cx="244.3" cy="144.5" r="6.5" fill="#0fbafa"/><circle cx="260.7" cy="254.7" r="6.4" fill="#0fbafa"/><circle cx="341.4" cy="327.5" r="6.3" fill="#0fbafa"/><circle cx="241.6" cy="277.9" r="6.4" fill="#0fbafa"/><circle cx="242.1" cy="137.3" r="6.3" fill="#0fbafa"/><circle cx="345.3" cy="352.2" r="5.1" fill="#0fbafa"/><circle cx="308.2" cy="305.2" r="4.4" fill="#0fbafa"/><circle cx="297.8" cy="238.1" r="4.5" fill="#0fbafa"/><circle cx="280.9" cy="237.0" r="4.7" fill="#0fbafa"/><circle cx="314.8" cy="255.8" r="5.5" fill="#0fbafa"/><circle cx="265.0" cy="271.9" r="4.4" fill="#0fbafa"/><circle cx="272.8" cy="230.7" r="3.1" fill="#0fbafa"/><circle cx="262.9" cy="167.3" r="4.9" fill="#0fbafa"/><circle cx="225.8" cy="119.3" r="4.8" fill="#0fbafa"/><circle cx="321.5" cy="178.5" r="4.8" fill="#0fbafa"/><circle cx="297.7" cy="157.2" r="3.7" fill="#0fbafa"/><circle cx="269.3" cy="167.5" r="6.3" fill="#0fbafa"/><circle cx="248.0" cy="313.3" r="4.4" fill="#0fbafa"/><circle cx="231.2" cy="124.0" r="4.3" fill="#0fbafa"/><circle cx="267.1" cy="306.2" r="3.6" fill="#0fbafa"/><circle cx="283.8" cy="228.0" r="6.0" fill="#0fbafa"/><circle cx="265.5" cy="193.8" r="3.2" fill="#0fbafa"/><circle cx="315.5" cy="207.0" r="6.4" fill="#0fbafa"/><circle cx="258.1" cy="187.2" r="6.1" fill="#0fbafa"/><circle cx="272.4" cy="229.3" r="5.4" fill="#0fbafa"/><circle cx="281.3" cy="240.4" r="6.3" fill="#0fbafa"/><circle cx="255.0" cy="295.3" r="3.7" fill="#0fbafa"/><circle cx="295.3" cy="290.4" r="4.0" fill="#0fbafa"/><circle cx="330.2" cy="164.9" r="4.1" fill="#0fbafa"/><circle cx="272.1" cy="226.8" r="4.3" fill="#0fbafa"/><circle cx="305.8" cy="303.9" r="5.9" fill="#0fbafa"/><circle cx="256.2" cy="135.3" r="5.4" fill="#0fbafa"/><circle cx="297.3" cy="228.8" r="6.4" fill="#0fbafa"/><circle cx="302.7" cy="288.4" r="6.1" fill="#0fbafa"/><circle cx="258.0" cy="307.9" r="6.4" fill="#0fbafa"/><circle cx="274.8" cy="303.2" r="4.0" fill="#0fbafa"/><circle cx="331.5" cy="345.0" r="5.2" fill="#0fbafa"/><circle cx="294.6" cy="255.6" r="5.7" fill="#0fbafa"/><circle cx="318.1" cy="342.3" r="4.3" fill="#0fbafa"/><circle cx="252.1" cy="334.2" r="4.8" fill="#0fbafa"/><circle cx="312.1" cy="296.1" r="5.2" fill="#0fbafa"/><circle cx="309.3" cy="303.8" r="4.8" fill="#0fbafa"/><circle cx="342.6" cy="165.6" r="6.3" fill="#0fbafa"/><circle cx="310.1" cy="193.7" r="6.4" fill="#0fbafa"/><circle cx="230.2" cy="147.2" r="3.3" fill="#0fbafa"/><circle cx="331.4" cy="125.7" r="3.3" fill="#0fbafa"/><circle cx="333.9" cy="350.0" r="6.1" fill="#0fbafa"/><circle cx="326.5" cy="134.2" r="4.6" fill="#0fbafa"/><circle cx="278.5" cy="245.6" r="4.2" fill="#0fbafa"/><circle cx="310.9" cy="322.0" r="4.2" fill="#0fbafa"/><circle cx="277.1" cy="211.7" r="4.6" fill="#0fbafa"/><circle cx="256.7" cy="187.8" r="4.7" fill="#0fbafa"/><circle cx="330.5" cy="343.4" r="3.4" fill="#0fbafa"/><circle cx="286.7" cy="169.3" r="3.7" fill="#0fbafa"/><circle cx="235.5" cy="109.7" r="5.1" fill="#0fbafa"/><circle cx="328.2" cy="336.1" r="4.5" fill="#0fbafa"/><circle cx="288.9" cy="212.3" r="5.7" fill="#0fbafa"/><circle cx="254.9" cy="264.7" r="6.4" fill="#0fbafa"/><circle cx="283.3" cy="207.6" r="4.4" fill="#0fbafa"/><circle cx="282.0" cy="226.5" r="6.0" fill="#0fbafa"/><circle cx="286.1" cy="260.0" r="5.9" fill="#0fbafa"/><circle cx="297.6" cy="210.6" r="5.1" fill="#0fbafa"/><circle cx="332.5" cy="298.6" r="4.6" fill="#0fbafa"/><circle cx="291.4" cy="231.7" r="5.7" fill="#0fbafa"/><circle cx="324.4" cy="143.3" r="4.2" fill="#0fbafa"/><circle cx="216.4" cy="299.1" r="6.4" fill="#0fbafa"/><circle cx="311.4" cy="314.5" r="3.2" fill="#0fbafa"/><circle cx="294.2" cy="252.0" r="3.1" fill="#0fbafa"/><circle cx="254.6" cy="146.2" r="5.1" fill="#0fbafa"/><circle cx="230.3" cy="331.3" r="4.9" fill="#0fbafa"/><circle cx="316.3" cy="145.1" r="3.7" fill="#0fbafa"/><circle cx="243.9" cy="294.5" r="6.4" fill="#0fbafa"/><circle cx="263.9" cy="297.0" r="6.4" fill="#0fbafa"/><circle cx="259.8" cy="317.4" r="4.9" fill="#0fbafa"/><circle cx="269.4" cy="182.8" r="4.0" fill="#0fbafa"/><circle cx="293.2" cy="220.5" r="3.8" fill="#0fbafa"/><circle cx="303.2" cy="225.8" r="5.3" fill="#0fbafa"/><circle cx="314.8" cy="320.7" r="3.1" fill="#0fbafa"/><circle cx="347.6" cy="331.4" r="5.1" fill="#0fbafa"/><circle cx="278.7" cy="288.5" r="3.6" fill="#0fbafa"/><circle cx="275.4" cy="222.6" r="3.2" fill="#0fbafa"/><circle cx="252.1" cy="144.0" r="4.6" fill="#0fbafa"/><circle cx="241.6" cy="152.7" r="5.9" fill="#0fbafa"/><circle cx="332.3" cy="106.9" r="4.2" fill="#0fbafa"/><circle cx="319.5" cy="260.9" r="5.1" fill="#0fbafa"/><circle cx="259.8" cy="326.7" r="5.4" fill="#0fbafa"/><circle cx="331.1" cy="313.6" r="5.0" fill="#0fbafa"/><circle cx="291.0" cy="244.0" r="5.4" fill="#0fbafa"/><circle cx="317.0" cy="301.9" r="3.7" fill="#0fbafa"/><circle cx="254.8" cy="348.6" r="3.8" fill="#0fbafa"/><circle cx="266.2" cy="293.9" r="4.4" fill="#0fbafa"/><circle cx="314.6" cy="289.0" r="6.5" fill="#0fbafa"/><circle cx="270.0" cy="250.9" r="5.1" fill="#0fbafa"/><circle cx="243.3" cy="185.3" r="3.1" fill="#0fbafa"/><circle cx="301.1" cy="197.5" r="5.5" fill="#0fbafa"/><circle cx="281.4" cy="264.2" r="5.9" fill="#0fbafa"/><circle cx="247.2" cy="138.4" r="5.3" fill="#0fbafa"/><circle cx="315.5" cy="187.5" r="3.7" fill="#0fbafa"/><circle cx="279.3" cy="265.0" r="5.3" fill="#0fbafa"/><circle cx="285.4" cy="245.6" r="6.2" fill="#0fbafa"/><circle cx="301.7" cy="175.9" r="3.7" fill="#0fbafa"/><circle cx="289.7" cy="192.5" r="6.3" fill="#0fbafa"/><circle cx="232.4" cy="333.5" r="4.4" fill="#0fbafa"/><circle cx="291.2" cy="190.3" r="5.3" fill="#0fbafa"/><circle cx="244.1" cy="341.4" r="3.1" fill="#0fbafa"/><circle cx="250.1" cy="318.9" r="5.3" fill="#0fbafa"/><circle cx="253.3" cy="311.9" r="6.0" fill="#0fbafa"/><circle cx="287.5" cy="241.8" r="4.0" fill="#0fbafa"/><circle cx="294.2" cy="227.0" r="4.3" fill="#0fbafa"/><circle cx="248.7" cy="157.8" r="5.0" fill="#0fbafa"/><circle cx="308.8" cy="327.0" r="5.2" fill="#0fbafa"/><circle cx="313.5" cy="131.4" r="6.2" fill="#0fbafa"/><circle cx="257.8" cy="285.6" r="4.1" fill="#0fbafa"/><circle cx="291.0" cy="220.4" r="5.9" fill="#0fbafa"/><circle cx="260.1" cy="265.0" r="4.9" fill="#0fbafa"/><circle cx="242.0" cy="178.3" r="5.8" fill="#0fbafa"/><circle cx="254.2" cy="162.4" r="5.5" fill="#0fbafa"/><circle cx="265.6" cy="283.5" r="3.7" fill="#0fbafa"/><circle cx="287.4" cy="226.1" r="3.6" fill="#0fbafa"/><circle cx="263.8" cy="310.7" r="3.7" fill="#0fbafa"/><circle cx="296.1" cy="213.6" r="3.1" fill="#0fbafa"/><circle cx="264.6" cy="181.8" r="3.5" fill="#0fbafa"/><circle cx="288.5" cy="240.9" r="4.3" fill="#0fbafa"/><circle cx="316.4" cy="330.4" r="5.9" fill="#0fbafa"/><circle cx="278.7" cy="213.2" r="4.8" fill="#0fbafa"/><circle cx="301.5" cy="229.4" r="3.8" fill="#0fbafa"/><circle cx="298.0" cy="260.1" r="6.2" fill="#0fbafa"/><circle cx="244.9" cy="118.6" r="4.0" fill="#0fbafa"/><circle cx="307.1" cy="157.6" r="3.4" fill="#0fbafa"/><circle cx="251.1" cy="306.7" r="4.8" fill="#0fbafa"/><circle cx="257.7" cy="207.4" r="4.3" fill="#0fbafa"/><circle cx="268.4" cy="175.8" r="4.3" fill="#0fbafa"/><circle cx="297.5" cy="278.2" r="5.5" fill="#0fbafa"/><circle cx="321.0" cy="120.1" r="3.2" fill="#0fbafa"/><circle cx="248.1" cy="321.5" r="5.3" fill="#0fbafa"/><circle cx="330.8" cy="130.3" r="4.8" fill="#0fbafa"/><circle cx="313.5" cy="345.0" r="5.8" fill="#0fbafa"/><circle cx="299.4" cy="280.7" r="6.1" fill="#0fbafa"/><circle cx="317.9" cy="151.4" r="4.6" fill="#0fbafa"/><circle cx="230.7" cy="358.8" r="5.9" fill="#0fbafa"/><circle cx="302.8" cy="135.7" r="5.6" fill="#0fbafa"/><circle cx="307.0" cy="208.0" r="6.1" fill="#0fbafa"/><circle cx="325.4" cy="129.5" r="5.0" fill="#0fbafa"/><circle cx="293.2" cy="204.9" r="5.2" fill="#0fbafa"/><circle cx="261.6" cy="320.5" r="3.6" fill="#0fbafa"/><circle cx="255.0" cy="128.5" r="4.9" fill="#0fbafa"/><circle cx="307.3" cy="129.4" r="5.0" fill="#0fbafa"/><circle cx="233.3" cy="346.3" r="3.6" fill="#0fbafa"/><circle cx="298.0" cy="177.6" r="6.3" fill="#0fbafa"/><circle cx="309.1" cy="282.4" r="3.1" fill="#0fbafa"/><circle cx="258.4" cy="271.1" r="4.9" fill="#0fbafa"/><circle cx="317.3" cy="354.6" r="4.3" fill="#0fbafa"/><circle cx="296.9" cy="271.3" r="5.8" fill="#0fbafa"/><circle cx="249.6" cy="327.5" r="4.6" fill="#0fbafa"/><circle cx="265.0" cy="205.1" r="3.6" fill="#0fbafa"/><circle cx="326.1" cy="346.3" r="6.1" fill="#0fbafa"/><circle cx="299.0" cy="196.6" r="6.1" fill="#0fbafa"/><circle cx="248.2" cy="134.6" r="5.0" fill="#0fbafa"/><circle cx="247.1" cy="175.6" r="5.5" fill="#0fbafa"/><circle cx="307.4" cy="226.7" r="3.7" fill="#0fbafa"/><circle cx="302.2" cy="287.9" r="3.8" fill="#0fbafa"/><circle cx="253.6" cy="186.5" r="4.4" fill="#0fbafa"/><circle cx="242.3" cy="161.6" r="3.6" fill="#0fbafa"/><circle cx="236.0" cy="156.7" r="3.5" fill="#0fbafa"/><circle cx="303.2" cy="180.2" r="3.1" fill="#0fbafa"/><circle cx="251.4" cy="313.9" r="5.6" fill="#0fbafa"/><circle cx="267.7" cy="193.5" r="4.6" fill="#0fbafa"/><circle cx="304.3" cy="165.1" r="4.1" fill="#0fbafa"/><circle cx="248.4" cy="316.5" r="4.6" fill="#0fbafa"/><circle cx="309.8" cy="298.4" r="3.3" fill="#0fbafa"/><circle cx="354.5" cy="148.8" r="4.5" fill="#0fbafa"/><circle cx="286.0" cy="269.3" r="3.8" fill="#0fbafa"/><circle cx="332.1" cy="136.3" r="3.9" fill="#0fbafa"/><circle cx="277.5" cy="249.3" r="5.2" fill="#0fbafa"/><circle cx="300.0" cy="209.2" r="5.6" fill="#0fbafa"/><circle cx="289.0" cy="270.4" r="3.5" fill="#0fbafa"/><circle cx="275.4" cy="177.2" r="4.6" fill="#0fbafa"/><circle cx="303.3" cy="193.7" r="6.3" fill="#0fbafa"/><circle cx="269.9" cy="247.2" r="4.3" fill="#0fbafa"/><circle cx="297.8" cy="288.4" r="4.9" fill="#0fbafa"/><circle cx="297.5" cy="255.1" r="4.7" fill="#0fbafa"/><circle cx="275.9" cy="255.7" r="3.9" fill="#0fbafa"/><circle cx="345.6" cy="330.5" r="3.2" fill="#0fbafa"/><circle cx="274.0" cy="234.4" r="3.2" fill="#0fbafa"/><circle cx="239.9" cy="179.1" r="4.8" fill="#0fbafa"/><circle cx="290.9" cy="294.9" r="3.2" fill="#0fbafa"/><circle cx="281.2" cy="252.8" r="4.2" fill="#0fbafa"/><circle cx="278.7" cy="222.8" r="5.0" fill="#0fbafa"/><circle cx="260.1" cy="144.2" r="3.8" fill="#0fbafa"/><circle cx="249.4" cy="270.7" r="4.0" fill="#0fbafa"/><circle cx="300.6" cy="238.4" r="5.3" fill="#0fbafa"/><circle cx="286.8" cy="265.9" r="6.3" fill="#0fbafa"/><circle cx="261.6" cy="154.4" r="5.7" fill="#0fbafa"/><circle cx="254.1" cy="99.5" r="4.5" fill="#0fbafa"/><circle cx="283.0" cy="226.0" r="5.2" fill="#0fbafa"/><circle cx="315.2" cy="290.0" r="6.5" fill="#0fbafa"/><circle cx="264.7" cy="293.1" r="5.3" fill="#0fbafa"/><circle cx="263.4" cy="205.9" r="6.3" fill="#0fbafa"/><circle cx="276.8" cy="245.0" r="4.9" fill="#0fbafa"/>
<circle cx="269.3" cy="259.0" r="2.8" fill="#0a5cf5"/><circle cx="326.6" cy="133.8" r="2.7" fill="#0a5cf5"/><circle cx="299.7" cy="162.3" r="4.3" fill="#0a5cf5"/><circle cx="260.7" cy="204.9" r="2.5" fill="#0a5cf5"/><circle cx="315.5" cy="306.3" r="4.9" fill="#0a5cf5"/><circle cx="296.1" cy="194.7" r="3.4" fill="#0a5cf5"/><circle cx="309.3" cy="166.1" r="4.9" fill="#0a5cf5"/><circle cx="278.3" cy="193.5" r="4.7" fill="#0a5cf5"/><circle cx="283.4" cy="249.8" r="3.2" fill="#0a5cf5"/><circle cx="337.8" cy="124.8" r="3.6" fill="#0a5cf5"/><circle cx="243.5" cy="313.2" r="3.2" fill="#0a5cf5"/><circle cx="232.2" cy="332.5" r="4.3" fill="#0a5cf5"/><circle cx="245.1" cy="162.8" r="4.2" fill="#0a5cf5"/><circle cx="263.7" cy="154.0" r="3.1" fill="#0a5cf5"/><circle cx="230.5" cy="119.0" r="4.8" fill="#0a5cf5"/><circle cx="295.1" cy="253.0" r="4.7" fill="#0a5cf5"/><circle cx="268.6" cy="268.8" r="3.9" fill="#0a5cf5"/><circle cx="267.0" cy="169.4" r="3.0" fill="#0a5cf5"/><circle cx="342.3" cy="350.4" r="2.8" fill="#0a5cf5"/><circle cx="290.9" cy="257.2" r="4.0" fill="#0a5cf5"/><circle cx="301.0" cy="220.2" r="2.5" fill="#0a5cf5"/><circle cx="310.3" cy="277.5" r="3.2" fill="#0a5cf5"/><circle cx="342.2" cy="144.5" r="3.2" fill="#0a5cf5"/><circle cx="280.2" cy="230.0" r="4.1" fill="#0a5cf5"/><circle cx="257.1" cy="320.3" r="3.8" fill="#0a5cf5"/><circle cx="244.9" cy="292.8" r="2.8" fill="#0a5cf5"/><circle cx="270.4" cy="201.6" r="3.9" fill="#0a5cf5"/><circle cx="249.8" cy="113.7" r="3.8" fill="#0a5cf5"/><circle cx="249.5" cy="139.0" r="3.8" fill="#0a5cf5"/><circle cx="288.4" cy="251.2" r="4.2" fill="#0a5cf5"/><circle cx="322.9" cy="280.8" r="3.6" fill="#0a5cf5"/><circle cx="283.1" cy="236.4" r="2.6" fill="#0a5cf5"/><circle cx="294.7" cy="243.4" r="2.6" fill="#0a5cf5"/><circle cx="335.0" cy="124.4" r="3.1" fill="#0a5cf5"/><circle cx="250.9" cy="268.2" r="4.7" fill="#0a5cf5"/><circle cx="280.5" cy="237.7" r="3.0" fill="#0a5cf5"/><circle cx="234.4" cy="138.2" r="4.7" fill="#0a5cf5"/><circle cx="349.0" cy="126.6" r="4.5" fill="#0a5cf5"/><circle cx="332.0" cy="142.3" r="3.6" fill="#0a5cf5"/><circle cx="312.2" cy="175.2" r="4.5" fill="#0a5cf5"/><circle cx="282.0" cy="322.6" r="4.6" fill="#0a5cf5"/><circle cx="239.2" cy="348.5" r="3.0" fill="#0a5cf5"/><circle cx="296.2" cy="206.6" r="3.5" fill="#0a5cf5"/><circle cx="328.5" cy="341.4" r="4.3" fill="#0a5cf5"/><circle cx="320.9" cy="302.2" r="4.9" fill="#0a5cf5"/><circle cx="276.2" cy="246.9" r="4.0" fill="#0a5cf5"/><circle cx="295.8" cy="233.2" r="4.6" fill="#0a5cf5"/><circle cx="329.1" cy="122.5" r="2.8" fill="#0a5cf5"/><circle cx="239.6" cy="322.9" r="2.7" fill="#0a5cf5"/><circle cx="308.5" cy="266.2" r="4.3" fill="#0a5cf5"/><circle cx="266.1" cy="173.6" r="3.6" fill="#0a5cf5"/><circle cx="251.7" cy="333.5" r="3.9" fill="#0a5cf5"/><circle cx="323.7" cy="133.9" r="3.4" fill="#0a5cf5"/><circle cx="328.4" cy="129.1" r="4.6" fill="#0a5cf5"/><circle cx="256.3" cy="272.2" r="4.8" fill="#0a5cf5"/><circle cx="326.7" cy="147.4" r="4.4" fill="#0a5cf5"/><circle cx="234.5" cy="141.5" r="3.0" fill="#0a5cf5"/><circle cx="292.2" cy="262.1" r="4.8" fill="#0a5cf5"/><circle cx="237.0" cy="120.6" r="3.3" fill="#0a5cf5"/><circle cx="250.1" cy="146.9" r="4.3" fill="#0a5cf5"/><circle cx="296.7" cy="250.3" r="4.8" fill="#0a5cf5"/><circle cx="285.1" cy="239.3" r="2.8" fill="#0a5cf5"/><circle cx="311.6" cy="181.5" r="3.1" fill="#0a5cf5"/><circle cx="257.7" cy="133.0" r="4.8" fill="#0a5cf5"/><circle cx="332.0" cy="165.2" r="4.7" fill="#0a5cf5"/><circle cx="234.8" cy="109.9" r="4.2" fill="#0a5cf5"/><circle cx="257.3" cy="296.9" r="2.8" fill="#0a5cf5"/><circle cx="329.1" cy="330.2" r="3.7" fill="#0a5cf5"/><circle cx="308.9" cy="191.9" r="3.5" fill="#0a5cf5"/><circle cx="317.3" cy="175.9" r="4.1" fill="#0a5cf5"/><circle cx="278.6" cy="204.8" r="4.9" fill="#0a5cf5"/><circle cx="262.7" cy="154.8" r="3.4" fill="#0a5cf5"/><circle cx="307.1" cy="294.3" r="3.5" fill="#0a5cf5"/><circle cx="303.7" cy="250.1" r="3.8" fill="#0a5cf5"/><circle cx="248.8" cy="305.3" r="4.2" fill="#0a5cf5"/><circle cx="263.7" cy="186.6" r="4.8" fill="#0a5cf5"/><circle cx="278.7" cy="239.9" r="3.9" fill="#0a5cf5"/><circle cx="241.6" cy="144.4" r="4.0" fill="#0a5cf5"/><circle cx="304.6" cy="186.1" r="4.5" fill="#0a5cf5"/><circle cx="286.2" cy="257.0" r="3.0" fill="#0a5cf5"/><circle cx="283.5" cy="219.4" r="4.2" fill="#0a5cf5"/><circle cx="278.8" cy="249.5" r="4.2" fill="#0a5cf5"/><circle cx="317.1" cy="165.4" r="5.0" fill="#0a5cf5"/><circle cx="252.7" cy="260.2" r="3.9" fill="#0a5cf5"/><circle cx="301.5" cy="282.6" r="4.1" fill="#0a5cf5"/><circle cx="340.6" cy="107.2" r="4.5" fill="#0a5cf5"/><circle cx="313.7" cy="278.4" r="4.6" fill="#0a5cf5"/><circle cx="265.5" cy="204.1" r="4.0" fill="#0a5cf5"/><circle cx="322.4" cy="331.8" r="3.8" fill="#0a5cf5"/><circle cx="334.5" cy="303.4" r="3.7" fill="#0a5cf5"/>
<path d="M190.0,232.0 C185.7,242.0 180.5,272.0 176.0,300.0 C171.5,328.0 165.7,366.7 163.0,400.0 C160.3,433.3 159.5,468.3 160.0,500.0 C160.5,531.7 161.0,575.0 166.0,590.0 C171.0,605.0 185.3,605.0 190.0,590.0 C194.7,575.0 192.3,531.7 194.0,500.0 C195.7,468.3 197.3,433.3 200.0,400.0 C202.7,366.7 209.7,326.7 210.0,300.0 C210.3,273.3 205.3,251.3 202.0,240.0 C198.7,228.7 194.3,222.0 190.0,232.0 Z" fill="#08f0e0"/>
<path d="M378.0,232.0 C373.3,242.0 363.3,272.0 362.0,300.0 C360.7,328.0 366.7,366.7 370.0,400.0 C373.3,433.3 378.3,468.3 382.0,500.0 C385.7,531.7 386.3,575.0 392.0,590.0 C397.7,605.0 411.3,605.0 416.0,590.0 C420.7,575.0 420.0,531.7 420.0,500.0 C420.0,468.3 419.0,433.3 416.0,400.0 C413.0,366.7 406.3,326.7 402.0,300.0 C397.7,273.3 394.0,251.3 390.0,240.0 C386.0,228.7 382.7,222.0 378.0,232.0 Z" fill="#08f0e0"/>
<path d="M184.0,330.0 C180.7,340.0 174.7,371.7 172.0,400.0 C169.3,428.3 168.0,468.3 168.0,500.0 C168.0,531.7 169.3,575.0 172.0,590.0 C174.7,605.0 182.0,605.0 184.0,590.0 C186.0,575.0 183.3,531.7 184.0,500.0 C184.7,468.3 186.7,426.7 188.0,400.0 C189.3,373.3 192.7,351.7 192.0,340.0 C191.3,328.3 187.3,320.0 184.0,330.0 Z" fill="#08ee78"/>
<path d="M384.0,340.0 C382.3,349.2 380.3,373.3 382.0,400.0 C383.7,426.7 391.2,468.3 394.0,500.0 C396.8,531.7 396.3,575.0 399.0,590.0 C401.7,605.0 408.2,605.0 410.0,590.0 C411.8,575.0 411.3,531.7 410.0,500.0 C408.7,468.3 405.0,425.8 402.0,400.0 C399.0,374.2 395.0,355.0 392.0,345.0 C389.0,335.0 385.7,330.8 384.0,340.0 Z" fill="#08ee78"/>
<path d="M256.0,570.0 C256.3,563.7 262.3,555.7 268.0,552.0 C273.7,548.3 283.0,547.0 290.0,548.0 C297.0,549.0 305.7,553.0 310.0,558.0 C314.3,563.0 317.7,572.7 316.0,578.0 C314.3,583.3 308.3,588.0 300.0,590.0 C291.7,592.0 273.3,593.3 266.0,590.0 C258.7,586.7 255.7,576.3 256.0,570.0 Z" fill="#0fbafa"/>
<circle cx="239.0" cy="579.0" r="2.4" fill="#0fbafa"/><circle cx="283.6" cy="577.6" r="4.4" fill="#0fbafa"/><circle cx="282.6" cy="567.9" r="2.1" fill="#0fbafa"/><circle cx="280.4" cy="560.9" r="4.6" fill="#0fbafa"/><circle cx="292.4" cy="582.3" r="3.3" fill="#0fbafa"/><circle cx="253.5" cy="587.6" r="4.5" fill="#0fbafa"/><circle cx="274.5" cy="545.4" r="3.5" fill="#0fbafa"/><circle cx="287.1" cy="583.2" r="3.8" fill="#0fbafa"/><circle cx="288.2" cy="572.2" r="3.1" fill="#0fbafa"/><circle cx="240.1" cy="543.4" r="4.8" fill="#0fbafa"/><circle cx="323.1" cy="556.6" r="4.7" fill="#0fbafa"/><circle cx="289.8" cy="545.8" r="4.6" fill="#0fbafa"/><circle cx="296.4" cy="592.2" r="4.0" fill="#0fbafa"/><circle cx="244.9" cy="574.9" r="4.4" fill="#0fbafa"/><circle cx="329.4" cy="558.6" r="3.6" fill="#0fbafa"/><circle cx="308.6" cy="549.3" r="4.5" fill="#0fbafa"/><circle cx="317.0" cy="542.8" r="3.8" fill="#0fbafa"/><circle cx="273.6" cy="550.4" r="3.8" fill="#0fbafa"/><circle cx="336.8" cy="570.9" r="2.3" fill="#0fbafa"/><circle cx="287.0" cy="583.6" r="4.9" fill="#0fbafa"/><circle cx="310.1" cy="542.3" r="4.9" fill="#0fbafa"/><circle cx="298.2" cy="544.7" r="2.4" fill="#0fbafa"/><circle cx="244.1" cy="577.2" r="2.5" fill="#0fbafa"/><circle cx="319.8" cy="546.1" r="3.6" fill="#0fbafa"/><circle cx="281.5" cy="542.1" r="2.0" fill="#0fbafa"/><circle cx="329.9" cy="594.7" r="2.4" fill="#0fbafa"/><circle cx="312.1" cy="595.4" r="4.7" fill="#0fbafa"/><circle cx="327.9" cy="558.9" r="4.2" fill="#0fbafa"/><circle cx="287.3" cy="592.5" r="4.1" fill="#0fbafa"/><circle cx="323.6" cy="588.0" r="3.2" fill="#0fbafa"/>
<ellipse cx="141" cy="587" rx="3" ry="3" fill="#0a5cf5"/>
</g>
<g transform="translate(20,342) scale(0.20000)" filter="url(#b2)">
<path d="M40.0,440.0 C42.7,414.2 53.0,426.7 56.0,455.0 C59.0,483.3 60.7,584.2 58.0,610.0 C55.3,635.8 43.0,638.3 40.0,610.0 C37.0,581.7 37.3,465.8 40.0,440.0 Z" fill="#70f010"/>
<path d="M535.0,440.0 C532.8,414.2 524.5,426.7 522.0,455.0 C519.5,483.3 517.8,584.2 520.0,610.0 C522.2,635.8 532.5,638.3 535.0,610.0 C537.5,581.7 537.2,465.8 535.0,440.0 Z" fill="#70f010"/>
<path d="M56.0,500.0 L57.0,595.0" fill="none" stroke="#ffc808" stroke-width="5" stroke-linecap="butt" stroke-linejoin="round"/>
<path d="M522.0,500.0 L521.0,595.0" fill="none" stroke="#ffc808" stroke-width="5" stroke-linecap="butt" stroke-linejoin="round"/>
<path d="M56.0,535.0 L57.0,595.0" fill="none" stroke="#f80808" stroke-width="4" stroke-linecap="butt" stroke-linejoin="round"/>
<path d="M522.0,555.0 L521.0,595.0" fill="none" stroke="#f80808" stroke-width="4" stroke-linecap="butt" stroke-linejoin="round"/>
<path d="M176.0,430.0 C175.7,441.7 173.7,473.3 174.0,500.0 C174.3,526.7 177.3,575.0 178.0,590.0" fill="none" stroke="#70f010" stroke-width="7" stroke-linecap="round" stroke-linejoin="round"/>
<path d="M396.0,440.0 C397.0,450.0 400.7,475.0 402.0,500.0 C403.3,525.0 403.7,575.0 404.0,590.0" fill="none" stroke="#70f010" stroke-width="7" stroke-linecap="round" stroke-linejoin="round"/>
<path d="M176.0,480.0 C176.0,490.0 175.5,521.7 176.0,540.0 C176.5,558.3 178.5,581.7 179.0,590.0" fill="none" stroke="#ffc808" stroke-width="5" stroke-linecap="round" stroke-linejoin="round"/>
<path d="M401.0,480.0 C401.5,490.0 403.5,521.7 404.0,540.0 C404.5,558.3 404.0,581.7 404.0,590.0" fill="none" stroke="#ffc808" stroke-width="5" stroke-linecap="round" stroke-linejoin="round"/>
<path d="M177.0,520.0 C177.2,526.7 177.5,548.0 178.0,560.0 C178.5,572.0 179.7,586.7 180.0,592.0" fill="none" stroke="#f80808" stroke-width="5" stroke-linecap="round" stroke-linejoin="round"/>
<path d="M404.0,520.0 C404.0,526.7 404.0,548.0 404.0,560.0 C404.0,572.0 404.0,586.7 404.0,592.0" fill="none" stroke="#f80808" stroke-width="5" stroke-linecap="round" stroke-linejoin="round"/>
<path d="M52.0,588.0 L176.0,588.0" fill="none" stroke="#08f0e0" stroke-width="8" stroke-linecap="butt" stroke-linejoin="round"/>
<path d="M404.0,588.0 L525.0,588.0" fill="none" stroke="#08f0e0" stroke-width="8" stroke-linecap="butt" stroke-linejoin="round"/>
<path d="M52.0,591.0 L178.0,591.0" fill="none" stroke="#ffc808" stroke-width="5" stroke-linecap="butt" stroke-linejoin="round"/>
<path d="M404.0,591.0 L525.0,591.0" fill="none" stroke="#ffc808" stroke-width="5" stroke-linecap="butt" stroke-linejoin="round"/>
<path d="M52.0,594.0 L180.0,594.0" fill="none" stroke="#f80808" stroke-width="5" stroke-linecap="butt" stroke-linejoin="round"/>
<path d="M404.0,594.0 L525.0,594.0" fill="none" stroke="#f80808" stroke-width="5" stroke-linecap="butt" stroke-linejoin="round"/>
<ellipse cx="141" cy="586" rx="8" ry="8" fill="#f80808"/>
</g>
</g>
<rect x="30.4" y="346.2" width="94.7" height="115.2" fill="none" stroke="#2a2a2a" stroke-width="0.7"/>
<line x1="35.0" x2="35.0" y1="459.4" y2="461.4" stroke="#222" stroke-width="0.5"/>
<line x1="35.0" x2="35.0" y1="348.2" y2="346.2" stroke="#222" stroke-width="0.5"/>
<text class="k" text-anchor="middle" x="35.0" y="466.6">-1</text>
<line x1="45.8" x2="45.8" y1="459.4" y2="461.4" stroke="#222" stroke-width="0.5"/>
<line x1="45.8" x2="45.8" y1="348.2" y2="346.2" stroke="#222" stroke-width="0.5"/>
<text class="k" text-anchor="middle" x="45.8" y="466.6">-0.75</text>
<line x1="56.5" x2="56.5" y1="459.4" y2="461.4" stroke="#222" stroke-width="0.5"/>
<line x1="56.5" x2="56.5" y1="348.2" y2="346.2" stroke="#222" stroke-width="0.5"/>
<text class="k" text-anchor="middle" x="56.5" y="466.6">-0.5</text>
<line x1="67.2" x2="67.2" y1="459.4" y2="461.4" stroke="#222" stroke-width="0.5"/>
<line x1="67.2" x2="67.2" y1="348.2" y2="346.2" stroke="#222" stroke-width="0.5"/>
<text class="k" text-anchor="middle" x="67.2" y="466.6">-0.25</text>
<line x1="78.0" x2="78.0" y1="459.4" y2="461.4" stroke="#222" stroke-width="0.5"/>
<line x1="78.0" x2="78.0" y1="348.2" y2="346.2" stroke="#222" stroke-width="0.5"/>
<text class="k" text-anchor="middle" x="78.0" y="466.6">0</text>
<line x1="88.8" x2="88.8" y1="459.4" y2="461.4" stroke="#222" stroke-width="0.5"/>
<line x1="88.8" x2="88.8" y1="348.2" y2="346.2" stroke="#222" stroke-width="0.5"/>
<text class="k" text-anchor="middle" x="88.8" y="466.6">0.25</text>
<line x1="99.5" x2="99.5" y1="459.4" y2="461.4" stroke="#222" stroke-width="0.5"/>
<line x1="99.5" x2="99.5" y1="348.2" y2="346.2" stroke="#222" stroke-width="0.5"/>
<text class="k" text-anchor="middle" x="99.5" y="466.6">0.5</text>
<line x1="110.2" x2="110.2" y1="459.4" y2="461.4" stroke="#222" stroke-width="0.5"/>
<line x1="110.2" x2="110.2" y1="348.2" y2="346.2" stroke="#222" stroke-width="0.5"/>
<text class="k" text-anchor="middle" x="110.2" y="466.6">0.75</text>
<line x1="121.0" x2="121.0" y1="459.4" y2="461.4" stroke="#222" stroke-width="0.5"/>
<line x1="121.0" x2="121.0" y1="348.2" y2="346.2" stroke="#222" stroke-width="0.5"/>
<text class="k" text-anchor="middle" x="121.0" y="466.6">1</text>
<line x1="30.4" x2="32.4" y1="461.4" y2="461.4" stroke="#222" stroke-width="0.5"/>
<line x1="125.1" x2="123.1" y1="461.4" y2="461.4" stroke="#222" stroke-width="0.5"/>
<text class="k" text-anchor="end" x="29.6" y="463.0">0</text>
<line x1="30.4" x2="32.4" y1="446.6" y2="446.6" stroke="#222" stroke-width="0.5"/>
<line x1="125.1" x2="123.1" y1="446.6" y2="446.6" stroke="#222" stroke-width="0.5"/>
<text class="k" text-anchor="end" x="29.6" y="448.2">0.25</text>
<line x1="30.4" x2="32.4" y1="431.8" y2="431.8" stroke="#222" stroke-width="0.5"/>
<line x1="125.1" x2="123.1" y1="431.8" y2="431.8" stroke="#222" stroke-width="0.5"/>
<text class="k" text-anchor="end" x="29.6" y="433.4">0.5</text>
<line x1="30.4" x2="32.4" y1="417.1" y2="417.1" stroke="#222" stroke-width="0.5"/>
<line x1="125.1" x2="123.1" y1="417.1" y2="417.1" stroke="#222" stroke-width="0.5"/>
<text class="k" text-anchor="end" x="29.6" y="418.7">0.75</text>
<line x1="30.4" x2="32.4" y1="402.3" y2="402.3" stroke="#222" stroke-width="0.5"/>
<line x1="125.1" x2="123.1" y1="402.3" y2="402.3" stroke="#222" stroke-width="0.5"/>
<text class="k" text-anchor="end" x="29.6" y="403.9">1</text>
<line x1="30.4" x2="32.4" y1="387.5" y2="387.5" stroke="#222" stroke-width="0.5"/>
<line x1="125.1" x2="123.1" y1="387.5" y2="387.5" stroke="#222" stroke-width="0.5"/>
<text class="k" text-anchor="end" x="29.6" y="389.1">1.25</text>
<line x1="30.4" x2="32.4" y1="372.7" y2="372.7" stroke="#222" stroke-width="0.5"/>
<line x1="125.1" x2="123.1" y1="372.7" y2="372.7" stroke="#222" stroke-width="0.5"/>
<text class="k" text-anchor="end" x="29.6" y="374.3">1.5</text>
<line x1="30.4" x2="32.4" y1="357.9" y2="357.9" stroke="#222" stroke-width="0.5"/>
<line x1="125.1" x2="123.1" y1="357.9" y2="357.9" stroke="#222" stroke-width="0.5"/>
<text class="k" text-anchor="end" x="29.6" y="359.5">1.75</text>
<text class="a" text-anchor="middle" x="78.0" y="471.2">r/Db</text>
<text class="a" text-anchor="middle" transform="translate(24.0,404.1) rotate(-90)">y/Db</text>
<rect x="146.8" y="328.1" width="124.9" height="149.3" fill="#fff" stroke="#d2d2d2" stroke-width="1"/><line x1="146.8" x2="271.7" y1="339.6" y2="339.6" stroke="#d2d2d2" stroke-width="1"/><text class="t" x="147.0" y="338.0">D-BR0.23-RIM3</text>
<clipPath id="c12"><rect x="162.2" y="346.2" width="94.4" height="115.2"/></clipPath>
<g clip-path="url(#c12)">
<rect x="161.2" y="345.2" width="96.4" height="117.2" fill="#0a5cf5"/>
<g transform="translate(150,342) scale(0.20000)" filter="url(#bl)">
<path d="M50.0,10.0 C62.3,-90.0 112.0,-13.3 124.0,10.0 C136.0,33.3 123.7,101.7 122.0,150.0 C120.3,198.3 117.7,248.3 114.0,300.0 C110.3,351.7 104.3,416.7 100.0,460.0 C95.7,503.3 90.7,535.0 88.0,560.0 C85.3,585.0 90.3,601.7 84.0,610.0 C77.7,618.3 55.7,710.0 50.0,610.0 C44.3,510.0 37.7,110.0 50.0,10.0 Z" fill="#0fbafa"/>
<path d="M545.0,10.0 C531.5,-90.0 476.5,-13.3 464.0,10.0 C451.5,33.3 466.7,101.7 470.0,150.0 C473.3,198.3 479.3,248.3 484.0,300.0 C488.7,351.7 494.0,416.7 498.0,460.0 C502.0,503.3 505.7,535.0 508.0,560.0 C510.3,585.0 505.8,601.7 512.0,610.0 C518.2,618.3 539.5,710.0 545.0,610.0 C550.5,510.0 558.5,110.0 545.0,10.0 Z" fill="#0fbafa"/>
<path d="M62.0,190.0 C66.3,123.3 82.0,191.7 88.0,210.0 C94.0,228.3 96.7,268.3 98.0,300.0 C99.3,331.7 97.7,363.3 96.0,400.0 C94.3,436.7 90.3,485.0 88.0,520.0 C85.7,555.0 86.3,595.0 82.0,610.0 C77.7,625.0 65.3,680.0 62.0,610.0 C58.7,540.0 57.7,256.7 62.0,190.0 Z" fill="#08f0e0"/>
<path d="M545.0,110.0 C538.5,29.2 514.2,101.7 506.0,125.0 C497.8,148.3 497.0,204.2 496.0,250.0 C495.0,295.8 498.0,355.0 500.0,400.0 C502.0,445.0 505.7,485.0 508.0,520.0 C510.3,555.0 507.8,595.0 514.0,610.0 C520.2,625.0 539.8,693.3 545.0,610.0 C550.2,526.7 551.5,190.8 545.0,110.0 Z" fill="#08f0e0"/>
<path d="M66.0,330.0 C69.0,285.8 78.0,330.0 82.0,345.0 C86.0,360.0 89.3,394.2 90.0,420.0 C90.7,445.8 87.7,468.3 86.0,500.0 C84.3,531.7 83.7,591.7 80.0,610.0 C76.3,628.3 66.3,656.7 64.0,610.0 C61.7,563.3 63.0,374.2 66.0,330.0 Z" fill="#08ee78"/>
<path d="M528.0,250.0 C525.0,192.5 515.7,243.3 512.0,265.0 C508.3,286.7 506.3,340.8 506.0,380.0 C505.7,419.2 508.3,461.7 510.0,500.0 C511.7,538.3 512.7,591.7 516.0,610.0 C519.3,628.3 528.0,670.0 530.0,610.0 C532.0,550.0 531.0,307.5 528.0,250.0 Z" fill="#08ee78"/>
<path d="M226.0,88.0 C222.3,91.3 218.3,116.3 214.0,130.0 C209.7,143.7 204.0,155.0 200.0,170.0 C196.0,185.0 192.7,198.3 190.0,220.0 C187.3,241.7 185.7,270.0 184.0,300.0 C182.3,330.0 181.0,366.7 180.0,400.0 C179.0,433.3 177.3,468.3 178.0,500.0 C178.7,531.7 180.3,575.0 184.0,590.0 C187.7,605.0 194.7,605.0 200.0,590.0 C205.3,575.0 208.7,523.3 216.0,500.0 C223.3,476.7 235.0,465.0 244.0,450.0 C253.0,435.0 261.3,418.3 270.0,410.0 C278.7,401.7 287.3,399.7 296.0,400.0 C304.7,400.3 313.8,403.7 322.0,412.0 C330.2,420.3 334.7,435.3 345.0,450.0 C355.3,464.7 374.8,476.7 384.0,500.0 C393.2,523.3 395.0,575.0 400.0,590.0 C405.0,605.0 410.7,605.0 414.0,590.0 C417.3,575.0 419.7,531.7 420.0,500.0 C420.3,468.3 417.7,433.3 416.0,400.0 C414.3,366.7 412.7,331.7 410.0,300.0 C407.3,268.3 404.0,233.3 400.0,210.0 C396.0,186.7 390.7,173.7 386.0,160.0 C381.3,146.3 376.3,128.0 372.0,128.0 C367.7,128.0 364.3,148.0 360.0,160.0 C355.7,172.0 351.7,185.0 346.0,200.0 C340.3,215.0 332.3,235.8 326.0,250.0 C319.7,264.2 313.0,276.7 308.0,285.0 C303.0,293.3 300.0,300.0 296.0,300.0 C292.0,300.0 288.7,293.3 284.0,285.0 C279.3,276.7 273.0,264.2 268.0,250.0 C263.0,235.8 258.0,216.7 254.0,200.0 C250.0,183.3 247.0,165.0 244.0,150.0 C241.0,135.0 239.0,120.3 236.0,110.0 C233.0,99.7 229.7,84.7 226.0,88.0 Z" fill="#0fbafa"/>
<circle cx="275.7" cy="290.5" r="2.9" fill="#0a5cf5"/><circle cx="324.8" cy="230.9" r="3.9" fill="#0a5cf5"/><circle cx="333.7" cy="267.4" r="4.9" fill="#0a5cf5"/><circle cx="317.2" cy="300.6" r="4.1" fill="#0a5cf5"/><circle cx="304.8" cy="259.2" r="5.0" fill="#0a5cf5"/><circle cx="289.3" cy="396.4" r="4.6" fill="#0a5cf5"/><circle cx="257.4" cy="236.8" r="3.7" fill="#0a5cf5"/><circle cx="324.2" cy="219.1" r="4.0" fill="#0a5cf5"/><circle cx="286.2" cy="352.8" r="4.8" fill="#0a5cf5"/><circle cx="319.8" cy="222.5" r="4.4" fill="#0a5cf5"/><circle cx="292.2" cy="364.2" r="3.7" fill="#0a5cf5"/><circle cx="332.1" cy="397.0" r="4.6" fill="#0a5cf5"/><circle cx="325.2" cy="360.2" r="4.0" fill="#0a5cf5"/><circle cx="269.9" cy="397.0" r="3.7" fill="#0a5cf5"/><circle cx="256.4" cy="275.6" r="3.5" fill="#0a5cf5"/><circle cx="272.1" cy="391.3" r="2.8" fill="#0a5cf5"/><circle cx="331.9" cy="300.9" r="2.9" fill="#0a5cf5"/><circle cx="285.5" cy="279.1" r="2.8" fill="#0a5cf5"/><circle cx="319.9" cy="323.4" r="5.0" fill="#0a5cf5"/><circle cx="325.5" cy="352.9" r="5.0" fill="#0a5cf5"/><circle cx="334.2" cy="321.7" r="3.8" fill="#0a5cf5"/><circle cx="299.5" cy="359.0" r="4.8" fill="#0a5cf5"/><circle cx="325.6" cy="364.6" r="2.6" fill="#0a5cf5"/><circle cx="290.8" cy="199.2" r="4.0" fill="#0a5cf5"/><circle cx="304.3" cy="303.4" r="4.6" fill="#0a5cf5"/><circle cx="274.1" cy="340.3" r="4.0" fill="#0a5cf5"/><circle cx="273.1" cy="395.3" r="2.6" fill="#0a5cf5"/><circle cx="294.5" cy="297.8" r="4.0" fill="#0a5cf5"/><circle cx="338.5" cy="301.3" r="4.7" fill="#0a5cf5"/><circle cx="280.0" cy="285.9" r="2.9" fill="#0a5cf5"/><circle cx="309.4" cy="272.9" r="4.5" fill="#0a5cf5"/><circle cx="264.6" cy="282.1" r="4.9" fill="#0a5cf5"/><circle cx="256.0" cy="325.3" r="4.2" fill="#0a5cf5"/><circle cx="316.7" cy="302.6" r="3.8" fill="#0a5cf5"/><circle cx="336.6" cy="242.3" r="4.3" fill="#0a5cf5"/><circle cx="311.8" cy="340.2" r="3.7" fill="#0a5cf5"/><circle cx="256.4" cy="350.6" r="3.2" fill="#0a5cf5"/><circle cx="321.5" cy="397.2" r="4.4" fill="#0a5cf5"/><circle cx="289.2" cy="368.6" r="3.5" fill="#0a5cf5"/><circle cx="282.2" cy="305.6" r="4.1" fill="#0a5cf5"/>
<circle cx="342.6" cy="90.9" r="4.3" fill="#0fbafa"/><circle cx="288.2" cy="268.3" r="3.5" fill="#0fbafa"/><circle cx="336.1" cy="111.8" r="5.0" fill="#0fbafa"/><circle cx="280.4" cy="116.6" r="3.4" fill="#0fbafa"/><circle cx="304.4" cy="86.8" r="3.5" fill="#0fbafa"/><circle cx="236.2" cy="93.9" r="2.9" fill="#0fbafa"/><circle cx="260.4" cy="134.9" r="4.4" fill="#0fbafa"/><circle cx="280.8" cy="251.5" r="4.7" fill="#0fbafa"/><circle cx="333.5" cy="269.5" r="3.9" fill="#0fbafa"/><circle cx="308.8" cy="256.3" r="3.9" fill="#0fbafa"/><circle cx="250.7" cy="184.1" r="3.8" fill="#0fbafa"/><circle cx="254.8" cy="98.5" r="3.0" fill="#0fbafa"/><circle cx="311.7" cy="242.5" r="4.1" fill="#0fbafa"/><circle cx="281.9" cy="85.7" r="2.5" fill="#0fbafa"/><circle cx="307.0" cy="185.9" r="3.6" fill="#0fbafa"/><circle cx="253.9" cy="104.7" r="3.0" fill="#0fbafa"/><circle cx="249.1" cy="199.9" r="3.3" fill="#0fbafa"/><circle cx="296.0" cy="165.8" r="3.9" fill="#0fbafa"/><circle cx="316.9" cy="236.1" r="2.9" fill="#0fbafa"/><circle cx="340.6" cy="250.6" r="4.5" fill="#0fbafa"/><circle cx="284.8" cy="270.4" r="4.5" fill="#0fbafa"/><circle cx="261.3" cy="217.4" r="4.6" fill="#0fbafa"/><circle cx="317.8" cy="259.9" r="3.8" fill="#0fbafa"/><circle cx="308.8" cy="95.2" r="4.2" fill="#0fbafa"/><circle cx="251.1" cy="224.8" r="4.8" fill="#0fbafa"/><circle cx="275.9" cy="94.0" r="2.6" fill="#0fbafa"/><circle cx="291.8" cy="111.2" r="4.3" fill="#0fbafa"/><circle cx="302.1" cy="180.0" r="4.2" fill="#0fbafa"/><circle cx="251.6" cy="171.7" r="2.6" fill="#0fbafa"/><circle cx="295.2" cy="238.7" r="2.9" fill="#0fbafa"/>
<circle cx="305.5" cy="424.5" r="3.6" fill="#0fbafa"/><circle cx="314.0" cy="426.8" r="3.8" fill="#0fbafa"/><circle cx="316.0" cy="416.4" r="4.6" fill="#0fbafa"/><circle cx="253.3" cy="388.5" r="5.0" fill="#0fbafa"/><circle cx="317.2" cy="393.0" r="4.4" fill="#0fbafa"/><circle cx="265.2" cy="398.0" r="3.6" fill="#0fbafa"/><circle cx="270.6" cy="386.9" r="3.8" fill="#0fbafa"/><circle cx="308.2" cy="395.9" r="4.2" fill="#0fbafa"/><circle cx="338.4" cy="382.8" r="3.2" fill="#0fbafa"/><circle cx="258.1" cy="413.9" r="3.5" fill="#0fbafa"/><circle cx="289.5" cy="392.4" r="4.4" fill="#0fbafa"/><circle cx="318.3" cy="402.4" r="4.6" fill="#0fbafa"/><circle cx="270.8" cy="397.2" r="4.9" fill="#0fbafa"/><circle cx="270.5" cy="387.2" r="2.6" fill="#0fbafa"/><circle cx="310.5" cy="421.0" r="2.6" fill="#0fbafa"/><circle cx="293.0" cy="399.8" r="3.3" fill="#0fbafa"/><circle cx="271.1" cy="399.2" r="2.9" fill="#0fbafa"/><circle cx="333.0" cy="390.0" r="3.8" fill="#0fbafa"/><circle cx="307.7" cy="412.9" r="3.7" fill="#0fbafa"/><circle cx="297.1" cy="426.8" r="2.9" fill="#0fbafa"/><circle cx="268.1" cy="395.1" r="4.4" fill="#0fbafa"/><circle cx="288.1" cy="399.5" r="2.7" fill="#0fbafa"/><circle cx="261.4" cy="412.6" r="3.1" fill="#0fbafa"/><circle cx="291.4" cy="391.9" r="3.3" fill="#0fbafa"/><circle cx="267.2" cy="425.4" r="4.1" fill="#0fbafa"/>
<path d="M204.0,290.0 C200.0,299.0 195.3,328.3 192.0,350.0 C188.7,371.7 186.0,395.0 184.0,420.0 C182.0,445.0 180.0,471.7 180.0,500.0 C180.0,528.3 180.7,575.0 184.0,590.0 C187.3,605.0 196.0,605.0 200.0,590.0 C204.0,575.0 204.7,528.3 208.0,500.0 C211.3,471.7 217.3,445.0 220.0,420.0 C222.7,395.0 224.7,370.7 224.0,350.0 C223.3,329.3 219.3,306.0 216.0,296.0 C212.7,286.0 208.0,281.0 204.0,290.0 Z" fill="#08f0e0"/>
<path d="M384.0,290.0 C380.7,299.0 373.3,328.3 372.0,350.0 C370.7,371.7 373.3,395.0 376.0,420.0 C378.7,445.0 384.0,471.7 388.0,500.0 C392.0,528.3 395.7,575.0 400.0,590.0 C404.3,605.0 411.3,605.0 414.0,590.0 C416.7,575.0 417.0,528.3 416.0,500.0 C415.0,471.7 410.7,445.0 408.0,420.0 C405.3,395.0 402.7,370.7 400.0,350.0 C397.3,329.3 394.7,306.0 392.0,296.0 C389.3,286.0 387.3,281.0 384.0,290.0 Z" fill="#08f0e0"/>
<path d="M196.0,400.0 C192.7,410.8 188.0,448.3 186.0,470.0 C184.0,491.7 183.8,510.0 184.0,530.0 C184.2,550.0 184.7,580.0 187.0,590.0 C189.3,600.0 195.5,600.0 198.0,590.0 C200.5,580.0 200.7,550.0 202.0,530.0 C203.3,510.0 205.3,490.8 206.0,470.0 C206.7,449.2 207.7,416.7 206.0,405.0 C204.3,393.3 199.3,389.2 196.0,400.0 Z" fill="#08ee78"/>
<path d="M384.0,400.0 C382.3,410.8 384.0,448.3 386.0,470.0 C388.0,491.7 393.3,510.0 396.0,530.0 C398.7,550.0 399.3,580.0 402.0,590.0 C404.7,600.0 410.3,600.0 412.0,590.0 C413.7,580.0 413.3,550.0 412.0,530.0 C410.7,510.0 406.7,490.8 404.0,470.0 C401.3,449.2 399.3,416.7 396.0,405.0 C392.7,393.3 385.7,389.2 384.0,400.0 Z" fill="#08ee78"/>
<ellipse cx="296" cy="576" rx="26" ry="8" fill="#0fbafa"/>
</g>
<g transform="translate(150,342) scale(0.20000)" filter="url(#b2)">
<path d="M68.0,400.0 C70.7,366.7 79.3,393.3 82.0,410.0 C84.7,426.7 84.5,466.7 84.0,500.0 C83.5,533.3 82.0,591.7 79.0,610.0 C76.0,628.3 67.8,645.0 66.0,610.0 C64.2,575.0 65.3,433.3 68.0,400.0 Z" fill="#70f010"/>
<path d="M528.0,400.0 C525.3,367.5 516.3,398.3 514.0,415.0 C511.7,431.7 513.3,467.5 514.0,500.0 C514.7,532.5 515.3,591.7 518.0,610.0 C520.7,628.3 528.3,645.0 530.0,610.0 C531.7,575.0 530.7,432.5 528.0,400.0 Z" fill="#70f010"/>
<path d="M74.0,480.0 L73.0,595.0" fill="none" stroke="#ffc808" stroke-width="7" stroke-linecap="butt" stroke-linejoin="round"/>
<path d="M521.0,480.0 L522.0,595.0" fill="none" stroke="#ffc808" stroke-width="6" stroke-linecap="butt" stroke-linejoin="round"/>
<path d="M73.0,545.0 L73.0,595.0" fill="none" stroke="#f80808" stroke-width="6" stroke-linecap="butt" stroke-linejoin="round"/>
<path d="M522.0,555.0 L522.0,595.0" fill="none" stroke="#f80808" stroke-width="5" stroke-linecap="butt" stroke-linejoin="round"/>
<path d="M193.0,450.0 C192.3,461.7 189.5,496.7 189.0,520.0 C188.5,543.3 189.8,578.3 190.0,590.0" fill="none" stroke="#70f010" stroke-width="7" stroke-linecap="round" stroke-linejoin="round"/>
<path d="M394.0,450.0 C395.3,461.7 400.0,496.7 402.0,520.0 C404.0,543.3 405.3,578.3 406.0,590.0" fill="none" stroke="#70f010" stroke-width="7" stroke-linecap="round" stroke-linejoin="round"/>
<path d="M190.0,500.0 L190.0,590.0" fill="none" stroke="#ffc808" stroke-width="5" stroke-linecap="round" stroke-linejoin="round"/>
<path d="M402.0,500.0 L406.0,590.0" fill="none" stroke="#ffc808" stroke-width="5" stroke-linecap="round" stroke-linejoin="round"/>
<path d="M189.0,530.0 L190.0,592.0" fill="none" stroke="#f80808" stroke-width="6" stroke-linecap="round" stroke-linejoin="round"/>
<path d="M405.0,535.0 L406.0,592.0" fill="none" stroke="#f80808" stroke-width="6" stroke-linecap="round" stroke-linejoin="round"/>
<path d="M72.0,590.0 L190.0,590.0" fill="none" stroke="#ffc808" stroke-width="4" stroke-linecap="butt" stroke-linejoin="round"/>
<path d="M406.0,591.0 L525.0,591.0" fill="none" stroke="#ffc808" stroke-width="4" stroke-linecap="butt" stroke-linejoin="round"/>
<path d="M72.0,593.0 L190.0,593.0" fill="none" stroke="#f80808" stroke-width="4" stroke-linecap="butt" stroke-linejoin="round"/>
<path d="M406.0,594.0 L525.0,594.0" fill="none" stroke="#f80808" stroke-width="4" stroke-linecap="butt" stroke-linejoin="round"/>
<ellipse cx="148" cy="586" rx="9" ry="8" fill="#f80808"/>
<ellipse cx="148" cy="588" rx="3" ry="3" fill="#ffc808"/>
</g>
</g>
<rect x="162.2" y="346.2" width="94.4" height="115.2" fill="none" stroke="#2a2a2a" stroke-width="0.7"/>
<line x1="166.5" x2="166.5" y1="459.4" y2="461.4" stroke="#222" stroke-width="0.5"/>
<line x1="166.5" x2="166.5" y1="348.2" y2="346.2" stroke="#222" stroke-width="0.5"/>
<text class="k" text-anchor="middle" x="166.5" y="466.6">-1</text>
<line x1="177.2" x2="177.2" y1="459.4" y2="461.4" stroke="#222" stroke-width="0.5"/>
<line x1="177.2" x2="177.2" y1="348.2" y2="346.2" stroke="#222" stroke-width="0.5"/>
<text class="k" text-anchor="middle" x="177.2" y="466.6">-0.75</text>
<line x1="188.0" x2="188.0" y1="459.4" y2="461.4" stroke="#222" stroke-width="0.5"/>
<line x1="188.0" x2="188.0" y1="348.2" y2="346.2" stroke="#222" stroke-width="0.5"/>
<text class="k" text-anchor="middle" x="188.0" y="466.6">-0.5</text>
<line x1="198.8" x2="198.8" y1="459.4" y2="461.4" stroke="#222" stroke-width="0.5"/>
<line x1="198.8" x2="198.8" y1="348.2" y2="346.2" stroke="#222" stroke-width="0.5"/>
<text class="k" text-anchor="middle" x="198.8" y="466.6">-0.25</text>
<line x1="209.5" x2="209.5" y1="459.4" y2="461.4" stroke="#222" stroke-width="0.5"/>
<line x1="209.5" x2="209.5" y1="348.2" y2="346.2" stroke="#222" stroke-width="0.5"/>
<text class="k" text-anchor="middle" x="209.5" y="466.6">0</text>
<line x1="220.2" x2="220.2" y1="459.4" y2="461.4" stroke="#222" stroke-width="0.5"/>
<line x1="220.2" x2="220.2" y1="348.2" y2="346.2" stroke="#222" stroke-width="0.5"/>
<text class="k" text-anchor="middle" x="220.2" y="466.6">0.25</text>
<line x1="231.0" x2="231.0" y1="459.4" y2="461.4" stroke="#222" stroke-width="0.5"/>
<line x1="231.0" x2="231.0" y1="348.2" y2="346.2" stroke="#222" stroke-width="0.5"/>
<text class="k" text-anchor="middle" x="231.0" y="466.6">0.5</text>
<line x1="241.8" x2="241.8" y1="459.4" y2="461.4" stroke="#222" stroke-width="0.5"/>
<line x1="241.8" x2="241.8" y1="348.2" y2="346.2" stroke="#222" stroke-width="0.5"/>
<text class="k" text-anchor="middle" x="241.8" y="466.6">0.75</text>
<line x1="252.5" x2="252.5" y1="459.4" y2="461.4" stroke="#222" stroke-width="0.5"/>
<line x1="252.5" x2="252.5" y1="348.2" y2="346.2" stroke="#222" stroke-width="0.5"/>
<text class="k" text-anchor="middle" x="252.5" y="466.6">1</text>
<line x1="162.2" x2="164.2" y1="461.4" y2="461.4" stroke="#222" stroke-width="0.5"/>
<line x1="256.6" x2="254.6" y1="461.4" y2="461.4" stroke="#222" stroke-width="0.5"/>
<text class="k" text-anchor="end" x="161.4" y="463.0">0</text>
<line x1="162.2" x2="164.2" y1="446.6" y2="446.6" stroke="#222" stroke-width="0.5"/>
<line x1="256.6" x2="254.6" y1="446.6" y2="446.6" stroke="#222" stroke-width="0.5"/>
<text class="k" text-anchor="end" x="161.4" y="448.2">0.25</text>
<line x1="162.2" x2="164.2" y1="431.8" y2="431.8" stroke="#222" stroke-width="0.5"/>
<line x1="256.6" x2="254.6" y1="431.8" y2="431.8" stroke="#222" stroke-width="0.5"/>
<text class="k" text-anchor="end" x="161.4" y="433.4">0.5</text>
<line x1="162.2" x2="164.2" y1="417.1" y2="417.1" stroke="#222" stroke-width="0.5"/>
<line x1="256.6" x2="254.6" y1="417.1" y2="417.1" stroke="#222" stroke-width="0.5"/>
<text class="k" text-anchor="end" x="161.4" y="418.7">0.75</text>
<line x1="162.2" x2="164.2" y1="402.3" y2="402.3" stroke="#222" stroke-width="0.5"/>
<line x1="256.6" x2="254.6" y1="402.3" y2="402.3" stroke="#222" stroke-width="0.5"/>
<text class="k" text-anchor="end" x="161.4" y="403.9">1</text>
<line x1="162.2" x2="164.2" y1="387.5" y2="387.5" stroke="#222" stroke-width="0.5"/>
<line x1="256.6" x2="254.6" y1="387.5" y2="387.5" stroke="#222" stroke-width="0.5"/>
<text class="k" text-anchor="end" x="161.4" y="389.1">1.25</text>
<line x1="162.2" x2="164.2" y1="372.7" y2="372.7" stroke="#222" stroke-width="0.5"/>
<line x1="256.6" x2="254.6" y1="372.7" y2="372.7" stroke="#222" stroke-width="0.5"/>
<text class="k" text-anchor="end" x="161.4" y="374.3">1.5</text>
<line x1="162.2" x2="164.2" y1="357.9" y2="357.9" stroke="#222" stroke-width="0.5"/>
<line x1="256.6" x2="254.6" y1="357.9" y2="357.9" stroke="#222" stroke-width="0.5"/>
<text class="k" text-anchor="end" x="161.4" y="359.5">1.75</text>
<text class="a" text-anchor="middle" x="209.5" y="471.2">r/Db</text>
<text class="a" text-anchor="middle" transform="translate(155.8,404.1) rotate(-90)">y/Db</text>
<rect x="409.3" y="16.4" width="125.8" height="149.8" fill="#fff" stroke="#d2d2d2" stroke-width="1"/><line x1="409.3" x2="535.1" y1="28.4" y2="28.4" stroke="#d2d2d2" stroke-width="1"/><text class="t" x="409.5" y="26.8">D-BR0.48-RIM1</text>
<clipPath id="c30"><rect x="425.4" y="37.2" width="94.7" height="115.0"/></clipPath>
<g clip-path="url(#c30)">
<rect x="424.4" y="36.2" width="96.7" height="117.0" fill="#0fbafa"/>
<g transform="translate(415,30) scale(0.20000)" filter="url(#bl)">
<path d="M40.0,30.0 C53.3,-63.3 98.3,30.0 120.0,30.0 C141.7,30.0 152.0,30.0 170.0,30.0 C188.0,30.0 218.7,18.3 228.0,30.0 C237.3,41.7 228.3,71.7 226.0,100.0 C223.7,128.3 220.7,166.7 214.0,200.0 C207.3,233.3 194.3,266.7 186.0,300.0 C177.7,333.3 170.0,366.7 164.0,400.0 C158.0,433.3 154.0,468.3 150.0,500.0 C146.0,531.7 158.3,575.0 140.0,590.0 C121.7,605.0 56.7,683.3 40.0,590.0 C23.3,496.7 26.7,123.3 40.0,30.0 Z" fill="#08f0e0"/>
<path d="M338.0,30.0 C348.0,18.3 383.0,20.0 400.0,30.0 C417.0,40.0 428.3,65.0 440.0,90.0 C451.7,115.0 460.0,151.7 470.0,180.0 C480.0,208.3 489.2,240.0 500.0,260.0 C510.8,280.0 529.2,245.0 535.0,300.0 C540.8,355.0 550.0,541.7 535.0,590.0 C520.0,638.3 462.5,605.0 445.0,590.0 C427.5,575.0 437.5,531.7 430.0,500.0 C422.5,468.3 407.7,433.3 400.0,400.0 C392.3,366.7 391.3,333.3 384.0,300.0 C376.7,266.7 363.3,233.3 356.0,200.0 C348.7,166.7 343.0,128.3 340.0,100.0 C337.0,71.7 328.0,41.7 338.0,30.0 Z" fill="#08f0e0"/>
<path d="M96.0,30.0 C99.0,11.7 116.7,15.0 122.0,30.0 C127.3,45.0 128.3,93.3 128.0,120.0 C127.7,146.7 124.0,186.7 120.0,190.0 C116.0,193.3 108.0,166.7 104.0,140.0 C100.0,113.3 93.0,48.3 96.0,30.0 Z" fill="#0fbafa"/>
<path d="M40.0,260.0 C43.3,236.7 57.3,256.7 60.0,280.0 C62.7,303.3 59.3,376.7 56.0,400.0 C52.7,423.3 42.7,443.3 40.0,420.0 C37.3,396.7 36.7,283.3 40.0,260.0 Z" fill="#08ee78"/>
<path d="M120.0,30.0 C121.0,18.3 132.0,18.3 136.0,30.0 C140.0,41.7 143.3,81.7 144.0,100.0 C144.7,118.3 142.3,140.0 140.0,140.0 C137.7,140.0 133.3,118.3 130.0,100.0 C126.7,81.7 119.0,41.7 120.0,30.0 Z" fill="#0a5cf5"/>
<path d="M60.0,430.0 C67.3,430.0 78.7,425.0 84.0,440.0 C89.3,455.0 90.0,495.0 92.0,520.0 C94.0,545.0 104.7,578.3 96.0,590.0 C87.3,601.7 49.3,615.0 40.0,590.0 C30.7,565.0 36.7,466.7 40.0,440.0 C43.3,413.3 52.7,430.0 60.0,430.0 Z" fill="#0fbafa"/>
<path d="M40.0,530.0 C45.0,520.8 62.7,530.0 70.0,535.0 C77.3,540.0 81.3,550.8 84.0,560.0 C86.7,569.2 93.3,585.0 86.0,590.0 C78.7,595.0 47.7,600.0 40.0,590.0 C32.3,580.0 35.0,539.2 40.0,530.0 Z" fill="#0a5cf5"/>
<path d="M452.0,30.0 C464.5,23.3 521.2,-3.3 535.0,30.0 C548.8,63.3 539.2,198.3 535.0,230.0 C530.8,261.7 516.8,230.0 510.0,220.0 C503.2,210.0 499.7,188.3 494.0,170.0 C488.3,151.7 481.7,126.7 476.0,110.0 C470.3,93.3 464.0,83.3 460.0,70.0 C456.0,56.7 439.5,36.7 452.0,30.0 Z" fill="#0a5cf5"/>
<circle cx="489.6" cy="129.1" r="4.5" fill="#0fbafa"/><circle cx="477.4" cy="91.4" r="4.2" fill="#0fbafa"/><circle cx="489.0" cy="97.5" r="3.5" fill="#0fbafa"/><circle cx="478.1" cy="66.8" r="4.1" fill="#0fbafa"/><circle cx="517.6" cy="150.2" r="4.1" fill="#0fbafa"/><circle cx="478.6" cy="109.4" r="2.9" fill="#0fbafa"/><circle cx="506.0" cy="87.4" r="3.2" fill="#0fbafa"/><circle cx="523.7" cy="94.5" r="4.9" fill="#0fbafa"/><circle cx="498.3" cy="161.8" r="4.1" fill="#0fbafa"/><circle cx="467.5" cy="154.1" r="3.1" fill="#0fbafa"/><circle cx="483.5" cy="60.9" r="2.6" fill="#0fbafa"/><circle cx="480.7" cy="42.3" r="3.5" fill="#0fbafa"/><circle cx="514.5" cy="199.8" r="3.6" fill="#0fbafa"/><circle cx="462.6" cy="95.4" r="2.7" fill="#0fbafa"/><circle cx="470.2" cy="139.4" r="4.0" fill="#0fbafa"/><circle cx="457.2" cy="118.0" r="3.6" fill="#0fbafa"/><circle cx="482.9" cy="61.6" r="3.5" fill="#0fbafa"/><circle cx="462.2" cy="149.8" r="4.1" fill="#0fbafa"/><circle cx="499.0" cy="105.2" r="4.9" fill="#0fbafa"/><circle cx="480.8" cy="72.6" r="3.4" fill="#0fbafa"/><circle cx="518.9" cy="65.3" r="4.4" fill="#0fbafa"/><circle cx="520.7" cy="176.3" r="3.7" fill="#0fbafa"/><circle cx="486.5" cy="179.4" r="4.3" fill="#0fbafa"/><circle cx="511.5" cy="68.5" r="4.0" fill="#0fbafa"/><circle cx="506.7" cy="78.1" r="3.0" fill="#0fbafa"/>
<path d="M500.0,240.0 C503.8,230.0 529.2,220.0 535.0,230.0 C540.8,240.0 538.8,290.0 535.0,300.0 C531.2,310.0 517.8,300.0 512.0,290.0 C506.2,280.0 496.2,250.0 500.0,240.0 Z" fill="#0fbafa"/>
<path d="M506.0,490.0 C511.2,472.5 530.2,464.2 535.0,480.0 C539.8,495.8 540.2,567.5 535.0,585.0 C529.8,602.5 508.8,600.8 504.0,585.0 C499.2,569.2 500.8,507.5 506.0,490.0 Z" fill="#0a5cf5"/>
<path d="M169.2,140.0 C164.5,146.7 151.1,165.0 143.0,180.0 C134.9,195.0 128.6,210.0 120.9,230.0 C113.2,250.0 103.8,271.7 97.0,300.0 C90.2,328.3 83.2,375.0 80.0,400.0 C76.8,425.0 78.0,433.3 78.0,450.0 C78.0,466.7 79.0,481.7 80.0,500.0 C81.0,518.3 82.3,543.3 84.0,560.0 C85.7,576.7 84.0,593.3 90.0,600.0 C96.0,606.7 115.0,606.7 120.0,600.0 C125.0,593.3 119.7,576.7 120.0,560.0 C120.3,543.3 121.0,518.3 122.0,500.0 C123.0,481.7 124.0,466.7 126.0,450.0 C128.0,433.3 129.5,425.0 134.0,400.0 C138.5,375.0 147.5,328.3 153.0,300.0 C158.5,271.7 163.6,250.0 166.9,230.0 C170.2,210.0 172.3,195.0 173.0,180.0 C173.7,165.0 171.8,146.7 171.2,140.0 C170.6,133.3 173.9,133.3 169.2,140.0 Z" fill="#08ee78"/>
<path d="M397.6,140.0 C397.1,146.7 395.5,165.0 396.6,180.0 C397.7,195.0 400.1,210.0 404.0,230.0 C407.9,250.0 412.8,271.7 420.0,300.0 C427.2,328.3 439.7,375.0 447.0,400.0 C454.3,425.0 460.2,433.3 464.0,450.0 C467.8,466.7 469.3,481.7 470.0,500.0 C470.7,518.3 468.8,543.3 468.0,560.0 C467.2,576.7 460.5,593.3 465.0,600.0 C469.5,606.7 488.5,606.7 495.0,600.0 C501.5,593.3 501.2,576.7 504.0,560.0 C506.8,543.3 510.7,518.3 512.0,500.0 C513.3,481.7 513.8,466.7 512.0,450.0 C510.2,433.3 507.0,425.0 501.0,400.0 C495.0,375.0 484.5,328.3 476.0,300.0 C467.5,271.7 458.2,250.0 450.0,230.0 C441.8,210.0 435.0,195.0 426.6,180.0 C418.2,165.0 404.4,146.7 399.6,140.0 C394.8,133.3 398.1,133.3 397.6,140.0 Z" fill="#08ee78"/>
<path d="M291.0,292.0 C305.5,284.8 319.0,285.8 335.0,288.0 C351.0,290.2 374.0,293.5 387.0,305.0 C400.0,316.5 408.0,339.7 413.0,357.0 C418.0,374.3 420.0,393.2 417.0,409.0 C414.0,424.8 404.3,440.5 395.0,452.0 C385.7,463.5 372.5,470.7 361.0,478.0 C349.5,485.3 337.7,490.2 326.0,496.0 C314.3,501.8 304.0,505.8 291.0,513.0 C278.0,520.2 261.0,531.8 248.0,539.0 C235.0,546.2 227.3,552.3 213.0,556.0 C198.7,559.7 175.7,563.2 162.0,561.0 C148.3,558.8 136.2,552.5 131.0,543.0 C125.8,533.5 127.3,517.7 131.0,504.0 C134.7,490.3 143.5,475.3 153.0,461.0 C162.5,446.7 178.0,432.5 188.0,418.0 C198.0,403.5 203.0,388.5 213.0,374.0 C223.0,359.5 235.0,344.7 248.0,331.0 C261.0,317.3 276.5,299.2 291.0,292.0 Z" fill="#0a5cf5"/>
<path d="M392.0,455.0 C390.0,443.3 401.7,442.5 408.0,450.0 C414.3,457.5 422.7,483.7 430.0,500.0 C437.3,516.3 449.3,537.7 452.0,548.0 C454.7,558.3 451.3,566.7 446.0,562.0 C440.7,557.3 429.0,537.8 420.0,520.0 C411.0,502.2 394.0,466.7 392.0,455.0 Z" fill="#0a5cf5"/>
<circle cx="400" cy="470" r="4" fill="#0a5cf5"/><circle cx="408" cy="483" r="4" fill="#0a5cf5"/><circle cx="416" cy="496" r="4" fill="#0a5cf5"/><circle cx="419" cy="502" r="4" fill="#0a5cf5"/><circle cx="427" cy="515" r="4" fill="#0a5cf5"/><circle cx="430" cy="521" r="4" fill="#0a5cf5"/><circle cx="438" cy="534" r="4" fill="#0a5cf5"/><circle cx="446" cy="540" r="4" fill="#0a5cf5"/><circle cx="449" cy="553" r="4" fill="#0a5cf5"/>
<circle cx="372" cy="470" r="3.5" fill="#0a5cf5"/><circle cx="379" cy="484" r="3.5" fill="#0a5cf5"/><circle cx="386" cy="492" r="3.5" fill="#0a5cf5"/><circle cx="393" cy="500" r="3.5" fill="#0a5cf5"/><circle cx="400" cy="508" r="3.5" fill="#0a5cf5"/><circle cx="407" cy="516" r="3.5" fill="#0a5cf5"/><circle cx="414" cy="524" r="3.5" fill="#0a5cf5"/><circle cx="421" cy="538" r="3.5" fill="#0a5cf5"/>
<circle cx="399.1" cy="348.4" r="4.9" fill="#0a5cf5"/><circle cx="199.1" cy="430.1" r="4.7" fill="#0a5cf5"/><circle cx="233.2" cy="442.3" r="2.9" fill="#0a5cf5"/><circle cx="408.7" cy="575.9" r="2.9" fill="#0a5cf5"/><circle cx="165.6" cy="432.3" r="3.8" fill="#0a5cf5"/><circle cx="354.8" cy="396.0" r="4.0" fill="#0a5cf5"/><circle cx="176.5" cy="359.5" r="2.7" fill="#0a5cf5"/><circle cx="288.3" cy="457.6" r="4.0" fill="#0a5cf5"/><circle cx="401.3" cy="385.8" r="3.4" fill="#0a5cf5"/><circle cx="264.3" cy="564.9" r="3.3" fill="#0a5cf5"/><circle cx="214.2" cy="419.5" r="4.2" fill="#0a5cf5"/><circle cx="211.1" cy="348.4" r="4.3" fill="#0a5cf5"/><circle cx="296.8" cy="462.2" r="2.5" fill="#0a5cf5"/><circle cx="202.3" cy="328.5" r="3.4" fill="#0a5cf5"/><circle cx="392.6" cy="576.9" r="4.6" fill="#0a5cf5"/><circle cx="237.2" cy="458.4" r="4.7" fill="#0a5cf5"/><circle cx="229.5" cy="411.7" r="4.3" fill="#0a5cf5"/><circle cx="229.4" cy="432.7" r="3.4" fill="#0a5cf5"/><circle cx="368.7" cy="445.2" r="2.7" fill="#0a5cf5"/><circle cx="134.6" cy="479.9" r="2.8" fill="#0a5cf5"/><circle cx="324.1" cy="362.2" r="3.8" fill="#0a5cf5"/><circle cx="229.5" cy="483.3" r="2.8" fill="#0a5cf5"/><circle cx="248.6" cy="483.9" r="3.1" fill="#0a5cf5"/><circle cx="417.5" cy="577.6" r="4.9" fill="#0a5cf5"/><circle cx="400.1" cy="563.6" r="3.9" fill="#0a5cf5"/><circle cx="372.9" cy="413.7" r="2.7" fill="#0a5cf5"/><circle cx="398.4" cy="557.4" r="3.1" fill="#0a5cf5"/><circle cx="238.9" cy="365.6" r="4.3" fill="#0a5cf5"/><circle cx="178.9" cy="527.8" r="2.6" fill="#0a5cf5"/><circle cx="246.9" cy="519.0" r="3.7" fill="#0a5cf5"/><circle cx="169.9" cy="308.4" r="4.2" fill="#0a5cf5"/><circle cx="151.9" cy="378.9" r="4.0" fill="#0a5cf5"/><circle cx="219.6" cy="310.3" r="4.5" fill="#0a5cf5"/><circle cx="339.6" cy="471.4" r="2.8" fill="#0a5cf5"/><circle cx="270.6" cy="570.0" r="3.8" fill="#0a5cf5"/>
<circle cx="293.5" cy="390.6" r="3.8" fill="#0fbafa"/><circle cx="301.7" cy="340.9" r="3.5" fill="#0fbafa"/><circle cx="215.8" cy="368.6" r="2.1" fill="#0fbafa"/><circle cx="331.9" cy="522.2" r="3.2" fill="#0fbafa"/><circle cx="246.7" cy="522.8" r="3.7" fill="#0fbafa"/><circle cx="268.9" cy="385.7" r="3.3" fill="#0fbafa"/><circle cx="404.3" cy="539.1" r="3.8" fill="#0fbafa"/><circle cx="350.3" cy="374.7" r="3.2" fill="#0fbafa"/><circle cx="289.9" cy="473.3" r="3.0" fill="#0fbafa"/><circle cx="243.3" cy="535.5" r="2.1" fill="#0fbafa"/><circle cx="271.7" cy="399.1" r="3.9" fill="#0fbafa"/><circle cx="224.7" cy="458.7" r="3.9" fill="#0fbafa"/><circle cx="328.4" cy="542.6" r="2.8" fill="#0fbafa"/><circle cx="291.9" cy="408.9" r="2.7" fill="#0fbafa"/><circle cx="273.0" cy="337.9" r="4.0" fill="#0fbafa"/><circle cx="354.1" cy="482.8" r="3.1" fill="#0fbafa"/><circle cx="242.1" cy="374.1" r="3.9" fill="#0fbafa"/><circle cx="373.0" cy="429.4" r="3.5" fill="#0fbafa"/><circle cx="401.3" cy="330.1" r="2.7" fill="#0fbafa"/><circle cx="284.5" cy="401.8" r="3.1" fill="#0fbafa"/>
<path d="M230.0,570.0 C246.7,563.7 275.0,560.0 300.0,560.0 C325.0,560.0 356.7,565.0 380.0,570.0 C403.3,575.0 453.3,585.0 440.0,590.0 C426.7,595.0 340.0,598.7 300.0,600.0 C260.0,601.3 211.7,603.0 200.0,598.0 C188.3,593.0 213.3,576.3 230.0,570.0 Z" fill="#08f0e0"/>
<circle cx="282.4" cy="178.6" r="4.2" fill="#08f0e0"/><circle cx="331.2" cy="43.7" r="6.0" fill="#08f0e0"/><circle cx="307.5" cy="216.9" r="5.4" fill="#08f0e0"/><circle cx="252.2" cy="220.3" r="5.0" fill="#08f0e0"/><circle cx="246.2" cy="229.5" r="4.3" fill="#08f0e0"/><circle cx="309.3" cy="58.4" r="5.0" fill="#08f0e0"/><circle cx="230.6" cy="54.0" r="3.3" fill="#08f0e0"/><circle cx="235.0" cy="169.6" r="3.7" fill="#08f0e0"/><circle cx="251.6" cy="219.3" r="5.3" fill="#08f0e0"/><circle cx="273.7" cy="87.0" r="5.2" fill="#08f0e0"/><circle cx="290.5" cy="118.9" r="3.9" fill="#08f0e0"/><circle cx="270.1" cy="147.1" r="3.5" fill="#08f0e0"/><circle cx="230.2" cy="142.4" r="3.6" fill="#08f0e0"/><circle cx="236.2" cy="101.8" r="5.0" fill="#08f0e0"/><circle cx="321.2" cy="46.5" r="5.4" fill="#08f0e0"/><circle cx="263.3" cy="228.6" r="5.7" fill="#08f0e0"/><circle cx="262.9" cy="181.2" r="4.7" fill="#08f0e0"/><circle cx="256.1" cy="251.7" r="5.0" fill="#08f0e0"/><circle cx="334.4" cy="72.7" r="3.8" fill="#08f0e0"/><circle cx="331.3" cy="106.1" r="4.1" fill="#08f0e0"/><circle cx="260.1" cy="221.9" r="3.9" fill="#08f0e0"/><circle cx="244.0" cy="64.4" r="5.8" fill="#08f0e0"/><circle cx="236.2" cy="77.2" r="4.0" fill="#08f0e0"/><circle cx="291.8" cy="223.3" r="5.9" fill="#08f0e0"/><circle cx="282.0" cy="188.2" r="4.0" fill="#08f0e0"/><circle cx="286.7" cy="48.2" r="5.2" fill="#08f0e0"/><circle cx="288.9" cy="187.9" r="5.5" fill="#08f0e0"/><circle cx="320.5" cy="255.9" r="5.2" fill="#08f0e0"/><circle cx="242.0" cy="112.2" r="4.9" fill="#08f0e0"/><circle cx="244.1" cy="126.0" r="4.2" fill="#08f0e0"/>
</g>
<g transform="translate(415,30) scale(0.20000)" filter="url(#b2)">
<path d="M54.0,300.0 L54.0,400.0" fill="none" stroke="#70f010" stroke-width="8" stroke-linecap="round" stroke-linejoin="round"/>
<path d="M140.2,240.0 C135.7,250.0 122.9,273.3 115.0,300.0 C107.1,326.7 97.5,375.0 93.0,400.0 C88.5,425.0 88.8,433.3 88.0,450.0 C87.2,466.7 87.5,481.7 88.0,500.0 C88.5,518.3 89.8,543.3 91.0,560.0 C92.2,576.7 91.0,593.3 95.0,600.0 C99.0,606.7 112.0,606.7 115.0,600.0 C118.0,593.3 113.2,576.7 113.0,560.0 C112.8,543.3 113.5,518.3 114.0,500.0 C114.5,481.7 114.8,466.7 116.0,450.0 C117.2,433.3 117.8,425.0 121.0,400.0 C124.2,375.0 131.5,326.7 135.0,300.0 C138.5,273.3 141.3,250.0 142.2,240.0 C143.1,230.0 144.7,230.0 140.2,240.0 Z" fill="#70f010"/>
<path d="M104.0,420.0 C102.3,425.0 97.9,440.0 96.0,450.0 C94.1,460.0 93.2,470.0 92.4,480.0 C91.6,490.0 91.4,496.7 91.2,510.0 C91.0,523.3 91.0,545.0 91.5,560.0 C92.0,575.0 89.9,593.3 94.0,600.0 C98.1,606.7 112.9,606.7 116.0,600.0 C119.1,593.3 113.3,575.0 112.5,560.0 C111.7,545.0 111.5,523.3 111.2,510.0 C110.9,496.7 110.9,490.0 110.4,480.0 C109.9,470.0 108.7,460.0 108.0,450.0 C107.3,440.0 106.7,425.0 106.0,420.0 C105.3,415.0 105.7,415.0 104.0,420.0 Z" fill="#ffc808"/>
<path d="M100.5,475.0 C99.3,478.3 96.7,487.5 95.6,495.0 C94.5,502.5 94.1,509.2 93.8,520.0 C93.5,530.8 93.1,546.7 93.5,560.0 C93.9,573.3 92.6,593.3 96.0,600.0 C99.4,606.7 111.6,606.7 114.0,600.0 C116.4,593.3 111.4,573.3 110.5,560.0 C109.6,546.7 109.5,530.8 108.8,520.0 C108.1,509.2 107.6,502.5 106.6,495.0 C105.5,487.5 103.5,478.3 102.5,475.0 C101.5,471.7 101.7,471.7 100.5,475.0 Z" fill="#ff6008"/>
<path d="M100.2,492.0 C99.3,495.0 97.6,502.8 96.7,510.0 C95.8,517.2 94.9,525.0 94.6,535.0 C94.3,545.0 94.5,559.2 94.8,570.0 C95.1,580.8 93.4,595.0 96.5,600.0 C99.6,605.0 111.1,605.0 113.5,600.0 C115.9,595.0 111.6,580.8 110.8,570.0 C110.0,559.2 109.4,545.0 108.6,535.0 C107.8,525.0 106.8,517.2 105.7,510.0 C104.6,502.8 103.1,495.0 102.2,492.0 C101.3,489.0 101.1,489.0 100.2,492.0 Z" fill="#f80808"/>
<path d="M429.0,240.0 C430.2,250.0 432.8,273.3 438.0,300.0 C443.2,326.7 454.0,375.0 460.0,400.0 C466.0,425.0 471.0,433.3 474.0,450.0 C477.0,466.7 477.8,481.7 478.0,500.0 C478.2,518.3 476.3,543.3 475.0,560.0 C473.7,576.7 467.5,593.3 470.0,600.0 C472.5,606.7 485.5,606.7 490.0,600.0 C494.5,593.3 494.7,576.7 497.0,560.0 C499.3,543.3 503.2,518.3 504.0,500.0 C504.8,481.7 504.7,466.7 502.0,450.0 C499.3,433.3 495.3,425.0 488.0,400.0 C480.7,375.0 467.5,326.7 458.0,300.0 C448.5,273.3 435.8,250.0 431.0,240.0 C426.2,230.0 427.8,230.0 429.0,240.0 Z" fill="#70f010"/>
<path d="M478.6,420.0 C478.8,425.0 481.6,440.0 482.0,450.0 C482.4,460.0 481.1,470.0 480.8,480.0 C480.5,490.0 481.1,496.7 480.2,510.0 C479.3,523.3 477.4,545.0 475.5,560.0 C473.6,575.0 466.4,593.3 469.0,600.0 C471.6,606.7 486.4,606.7 491.0,600.0 C495.6,593.3 495.0,575.0 496.5,560.0 C498.0,545.0 499.8,523.3 500.2,510.0 C500.6,496.7 499.8,490.0 498.8,480.0 C497.8,470.0 497.0,460.0 494.0,450.0 C491.0,440.0 483.2,425.0 480.6,420.0 C478.0,415.0 478.4,415.0 478.6,420.0 Z" fill="#ffc808"/>
<path d="M488.5,475.0 C487.6,478.3 486.3,487.5 485.2,495.0 C484.1,502.5 483.1,509.2 481.8,520.0 C480.5,530.8 479.3,546.7 477.5,560.0 C475.7,573.3 469.1,593.3 471.0,600.0 C472.9,606.7 485.1,606.7 489.0,600.0 C492.9,593.3 493.2,573.3 494.5,560.0 C495.8,546.7 496.5,530.8 496.8,520.0 C497.1,509.2 497.2,502.5 496.2,495.0 C495.1,487.5 491.8,478.3 490.5,475.0 C489.2,471.7 489.4,471.7 488.5,475.0 Z" fill="#ff6008"/>
<path d="M489.5,492.0 C488.5,495.0 487.1,502.8 485.7,510.0 C484.3,517.2 482.6,525.0 481.1,535.0 C479.6,545.0 478.1,559.2 476.5,570.0 C474.9,580.8 469.5,595.0 471.5,600.0 C473.5,605.0 485.0,605.0 488.5,600.0 C492.0,595.0 491.4,580.8 492.5,570.0 C493.6,559.2 494.7,545.0 495.1,535.0 C495.5,525.0 495.3,517.2 494.7,510.0 C494.1,502.8 492.4,495.0 491.5,492.0 C490.6,489.0 490.5,489.0 489.5,492.0 Z" fill="#f80808"/>
<path d="M52.0,603.0 L118.0,603.0" fill="none" stroke="#f80808" stroke-width="14" stroke-linecap="butt" stroke-linejoin="round"/>
<path d="M468.0,601.0 L525.0,601.0" fill="none" stroke="#f80808" stroke-width="17" stroke-linecap="butt" stroke-linejoin="round"/>
<path d="M118.0,607.0 L468.0,607.0" fill="none" stroke="#c02010" stroke-width="5" stroke-linecap="butt" stroke-linejoin="round"/>
</g>
</g>
<rect x="425.4" y="37.2" width="94.7" height="115.0" fill="none" stroke="#2a2a2a" stroke-width="0.7"/>
<line x1="438.9" x2="438.9" y1="150.2" y2="152.2" stroke="#222" stroke-width="0.5"/>
<line x1="438.9" x2="438.9" y1="39.2" y2="37.2" stroke="#222" stroke-width="0.5"/>
<text class="k" text-anchor="middle" x="438.9" y="157.4">-0.5</text>
<line x1="455.8" x2="455.8" y1="150.2" y2="152.2" stroke="#222" stroke-width="0.5"/>
<line x1="455.8" x2="455.8" y1="39.2" y2="37.2" stroke="#222" stroke-width="0.5"/>
<text class="k" text-anchor="middle" x="455.8" y="157.4">-0.25</text>
<line x1="472.7" x2="472.7" y1="150.2" y2="152.2" stroke="#222" stroke-width="0.5"/>
<line x1="472.7" x2="472.7" y1="39.2" y2="37.2" stroke="#222" stroke-width="0.5"/>
<text class="k" text-anchor="middle" x="472.7" y="157.4">0</text>
<line x1="489.6" x2="489.6" y1="150.2" y2="152.2" stroke="#222" stroke-width="0.5"/>
<line x1="489.6" x2="489.6" y1="39.2" y2="37.2" stroke="#222" stroke-width="0.5"/>
<text class="k" text-anchor="middle" x="489.6" y="157.4">0.25</text>
<line x1="506.5" x2="506.5" y1="150.2" y2="152.2" stroke="#222" stroke-width="0.5"/>
<line x1="506.5" x2="506.5" y1="39.2" y2="37.2" stroke="#222" stroke-width="0.5"/>
<text class="k" text-anchor="middle" x="506.5" y="157.4">0.5</text>
<line x1="425.4" x2="427.4" y1="152.2" y2="152.2" stroke="#222" stroke-width="0.5"/>
<line x1="520.1" x2="518.1" y1="152.2" y2="152.2" stroke="#222" stroke-width="0.5"/>
<text class="k" text-anchor="end" x="424.6" y="153.8">0</text>
<line x1="425.4" x2="427.4" y1="130.9" y2="130.9" stroke="#222" stroke-width="0.5"/>
<line x1="520.1" x2="518.1" y1="130.9" y2="130.9" stroke="#222" stroke-width="0.5"/>
<text class="k" text-anchor="end" x="424.6" y="132.5">0.25</text>
<line x1="425.4" x2="427.4" y1="109.6" y2="109.6" stroke="#222" stroke-width="0.5"/>
<line x1="520.1" x2="518.1" y1="109.6" y2="109.6" stroke="#222" stroke-width="0.5"/>
<text class="k" text-anchor="end" x="424.6" y="111.2">0.5</text>
<line x1="425.4" x2="427.4" y1="88.3" y2="88.3" stroke="#222" stroke-width="0.5"/>
<line x1="520.1" x2="518.1" y1="88.3" y2="88.3" stroke="#222" stroke-width="0.5"/>
<text class="k" text-anchor="end" x="424.6" y="89.9">0.75</text>
<line x1="425.4" x2="427.4" y1="67.0" y2="67.0" stroke="#222" stroke-width="0.5"/>
<line x1="520.1" x2="518.1" y1="67.0" y2="67.0" stroke="#222" stroke-width="0.5"/>
<text class="k" text-anchor="end" x="424.6" y="68.6">1</text>
<line x1="425.4" x2="427.4" y1="45.7" y2="45.7" stroke="#222" stroke-width="0.5"/>
<line x1="520.1" x2="518.1" y1="45.7" y2="45.7" stroke="#222" stroke-width="0.5"/>
<text class="k" text-anchor="end" x="424.6" y="47.3">1.25</text>
<text class="a" text-anchor="middle" x="472.7" y="162.0">r/Db</text>
<text class="a" text-anchor="middle" transform="translate(419.0,96.8) rotate(-90)">y/Db</text>
<rect x="277.5" y="172.3" width="126.2" height="148.5" fill="#fff" stroke="#d2d2d2" stroke-width="1"/><line x1="277.5" x2="403.7" y1="184.0" y2="184.0" stroke="#d2d2d2" stroke-width="1"/><text class="t" x="277.7" y="182.4">C-BR0.48-RIM2</text>
<clipPath id="c21"><rect x="294.3" y="192.7" width="93.7" height="114.7"/></clipPath>
<g clip-path="url(#c21)">
<rect x="293.3" y="191.7" width="95.7" height="116.7" fill="#0fbafa"/>
<g transform="translate(283,186) scale(0.20000)" filter="url(#bl)">
<path d="M140.0,25.0 C155.0,12.5 194.0,12.5 202.0,25.0 C210.0,37.5 194.0,70.8 188.0,100.0 C182.0,129.2 173.7,166.7 166.0,200.0 C158.3,233.3 148.3,266.7 142.0,300.0 C135.7,333.3 131.0,366.7 128.0,400.0 C125.0,433.3 122.7,466.7 124.0,500.0 C125.3,533.3 149.2,583.3 136.0,600.0 C122.8,616.7 60.2,630.0 45.0,600.0 C29.8,570.0 42.8,453.3 45.0,420.0 C47.2,386.7 54.5,420.0 58.0,400.0 C61.5,380.0 61.7,333.3 66.0,300.0 C70.3,266.7 76.3,233.3 84.0,200.0 C91.7,166.7 102.7,129.2 112.0,100.0 C121.3,70.8 125.0,37.5 140.0,25.0 Z" fill="#08f0e0"/>
<path d="M384.0,25.0 C395.7,12.5 453.3,12.5 470.0,25.0 C486.7,37.5 478.3,70.8 484.0,100.0 C489.7,129.2 498.0,166.7 504.0,200.0 C510.0,233.3 514.8,270.0 520.0,300.0 C525.2,330.0 532.5,330.0 535.0,380.0 C537.5,430.0 547.2,563.3 535.0,600.0 C522.8,636.7 472.5,616.7 462.0,600.0 C451.5,583.3 470.7,533.3 472.0,500.0 C473.3,466.7 472.7,433.3 470.0,400.0 C467.3,366.7 462.7,333.3 456.0,300.0 C449.3,266.7 439.3,233.3 430.0,200.0 C420.7,166.7 407.7,129.2 400.0,100.0 C392.3,70.8 372.3,37.5 384.0,25.0 Z" fill="#08f0e0"/>
<path d="M84.0,25.0 C90.0,19.2 119.7,15.8 126.0,25.0 C132.3,34.2 125.3,61.7 122.0,80.0 C118.7,98.3 110.0,131.7 106.0,135.0 C102.0,138.3 100.7,112.5 98.0,100.0 C95.3,87.5 92.3,72.5 90.0,60.0 C87.7,47.5 78.0,30.8 84.0,25.0 Z" fill="#0a5cf5"/>
<path d="M472.0,25.0 C480.8,17.5 524.5,14.2 535.0,25.0 C545.5,35.8 538.8,75.8 535.0,90.0 C531.2,104.2 518.5,106.7 512.0,110.0 C505.5,113.3 501.0,116.7 496.0,110.0 C491.0,103.3 486.0,84.2 482.0,70.0 C478.0,55.8 463.2,32.5 472.0,25.0 Z" fill="#0a5cf5"/>
<circle cx="487.8" cy="83.4" r="3.0" fill="#0fbafa"/><circle cx="524.1" cy="97.6" r="5.0" fill="#0fbafa"/><circle cx="484.5" cy="54.0" r="3.1" fill="#0fbafa"/><circle cx="480.7" cy="41.7" r="4.4" fill="#0fbafa"/><circle cx="490.1" cy="97.1" r="4.5" fill="#0fbafa"/><circle cx="489.2" cy="51.7" r="3.7" fill="#0fbafa"/><circle cx="471.7" cy="85.4" r="3.4" fill="#0fbafa"/><circle cx="478.2" cy="102.2" r="3.9" fill="#0fbafa"/><circle cx="522.0" cy="108.6" r="4.3" fill="#0fbafa"/><circle cx="483.7" cy="50.3" r="3.5" fill="#0fbafa"/><circle cx="510.5" cy="75.8" r="3.6" fill="#0fbafa"/><circle cx="471.0" cy="64.6" r="3.8" fill="#0fbafa"/><circle cx="473.8" cy="57.5" r="3.6" fill="#0fbafa"/><circle cx="492.9" cy="74.6" r="4.1" fill="#0fbafa"/>
<path d="M156.5,55.0 C153.2,59.2 146.6,62.5 139.0,80.0 C131.4,97.5 119.5,133.3 111.0,160.0 C102.5,186.7 94.5,213.3 88.0,240.0 C81.5,266.7 76.0,293.3 72.0,320.0 C68.0,346.7 64.7,376.7 64.0,400.0 C63.3,423.3 65.5,441.7 68.0,460.0 C70.5,478.3 74.7,493.3 79.0,510.0 C83.3,526.7 89.3,545.0 94.0,560.0 C98.7,575.0 100.5,593.3 107.0,600.0 C113.5,606.7 129.8,606.7 133.0,600.0 C136.2,593.3 128.3,575.0 126.0,560.0 C123.7,545.0 121.0,526.7 119.0,510.0 C117.0,493.3 115.2,478.3 114.0,460.0 C112.8,441.7 111.3,423.3 112.0,400.0 C112.7,376.7 115.3,346.7 118.0,320.0 C120.7,293.3 123.5,266.7 128.0,240.0 C132.5,213.3 139.5,186.7 145.0,160.0 C150.5,133.3 158.8,97.5 161.0,80.0 C163.2,62.5 159.2,59.2 158.5,55.0 C157.8,50.8 159.8,50.8 156.5,55.0 Z" fill="#08ee78"/>
<path d="M427.0,55.0 C426.3,59.2 422.7,62.5 425.0,80.0 C427.3,97.5 435.5,133.3 441.0,160.0 C446.5,186.7 453.0,213.3 458.0,240.0 C463.0,266.7 467.3,293.3 471.0,320.0 C474.7,346.7 478.3,376.7 480.0,400.0 C481.7,423.3 481.5,441.7 481.0,460.0 C480.5,478.3 479.5,493.3 477.0,510.0 C474.5,526.7 469.8,545.0 466.0,560.0 C462.2,575.0 451.7,593.3 454.0,600.0 C456.3,606.7 472.7,606.7 480.0,600.0 C487.3,593.3 491.8,575.0 498.0,560.0 C504.2,545.0 512.2,526.7 517.0,510.0 C521.8,493.3 525.2,478.3 527.0,460.0 C528.8,441.7 529.7,423.3 528.0,400.0 C526.3,376.7 522.0,346.7 517.0,320.0 C512.0,293.3 505.0,266.7 498.0,240.0 C491.0,213.3 483.5,186.7 475.0,160.0 C466.5,133.3 454.7,97.5 447.0,80.0 C439.3,62.5 432.3,59.2 429.0,55.0 C425.7,50.8 427.7,50.8 427.0,55.0 Z" fill="#08ee78"/>
<path d="M258.0,232.0 C270.5,222.8 279.7,220.8 290.0,218.0 C300.3,215.2 309.7,214.7 320.0,215.0 C330.3,215.3 342.0,217.2 352.0,220.0 C362.0,222.8 371.7,225.0 380.0,232.0 C388.3,239.0 396.3,250.7 402.0,262.0 C407.7,273.3 410.5,282.3 414.0,300.0 C417.5,317.7 422.7,348.0 423.0,368.0 C423.3,388.0 416.5,404.7 416.0,420.0 C415.5,435.3 415.2,446.7 420.0,460.0 C424.8,473.3 438.7,485.8 445.0,500.0 C451.3,514.2 455.5,528.3 458.0,545.0 C460.5,561.7 470.7,590.8 460.0,600.0 C449.3,609.2 404.7,609.8 394.0,600.0 C383.3,590.2 396.7,558.5 396.0,541.0 C395.3,523.5 397.7,504.5 390.0,495.0 C382.3,485.5 361.8,485.0 350.0,484.0 C338.2,483.0 329.0,483.8 319.0,489.0 C309.0,494.2 298.5,504.8 290.0,515.0 C281.5,525.2 276.3,537.2 268.0,550.0 C259.7,562.8 259.7,585.0 240.0,592.0 C220.3,599.0 167.7,597.3 150.0,592.0 C132.3,586.7 138.7,575.7 134.0,560.0 C129.3,544.3 123.2,521.3 122.0,498.0 C120.8,474.7 122.3,440.5 127.0,420.0 C131.7,399.5 139.7,390.8 150.0,375.0 C160.3,359.2 178.2,342.0 189.0,325.0 C199.8,308.0 203.5,288.5 215.0,273.0 C226.5,257.5 245.5,241.2 258.0,232.0 Z" fill="#0a5cf5"/>
<circle cx="152.0" cy="378.3" r="6.0" fill="#0a5cf5"/><circle cx="233.2" cy="363.2" r="4.1" fill="#0a5cf5"/><circle cx="351.9" cy="405.6" r="4.8" fill="#0a5cf5"/><circle cx="422.8" cy="410.9" r="4.0" fill="#0a5cf5"/><circle cx="244.0" cy="390.1" r="5.1" fill="#0a5cf5"/><circle cx="196.6" cy="442.7" r="4.3" fill="#0a5cf5"/><circle cx="361.7" cy="227.3" r="4.0" fill="#0a5cf5"/><circle cx="135.3" cy="325.1" r="3.8" fill="#0a5cf5"/><circle cx="234.1" cy="266.2" r="5.6" fill="#0a5cf5"/><circle cx="320.6" cy="304.9" r="4.5" fill="#0a5cf5"/><circle cx="185.4" cy="482.7" r="5.7" fill="#0a5cf5"/><circle cx="301.4" cy="246.0" r="5.9" fill="#0a5cf5"/><circle cx="195.0" cy="216.5" r="4.3" fill="#0a5cf5"/><circle cx="243.2" cy="455.1" r="3.4" fill="#0a5cf5"/><circle cx="148.3" cy="332.5" r="3.1" fill="#0a5cf5"/><circle cx="328.9" cy="346.4" r="5.6" fill="#0a5cf5"/><circle cx="410.6" cy="270.3" r="5.4" fill="#0a5cf5"/><circle cx="279.8" cy="485.1" r="3.2" fill="#0a5cf5"/><circle cx="266.9" cy="494.1" r="3.2" fill="#0a5cf5"/><circle cx="221.3" cy="292.9" r="4.1" fill="#0a5cf5"/><circle cx="427.8" cy="257.3" r="5.5" fill="#0a5cf5"/><circle cx="210.0" cy="462.4" r="3.4" fill="#0a5cf5"/><circle cx="160.1" cy="495.8" r="3.0" fill="#0a5cf5"/><circle cx="322.6" cy="261.1" r="4.7" fill="#0a5cf5"/><circle cx="225.3" cy="387.3" r="5.0" fill="#0a5cf5"/><circle cx="354.9" cy="236.5" r="5.5" fill="#0a5cf5"/><circle cx="201.6" cy="378.0" r="5.4" fill="#0a5cf5"/><circle cx="361.5" cy="359.2" r="4.5" fill="#0a5cf5"/><circle cx="176.2" cy="463.8" r="4.8" fill="#0a5cf5"/><circle cx="361.5" cy="489.9" r="5.1" fill="#0a5cf5"/><circle cx="220.1" cy="344.2" r="3.5" fill="#0a5cf5"/><circle cx="213.2" cy="457.2" r="5.0" fill="#0a5cf5"/><circle cx="180.1" cy="356.5" r="4.2" fill="#0a5cf5"/><circle cx="374.8" cy="449.5" r="4.1" fill="#0a5cf5"/><circle cx="155.0" cy="256.4" r="4.7" fill="#0a5cf5"/><circle cx="239.3" cy="210.6" r="5.2" fill="#0a5cf5"/><circle cx="314.4" cy="297.9" r="3.1" fill="#0a5cf5"/><circle cx="236.4" cy="375.8" r="3.2" fill="#0a5cf5"/><circle cx="162.1" cy="212.4" r="3.1" fill="#0a5cf5"/><circle cx="313.6" cy="414.1" r="4.9" fill="#0a5cf5"/><circle cx="225.5" cy="306.4" r="3.0" fill="#0a5cf5"/><circle cx="371.9" cy="358.5" r="3.6" fill="#0a5cf5"/><circle cx="164.3" cy="283.3" r="4.2" fill="#0a5cf5"/><circle cx="339.9" cy="221.7" r="5.3" fill="#0a5cf5"/><circle cx="200.9" cy="246.2" r="4.9" fill="#0a5cf5"/>
<circle cx="173.6" cy="400.3" r="3.7" fill="#0fbafa"/><circle cx="195.3" cy="412.1" r="3.5" fill="#0fbafa"/><circle cx="202.1" cy="358.3" r="2.3" fill="#0fbafa"/><circle cx="170.6" cy="439.2" r="2.1" fill="#0fbafa"/><circle cx="182.3" cy="389.1" r="3.7" fill="#0fbafa"/><circle cx="192.0" cy="449.8" r="4.8" fill="#0fbafa"/><circle cx="208.2" cy="358.3" r="4.6" fill="#0fbafa"/><circle cx="242.7" cy="395.0" r="4.4" fill="#0fbafa"/><circle cx="246.1" cy="463.1" r="2.7" fill="#0fbafa"/><circle cx="166.1" cy="442.4" r="2.8" fill="#0fbafa"/><circle cx="172.9" cy="336.9" r="4.3" fill="#0fbafa"/><circle cx="168.4" cy="353.8" r="3.8" fill="#0fbafa"/><circle cx="150.1" cy="439.8" r="2.2" fill="#0fbafa"/><circle cx="256.6" cy="348.5" r="2.4" fill="#0fbafa"/><circle cx="195.5" cy="437.2" r="3.5" fill="#0fbafa"/><circle cx="225.0" cy="363.9" r="4.6" fill="#0fbafa"/><circle cx="164.3" cy="387.4" r="4.4" fill="#0fbafa"/><circle cx="187.1" cy="338.3" r="4.2" fill="#0fbafa"/><circle cx="150.8" cy="387.5" r="3.0" fill="#0fbafa"/><circle cx="198.7" cy="349.1" r="4.8" fill="#0fbafa"/><circle cx="237.5" cy="406.8" r="2.9" fill="#0fbafa"/><circle cx="186.3" cy="366.2" r="3.2" fill="#0fbafa"/><circle cx="198.6" cy="434.9" r="2.3" fill="#0fbafa"/><circle cx="252.0" cy="455.6" r="3.6" fill="#0fbafa"/><circle cx="205.7" cy="342.7" r="2.7" fill="#0fbafa"/>
<circle cx="221.1" cy="378.8" r="3.4" fill="#0fbafa"/><circle cx="142.8" cy="361.3" r="6.1" fill="#0fbafa"/><circle cx="229.0" cy="364.9" r="4.5" fill="#0fbafa"/><circle cx="178.4" cy="413.6" r="4.6" fill="#0fbafa"/><circle cx="163.2" cy="377.7" r="3.0" fill="#0fbafa"/><circle cx="184.5" cy="345.8" r="5.9" fill="#0fbafa"/><circle cx="176.5" cy="416.0" r="4.5" fill="#0fbafa"/><circle cx="158.5" cy="419.6" r="6.1" fill="#0fbafa"/><circle cx="130.0" cy="418.5" r="6.0" fill="#0fbafa"/><circle cx="228.1" cy="383.2" r="5.6" fill="#0fbafa"/><circle cx="205.9" cy="363.4" r="3.1" fill="#0fbafa"/><circle cx="203.2" cy="416.1" r="3.4" fill="#0fbafa"/><circle cx="203.4" cy="377.0" r="4.4" fill="#0fbafa"/><circle cx="203.9" cy="385.9" r="5.7" fill="#0fbafa"/><circle cx="175.6" cy="374.4" r="5.2" fill="#0fbafa"/><circle cx="154.2" cy="412.8" r="3.2" fill="#0fbafa"/><circle cx="218.8" cy="345.7" r="3.5" fill="#0fbafa"/><circle cx="236.0" cy="391.1" r="4.0" fill="#0fbafa"/><circle cx="203.7" cy="361.1" r="5.5" fill="#0fbafa"/><circle cx="163.9" cy="366.9" r="3.4" fill="#0fbafa"/><circle cx="190.1" cy="349.8" r="4.9" fill="#0fbafa"/><circle cx="173.7" cy="395.9" r="3.8" fill="#0fbafa"/><circle cx="207.7" cy="342.7" r="6.1" fill="#0fbafa"/><circle cx="142.9" cy="376.1" r="3.4" fill="#0fbafa"/><circle cx="218.8" cy="359.6" r="3.5" fill="#0fbafa"/><circle cx="203.8" cy="404.1" r="5.2" fill="#0fbafa"/><circle cx="196.5" cy="393.0" r="6.2" fill="#0fbafa"/><circle cx="161.5" cy="342.2" r="6.4" fill="#0fbafa"/><circle cx="202.4" cy="394.7" r="6.0" fill="#0fbafa"/><circle cx="149.9" cy="390.8" r="4.7" fill="#0fbafa"/><circle cx="233.9" cy="390.4" r="5.0" fill="#0fbafa"/><circle cx="223.6" cy="397.1" r="4.8" fill="#0fbafa"/><circle cx="209.5" cy="356.6" r="5.0" fill="#0fbafa"/><circle cx="174.9" cy="384.1" r="5.9" fill="#0fbafa"/><circle cx="228.5" cy="403.4" r="5.4" fill="#0fbafa"/><circle cx="224.0" cy="397.8" r="4.3" fill="#0fbafa"/><circle cx="193.1" cy="345.2" r="3.5" fill="#0fbafa"/><circle cx="193.5" cy="349.6" r="3.4" fill="#0fbafa"/><circle cx="156.1" cy="401.8" r="6.4" fill="#0fbafa"/><circle cx="146.6" cy="337.8" r="3.7" fill="#0fbafa"/><circle cx="195.7" cy="341.9" r="3.7" fill="#0fbafa"/><circle cx="222.5" cy="399.5" r="3.1" fill="#0fbafa"/><circle cx="218.3" cy="344.9" r="4.3" fill="#0fbafa"/><circle cx="201.3" cy="413.9" r="6.3" fill="#0fbafa"/><circle cx="160.2" cy="362.8" r="5.6" fill="#0fbafa"/>
<path d="M486.0,530.0 C491.0,518.7 506.3,511.7 512.0,520.0 C517.7,528.3 525.0,568.7 520.0,580.0 C515.0,591.3 487.7,596.3 482.0,588.0 C476.3,579.7 481.0,541.3 486.0,530.0 Z" fill="#0a5cf5"/>
</g>
<g transform="translate(283,186) scale(0.20000)" filter="url(#b2)">
<path d="M119.5,190.0 C115.9,198.3 106.2,218.3 100.0,240.0 C93.8,261.7 86.7,293.3 82.0,320.0 C77.3,346.7 73.2,376.7 72.0,400.0 C70.8,423.3 72.8,441.7 75.0,460.0 C77.2,478.3 81.2,493.3 85.0,510.0 C88.8,526.7 93.7,545.0 98.0,560.0 C102.3,575.0 105.8,593.3 111.0,600.0 C116.2,606.7 127.2,606.7 129.0,600.0 C130.8,593.3 124.7,575.0 122.0,560.0 C119.3,545.0 115.5,526.7 113.0,510.0 C110.5,493.3 108.5,478.3 107.0,460.0 C105.5,441.7 103.8,423.3 104.0,400.0 C104.2,376.7 106.0,346.7 108.0,320.0 C110.0,293.3 113.8,261.7 116.0,240.0 C118.2,218.3 120.9,198.3 121.5,190.0 C122.1,181.7 123.1,181.7 119.5,190.0 Z" fill="#70f010"/>
<path d="M87.4,395.0 C86.4,400.8 84.1,417.5 83.5,430.0 C82.9,442.5 82.6,456.7 83.6,470.0 C84.6,483.3 86.6,495.0 89.5,510.0 C92.4,525.0 97.2,545.0 101.0,560.0 C104.8,575.0 108.1,593.3 112.5,600.0 C116.9,606.7 126.4,606.7 127.5,600.0 C128.6,593.3 122.2,575.0 119.0,560.0 C115.8,545.0 111.4,525.0 108.5,510.0 C105.6,495.0 103.8,483.3 101.6,470.0 C99.4,456.7 97.5,442.5 95.5,430.0 C93.5,417.5 90.8,400.8 89.4,395.0 C88.1,389.2 88.4,389.2 87.4,395.0 Z" fill="#ffc808"/>
<path d="M89.2,445.0 C88.7,449.2 87.9,461.7 88.1,470.0 C88.2,478.3 89.1,486.7 90.1,495.0 C91.1,503.3 92.0,509.2 94.2,520.0 C96.4,530.8 99.8,546.7 103.0,560.0 C106.2,573.3 109.6,593.3 113.5,600.0 C117.4,606.7 125.9,606.7 126.5,600.0 C127.1,593.3 120.0,573.3 117.0,560.0 C114.0,546.7 110.5,530.8 108.2,520.0 C105.9,509.2 104.9,503.3 103.1,495.0 C101.2,486.7 99.1,478.3 97.1,470.0 C95.1,461.7 92.5,449.2 91.2,445.0 C89.9,440.8 89.7,440.8 89.2,445.0 Z" fill="#ff6008"/>
<path d="M91.3,468.0 C91.1,471.7 91.5,481.3 92.3,490.0 C93.1,498.7 94.1,508.3 96.2,520.0 C98.3,531.7 101.9,546.7 105.0,560.0 C108.1,573.3 111.7,593.3 115.0,600.0 C118.3,606.7 125.0,606.7 125.0,600.0 C125.0,593.3 118.1,573.3 115.0,560.0 C111.9,546.7 108.8,531.7 106.2,520.0 C103.6,508.3 101.5,498.7 99.3,490.0 C97.1,481.3 94.6,471.7 93.3,468.0 C92.0,464.3 91.5,464.3 91.3,468.0 Z" fill="#f80808"/>
<path d="M464.5,190.0 C465.1,198.3 467.2,218.3 470.0,240.0 C472.8,261.7 478.0,293.3 481.0,320.0 C484.0,346.7 486.8,376.7 488.0,400.0 C489.2,423.3 488.8,441.7 488.0,460.0 C487.2,478.3 486.0,493.3 483.0,510.0 C480.0,526.7 474.2,545.0 470.0,560.0 C465.8,575.0 457.0,593.3 458.0,600.0 C459.0,606.7 470.0,606.7 476.0,600.0 C482.0,593.3 488.2,575.0 494.0,560.0 C499.8,545.0 506.7,526.7 511.0,510.0 C515.3,493.3 518.5,478.3 520.0,460.0 C521.5,441.7 522.2,423.3 520.0,400.0 C517.8,376.7 512.7,346.7 507.0,320.0 C501.3,293.3 492.8,261.7 486.0,240.0 C479.2,218.3 470.1,198.3 466.5,190.0 C462.9,181.7 463.9,181.7 464.5,190.0 Z" fill="#70f010"/>
<path d="M502.4,395.0 C501.3,400.8 499.5,417.5 498.0,430.0 C496.5,442.5 495.4,456.7 493.6,470.0 C491.9,483.3 490.9,495.0 487.5,510.0 C484.1,525.0 477.7,545.0 473.0,560.0 C468.3,575.0 459.2,593.3 459.5,600.0 C459.8,606.7 469.2,606.7 474.5,600.0 C479.8,593.3 485.7,575.0 491.0,560.0 C496.3,545.0 503.1,525.0 506.5,510.0 C509.9,495.0 511.0,483.3 511.6,470.0 C512.2,456.7 511.2,442.5 510.0,430.0 C508.8,417.5 505.7,400.8 504.4,395.0 C503.1,389.2 503.5,389.2 502.4,395.0 Z" fill="#ffc808"/>
<path d="M503.0,445.0 C501.9,449.2 499.8,461.7 498.1,470.0 C496.4,478.3 494.5,486.7 492.6,495.0 C490.8,503.3 489.9,509.2 487.0,520.0 C484.1,530.8 479.4,546.7 475.0,560.0 C470.6,573.3 460.8,593.3 460.5,600.0 C460.2,606.7 468.8,606.7 473.5,600.0 C478.2,593.3 484.4,573.3 489.0,560.0 C493.6,546.7 498.2,530.8 501.0,520.0 C503.8,509.2 504.6,503.3 505.6,495.0 C506.6,486.7 507.2,478.3 507.1,470.0 C507.0,461.7 505.7,449.2 505.0,445.0 C504.3,440.8 504.1,440.8 503.0,445.0 Z" fill="#ff6008"/>
<path d="M501.9,468.0 C500.6,471.7 498.4,481.3 496.3,490.0 C494.2,498.7 492.2,508.3 489.0,520.0 C485.8,531.7 481.5,546.7 477.0,560.0 C472.5,573.3 462.8,593.3 462.0,600.0 C461.2,606.7 467.8,606.7 472.0,600.0 C476.2,593.3 482.5,573.3 487.0,560.0 C491.5,546.7 496.3,531.7 499.0,520.0 C501.7,508.3 502.5,498.7 503.3,490.0 C504.1,481.3 504.1,471.7 503.9,468.0 C503.7,464.3 503.2,464.3 501.9,468.0 Z" fill="#f80808"/>
<path d="M128.0,594.0 L305.0,590.0" fill="none" stroke="#70f010" stroke-width="10" stroke-linecap="butt" stroke-linejoin="round"/>
<path d="M150.0,596.0 L290.0,592.0" fill="none" stroke="#ffc808" stroke-width="5" stroke-linecap="butt" stroke-linejoin="round"/>
<path d="M175.0,597.0 L265.0,594.0" fill="none" stroke="#f80808" stroke-width="3" stroke-linecap="butt" stroke-linejoin="round"/>
<path d="M466.0,600.0 L525.0,600.0" fill="none" stroke="#f80808" stroke-width="16" stroke-linecap="butt" stroke-linejoin="round"/>
<path d="M57.0,35.0 L525.0,35.0" fill="none" stroke="#d03010" stroke-width="5" stroke-linecap="butt" stroke-linejoin="round"/>
</g>
</g>
<rect x="294.3" y="192.7" width="93.7" height="114.7" fill="none" stroke="#2a2a2a" stroke-width="0.7"/>
<line x1="307.4" x2="307.4" y1="305.4" y2="307.4" stroke="#222" stroke-width="0.5"/>
<line x1="307.4" x2="307.4" y1="194.7" y2="192.7" stroke="#222" stroke-width="0.5"/>
<text class="k" text-anchor="middle" x="307.4" y="312.6">-0.5</text>
<line x1="324.2" x2="324.2" y1="305.4" y2="307.4" stroke="#222" stroke-width="0.5"/>
<line x1="324.2" x2="324.2" y1="194.7" y2="192.7" stroke="#222" stroke-width="0.5"/>
<text class="k" text-anchor="middle" x="324.2" y="312.6">-0.25</text>
<line x1="341.0" x2="341.0" y1="305.4" y2="307.4" stroke="#222" stroke-width="0.5"/>
<line x1="341.0" x2="341.0" y1="194.7" y2="192.7" stroke="#222" stroke-width="0.5"/>
<text class="k" text-anchor="middle" x="341.0" y="312.6">0</text>
<line x1="357.8" x2="357.8" y1="305.4" y2="307.4" stroke="#222" stroke-width="0.5"/>
<line x1="357.8" x2="357.8" y1="194.7" y2="192.7" stroke="#222" stroke-width="0.5"/>
<text class="k" text-anchor="middle" x="357.8" y="312.6">0.25</text>
<line x1="374.6" x2="374.6" y1="305.4" y2="307.4" stroke="#222" stroke-width="0.5"/>
<line x1="374.6" x2="374.6" y1="194.7" y2="192.7" stroke="#222" stroke-width="0.5"/>
<text class="k" text-anchor="middle" x="374.6" y="312.6">0.5</text>
<line x1="294.3" x2="296.3" y1="307.4" y2="307.4" stroke="#222" stroke-width="0.5"/>
<line x1="388.0" x2="386.0" y1="307.4" y2="307.4" stroke="#222" stroke-width="0.5"/>
<text class="k" text-anchor="end" x="293.5" y="309.0">0</text>
<line x1="294.3" x2="296.3" y1="286.2" y2="286.2" stroke="#222" stroke-width="0.5"/>
<line x1="388.0" x2="386.0" y1="286.2" y2="286.2" stroke="#222" stroke-width="0.5"/>
<text class="k" text-anchor="end" x="293.5" y="287.8">0.25</text>
<line x1="294.3" x2="296.3" y1="265.0" y2="265.0" stroke="#222" stroke-width="0.5"/>
<line x1="388.0" x2="386.0" y1="265.0" y2="265.0" stroke="#222" stroke-width="0.5"/>
<text class="k" text-anchor="end" x="293.5" y="266.6">0.5</text>
<line x1="294.3" x2="296.3" y1="243.8" y2="243.8" stroke="#222" stroke-width="0.5"/>
<line x1="388.0" x2="386.0" y1="243.8" y2="243.8" stroke="#222" stroke-width="0.5"/>
<text class="k" text-anchor="end" x="293.5" y="245.4">0.75</text>
<line x1="294.3" x2="296.3" y1="222.6" y2="222.6" stroke="#222" stroke-width="0.5"/>
<line x1="388.0" x2="386.0" y1="222.6" y2="222.6" stroke="#222" stroke-width="0.5"/>
<text class="k" text-anchor="end" x="293.5" y="224.2">1</text>
<line x1="294.3" x2="296.3" y1="201.4" y2="201.4" stroke="#222" stroke-width="0.5"/>
<line x1="388.0" x2="386.0" y1="201.4" y2="201.4" stroke="#222" stroke-width="0.5"/>
<text class="k" text-anchor="end" x="293.5" y="203.0">1.25</text>
<text class="a" text-anchor="middle" x="341.0" y="317.2">r/Db</text>
<text class="a" text-anchor="middle" transform="translate(287.9,252.3) rotate(-90)">y/Db</text>
<rect x="409.3" y="172.3" width="125.8" height="148.5" fill="#fff" stroke="#d2d2d2" stroke-width="1"/><line x1="409.3" x2="535.1" y1="184.0" y2="184.0" stroke="#d2d2d2" stroke-width="1"/><text class="t" x="409.5" y="182.4">D-BR0.48-RIM2</text>
<clipPath id="c31"><rect x="425.4" y="192.7" width="94.6" height="114.7"/></clipPath>
<g clip-path="url(#c31)">
<rect x="424.4" y="191.7" width="96.6" height="116.7" fill="#0fbafa"/>
<g transform="translate(415,186) scale(0.20000)" filter="url(#bl)">
<path d="M40.0,25.0 C54.3,-64.2 112.7,12.5 126.0,25.0 C139.3,37.5 123.3,70.8 120.0,100.0 C116.7,129.2 111.0,166.7 106.0,200.0 C101.0,233.3 95.0,266.7 90.0,300.0 C85.0,333.3 80.3,366.7 76.0,400.0 C71.7,433.3 68.0,473.3 64.0,500.0 C60.0,526.7 56.0,550.0 52.0,560.0 C48.0,570.0 42.0,649.2 40.0,560.0 C38.0,470.8 25.7,114.2 40.0,25.0 Z" fill="#08f0e0"/>
<path d="M535.0,25.0 C520.8,-64.2 462.5,12.5 450.0,25.0 C437.5,37.5 455.7,70.8 460.0,100.0 C464.3,129.2 470.7,166.7 476.0,200.0 C481.3,233.3 487.0,266.7 492.0,300.0 C497.0,333.3 502.0,366.7 506.0,400.0 C510.0,433.3 512.7,473.3 516.0,500.0 C519.3,526.7 522.8,550.0 526.0,560.0 C529.2,570.0 533.5,649.2 535.0,560.0 C536.5,470.8 549.2,114.2 535.0,25.0 Z" fill="#08f0e0"/>
<path d="M40.0,230.0 C44.3,191.7 60.3,231.7 66.0,250.0 C71.7,268.3 74.3,308.3 74.0,340.0 C73.7,371.7 67.7,416.7 64.0,440.0 C60.3,463.3 56.0,473.3 52.0,480.0 C48.0,486.7 42.0,521.7 40.0,480.0 C38.0,438.3 35.7,268.3 40.0,230.0 Z" fill="#08ee78"/>
<path d="M535.0,220.0 C530.5,180.0 513.8,221.7 508.0,240.0 C502.2,258.3 499.7,296.7 500.0,330.0 C500.3,363.3 506.0,415.0 510.0,440.0 C514.0,465.0 519.8,473.3 524.0,480.0 C528.2,486.7 533.2,523.3 535.0,480.0 C536.8,436.7 539.5,260.0 535.0,220.0 Z" fill="#08ee78"/>
<path d="M124.0,25.0 C130.7,12.5 155.7,12.5 160.0,25.0 C164.3,37.5 154.2,70.8 150.0,100.0 C145.8,129.2 140.8,166.7 135.0,200.0 C129.2,233.3 120.8,266.7 115.0,300.0 C109.2,333.3 104.2,368.3 100.0,400.0 C95.8,431.7 94.3,463.3 90.0,490.0 C85.7,516.7 79.3,548.3 74.0,560.0 C68.7,571.7 59.3,571.7 58.0,560.0 C56.7,548.3 63.0,516.7 66.0,490.0 C69.0,463.3 72.0,431.7 76.0,400.0 C80.0,368.3 85.2,333.3 90.0,300.0 C94.8,266.7 100.0,233.3 105.0,200.0 C110.0,166.7 116.8,129.2 120.0,100.0 C123.2,70.8 117.3,37.5 124.0,25.0 Z" fill="#0a5cf5"/>
<path d="M415.0,25.0 C419.2,12.5 442.5,12.5 450.0,25.0 C457.5,37.5 455.8,70.8 460.0,100.0 C464.2,129.2 470.0,166.7 475.0,200.0 C480.0,233.3 485.0,266.7 490.0,300.0 C495.0,333.3 500.8,368.3 505.0,400.0 C509.2,431.7 511.5,463.3 515.0,490.0 C518.5,516.7 526.2,548.3 526.0,560.0 C525.8,571.7 518.0,570.0 514.0,560.0 C510.0,550.0 506.0,511.7 502.0,500.0 C498.0,488.3 493.7,506.7 490.0,490.0 C486.3,473.3 484.2,431.7 480.0,400.0 C475.8,368.3 470.8,333.3 465.0,300.0 C459.2,266.7 451.7,233.3 445.0,200.0 C438.3,166.7 430.0,129.2 425.0,100.0 C420.0,70.8 410.8,37.5 415.0,25.0 Z" fill="#0a5cf5"/>
<circle cx="293.3" cy="79.7" r="4.7" fill="#0a5cf5"/><circle cx="276.9" cy="114.8" r="3.5" fill="#0a5cf5"/><circle cx="285.8" cy="108.2" r="4.8" fill="#0a5cf5"/><circle cx="347.3" cy="64.6" r="4.1" fill="#0a5cf5"/><circle cx="266.1" cy="50.2" r="3.2" fill="#0a5cf5"/><circle cx="294.4" cy="65.4" r="4.7" fill="#0a5cf5"/><circle cx="354.7" cy="129.5" r="5.3" fill="#0a5cf5"/><circle cx="269.7" cy="73.3" r="5.7" fill="#0a5cf5"/><circle cx="256.6" cy="113.8" r="3.7" fill="#0a5cf5"/><circle cx="285.5" cy="89.3" r="5.9" fill="#0a5cf5"/><circle cx="323.8" cy="115.2" r="4.0" fill="#0a5cf5"/><circle cx="272.2" cy="118.0" r="4.8" fill="#0a5cf5"/><circle cx="322.1" cy="47.0" r="3.2" fill="#0a5cf5"/><circle cx="282.7" cy="66.3" r="3.8" fill="#0a5cf5"/><circle cx="335.1" cy="122.6" r="3.7" fill="#0a5cf5"/><circle cx="238.5" cy="55.4" r="3.6" fill="#0a5cf5"/><circle cx="322.7" cy="73.1" r="5.9" fill="#0a5cf5"/><circle cx="227.5" cy="87.2" r="3.4" fill="#0a5cf5"/><circle cx="339.6" cy="73.1" r="3.7" fill="#0a5cf5"/><circle cx="303.7" cy="118.3" r="3.0" fill="#0a5cf5"/><circle cx="256.1" cy="121.1" r="4.3" fill="#0a5cf5"/><circle cx="238.0" cy="123.7" r="5.8" fill="#0a5cf5"/><circle cx="282.6" cy="56.0" r="3.1" fill="#0a5cf5"/><circle cx="325.3" cy="109.0" r="5.2" fill="#0a5cf5"/><circle cx="318.3" cy="70.5" r="3.9" fill="#0a5cf5"/><circle cx="302.6" cy="111.0" r="4.4" fill="#0a5cf5"/><circle cx="294.6" cy="73.8" r="5.5" fill="#0a5cf5"/><circle cx="354.1" cy="63.2" r="5.9" fill="#0a5cf5"/><circle cx="334.7" cy="75.2" r="3.8" fill="#0a5cf5"/><circle cx="317.4" cy="87.9" r="4.8" fill="#0a5cf5"/><circle cx="359.2" cy="128.2" r="5.1" fill="#0a5cf5"/><circle cx="295.0" cy="53.3" r="3.2" fill="#0a5cf5"/><circle cx="335.8" cy="61.5" r="5.0" fill="#0a5cf5"/><circle cx="266.1" cy="57.7" r="5.1" fill="#0a5cf5"/><circle cx="248.2" cy="44.5" r="6.0" fill="#0a5cf5"/><circle cx="278.9" cy="71.2" r="5.4" fill="#0a5cf5"/><circle cx="253.5" cy="111.0" r="3.7" fill="#0a5cf5"/><circle cx="323.1" cy="107.2" r="3.3" fill="#0a5cf5"/><circle cx="276.7" cy="115.9" r="4.5" fill="#0a5cf5"/><circle cx="283.4" cy="44.1" r="3.5" fill="#0a5cf5"/><circle cx="352.8" cy="129.0" r="4.6" fill="#0a5cf5"/><circle cx="314.5" cy="50.2" r="5.8" fill="#0a5cf5"/><circle cx="309.8" cy="105.0" r="5.6" fill="#0a5cf5"/><circle cx="257.3" cy="102.2" r="4.4" fill="#0a5cf5"/><circle cx="265.9" cy="54.0" r="5.1" fill="#0a5cf5"/><circle cx="250.4" cy="53.3" r="4.1" fill="#0a5cf5"/><circle cx="282.9" cy="78.7" r="3.7" fill="#0a5cf5"/><circle cx="356.8" cy="47.0" r="5.4" fill="#0a5cf5"/><circle cx="326.8" cy="80.1" r="3.9" fill="#0a5cf5"/><circle cx="338.7" cy="106.8" r="3.7" fill="#0a5cf5"/><circle cx="343.5" cy="96.7" r="3.5" fill="#0a5cf5"/><circle cx="354.1" cy="71.5" r="3.4" fill="#0a5cf5"/><circle cx="354.2" cy="107.3" r="4.4" fill="#0a5cf5"/><circle cx="299.4" cy="84.6" r="4.5" fill="#0a5cf5"/><circle cx="236.5" cy="96.9" r="4.1" fill="#0a5cf5"/><circle cx="247.6" cy="71.1" r="4.2" fill="#0a5cf5"/><circle cx="232.2" cy="64.0" r="3.9" fill="#0a5cf5"/><circle cx="244.8" cy="76.9" r="3.2" fill="#0a5cf5"/><circle cx="291.3" cy="69.4" r="3.9" fill="#0a5cf5"/><circle cx="313.2" cy="96.6" r="3.4" fill="#0a5cf5"/>
<circle cx="254.5" cy="154.5" r="3.0" fill="#0a5cf5"/><circle cx="336.9" cy="170.6" r="3.6" fill="#0a5cf5"/><circle cx="308.0" cy="137.8" r="3.8" fill="#0a5cf5"/><circle cx="283.3" cy="159.1" r="2.2" fill="#0a5cf5"/><circle cx="270.7" cy="172.1" r="2.2" fill="#0a5cf5"/><circle cx="248.5" cy="146.3" r="2.7" fill="#0a5cf5"/><circle cx="289.1" cy="154.2" r="2.4" fill="#0a5cf5"/><circle cx="240.2" cy="147.9" r="2.6" fill="#0a5cf5"/><circle cx="293.9" cy="158.0" r="3.4" fill="#0a5cf5"/><circle cx="284.1" cy="149.2" r="3.3" fill="#0a5cf5"/><circle cx="330.7" cy="163.1" r="2.1" fill="#0a5cf5"/><circle cx="269.9" cy="178.2" r="3.9" fill="#0a5cf5"/>
<path d="M180.0,150.0 C186.7,155.8 198.3,165.0 204.0,190.0 C209.7,215.0 215.3,273.3 214.0,300.0 C212.7,326.7 202.3,333.3 196.0,350.0 C189.7,366.7 182.0,383.3 176.0,400.0 C170.0,416.7 165.0,431.5 160.0,450.0 C155.0,468.5 150.0,486.0 146.0,511.0 C142.0,536.0 144.3,585.2 136.0,600.0 C127.7,614.8 102.7,616.7 96.0,600.0 C89.3,583.3 94.3,533.3 96.0,500.0 C97.7,466.7 101.7,433.3 106.0,400.0 C110.3,366.7 116.0,333.3 122.0,300.0 C128.0,266.7 135.0,224.2 142.0,200.0 C149.0,175.8 157.7,163.3 164.0,155.0 C170.3,146.7 173.3,144.2 180.0,150.0 Z" fill="#08f0e0"/>
<path d="M400.0,150.0 C393.0,155.8 383.0,165.0 378.0,190.0 C373.0,215.0 367.0,265.0 370.0,300.0 C373.0,335.0 386.7,368.3 396.0,400.0 C405.3,431.7 417.0,456.7 426.0,490.0 C435.0,523.3 439.0,581.7 450.0,600.0 C461.0,618.3 485.3,616.7 492.0,600.0 C498.7,583.3 492.0,533.3 490.0,500.0 C488.0,466.7 484.3,433.3 480.0,400.0 C475.7,366.7 470.0,333.3 464.0,300.0 C458.0,266.7 451.3,224.2 444.0,200.0 C436.7,175.8 427.3,163.3 420.0,155.0 C412.7,146.7 407.0,144.2 400.0,150.0 Z" fill="#08f0e0"/>
<path d="M164.4,230.0 C160.7,238.3 150.6,261.7 144.4,280.0 C138.2,298.3 131.9,320.0 127.0,340.0 C122.1,360.0 119.0,375.0 115.0,400.0 C111.0,425.0 105.0,466.7 103.0,490.0 C101.0,513.3 102.5,521.7 103.0,540.0 C103.5,558.3 100.8,590.0 106.0,600.0 C111.2,610.0 128.8,610.0 134.0,600.0 C139.2,590.0 135.5,558.3 137.0,540.0 C138.5,521.7 140.0,513.3 143.0,490.0 C146.0,466.7 152.0,425.0 155.0,400.0 C158.0,375.0 159.4,360.0 161.0,340.0 C162.6,320.0 163.5,298.3 164.4,280.0 C165.3,261.7 166.4,238.3 166.4,230.0 C166.4,221.7 168.1,221.7 164.4,230.0 Z" fill="#08ee78"/>
<path d="M413.0,230.0 C412.8,238.3 413.1,261.7 414.0,280.0 C414.9,298.3 416.2,320.0 418.2,340.0 C420.2,360.0 422.2,375.0 426.0,400.0 C429.8,425.0 437.2,466.7 441.0,490.0 C444.8,513.3 447.2,521.7 449.0,540.0 C450.8,558.3 446.8,590.0 452.0,600.0 C457.2,610.0 474.8,610.0 480.0,600.0 C485.2,590.0 482.8,558.3 483.0,540.0 C483.2,521.7 483.8,513.3 481.0,490.0 C478.2,466.7 470.8,425.0 466.0,400.0 C461.2,375.0 457.5,360.0 452.2,340.0 C446.9,320.0 440.2,298.3 434.0,280.0 C427.8,261.7 418.5,238.3 415.0,230.0 C411.5,221.7 413.2,221.7 413.0,230.0 Z" fill="#08ee78"/>
<path d="M227.0,384.0 C234.3,376.7 243.2,372.3 252.0,371.0 C260.8,369.7 272.5,374.2 280.0,376.0 C287.5,377.8 291.2,382.3 297.0,382.0 C302.8,381.7 308.7,376.3 315.0,374.0 C321.3,371.7 327.0,366.3 335.0,368.0 C343.0,369.7 353.5,373.0 363.0,384.0 C372.5,395.0 384.5,417.2 392.0,434.0 C399.5,450.8 401.7,461.7 408.0,485.0 C414.3,508.3 425.2,553.5 430.0,574.0 C434.8,594.5 446.5,602.3 437.0,608.0 C427.5,613.7 385.8,616.8 373.0,608.0 C360.2,599.2 367.5,569.2 360.0,555.0 C352.5,540.8 338.5,529.8 328.0,523.0 C317.5,516.2 307.5,514.0 297.0,514.0 C286.5,514.0 274.0,516.2 265.0,523.0 C256.0,529.8 247.8,540.8 243.0,555.0 C238.2,569.2 252.5,599.2 236.0,608.0 C219.5,616.8 158.3,613.7 144.0,608.0 C129.7,602.3 145.7,590.2 150.0,574.0 C154.3,557.8 163.5,530.0 170.0,511.0 C176.5,492.0 182.7,476.0 189.0,460.0 C195.3,444.0 201.7,427.7 208.0,415.0 C214.3,402.3 219.7,391.3 227.0,384.0 Z" fill="#0a5cf5"/>
<circle cx="294.2" cy="428.5" r="3.2" fill="#0a5cf5"/><circle cx="269.5" cy="363.9" r="4.3" fill="#0a5cf5"/><circle cx="229.7" cy="384.7" r="4.6" fill="#0a5cf5"/><circle cx="201.5" cy="372.3" r="3.6" fill="#0a5cf5"/><circle cx="360.4" cy="398.0" r="4.3" fill="#0a5cf5"/><circle cx="379.2" cy="378.4" r="3.9" fill="#0a5cf5"/><circle cx="225.0" cy="422.5" r="3.0" fill="#0a5cf5"/><circle cx="348.9" cy="387.9" r="4.1" fill="#0a5cf5"/><circle cx="229.1" cy="434.5" r="3.6" fill="#0a5cf5"/><circle cx="285.5" cy="435.1" r="4.2" fill="#0a5cf5"/><circle cx="257.5" cy="378.4" r="4.8" fill="#0a5cf5"/><circle cx="340.7" cy="410.3" r="4.1" fill="#0a5cf5"/><circle cx="383.6" cy="370.2" r="3.7" fill="#0a5cf5"/><circle cx="360.7" cy="412.5" r="4.2" fill="#0a5cf5"/><circle cx="328.0" cy="397.8" r="4.1" fill="#0a5cf5"/><circle cx="280.1" cy="435.8" r="3.5" fill="#0a5cf5"/><circle cx="243.8" cy="385.2" r="3.3" fill="#0a5cf5"/><circle cx="319.2" cy="406.3" r="3.1" fill="#0a5cf5"/><circle cx="242.8" cy="430.7" r="3.5" fill="#0a5cf5"/><circle cx="330.7" cy="393.0" r="3.3" fill="#0a5cf5"/>
</g>
<g transform="translate(415,186) scale(0.20000)" filter="url(#b2)">
<path d="M54.0,290.0 L55.0,420.0" fill="none" stroke="#70f010" stroke-width="10" stroke-linecap="round" stroke-linejoin="round"/>
<path d="M523.0,290.0 L522.0,420.0" fill="none" stroke="#70f010" stroke-width="8" stroke-linecap="round" stroke-linejoin="round"/>
<path d="M140.0,360.0 C137.8,366.7 132.2,386.7 129.0,400.0 C125.8,413.3 123.5,425.0 120.7,440.0 C117.9,455.0 114.0,473.3 112.0,490.0 C110.0,506.7 109.3,521.7 109.0,540.0 C108.7,558.3 106.5,590.0 110.0,600.0 C113.5,610.0 126.5,610.0 130.0,600.0 C133.5,590.0 130.3,558.3 131.0,540.0 C131.7,521.7 132.7,506.7 134.0,490.0 C135.3,473.3 137.5,455.0 138.7,440.0 C139.9,425.0 140.4,413.3 141.0,400.0 C141.6,386.7 142.2,366.7 142.0,360.0 C141.8,353.3 142.2,353.3 140.0,360.0 Z" fill="#70f010"/>
<path d="M123.3,480.0 C122.0,483.3 119.1,490.0 117.4,500.0 C115.7,510.0 113.8,523.3 113.0,540.0 C112.2,556.7 110.1,590.0 112.5,600.0 C114.9,610.0 125.1,610.0 127.5,600.0 C129.9,590.0 127.0,556.7 127.0,540.0 C127.0,523.3 127.7,510.0 127.4,500.0 C127.1,490.0 126.0,483.3 125.3,480.0 C124.6,476.7 124.6,476.7 123.3,480.0 Z" fill="#ffc808"/>
<path d="M120.8,510.0 C119.7,513.3 117.2,521.7 116.1,530.0 C115.0,538.3 114.4,548.3 114.0,560.0 C113.6,571.7 111.4,593.3 113.5,600.0 C115.6,606.7 124.4,606.7 126.5,600.0 C128.6,593.3 126.2,571.7 126.0,560.0 C125.8,548.3 125.6,538.3 125.1,530.0 C124.6,521.7 123.5,513.3 122.8,510.0 C122.1,506.7 121.9,506.7 120.8,510.0 Z" fill="#ff6008"/>
<path d="M119.6,530.0 C118.7,533.3 116.8,542.5 116.0,550.0 C115.2,557.5 114.8,566.7 114.5,575.0 C114.2,583.3 112.1,595.8 114.0,600.0 C115.9,604.2 124.1,604.2 126.0,600.0 C127.9,595.8 125.8,583.3 125.5,575.0 C125.2,566.7 124.7,557.5 124.0,550.0 C123.3,542.5 122.3,533.3 121.6,530.0 C120.9,526.7 120.5,526.7 119.6,530.0 Z" fill="#f80808"/>
<path d="M437.8,360.0 C437.8,366.7 439.0,386.7 440.0,400.0 C441.0,413.3 442.0,425.0 443.7,440.0 C445.4,455.0 448.1,473.3 450.0,490.0 C451.9,506.7 454.0,521.7 455.0,540.0 C456.0,558.3 452.5,590.0 456.0,600.0 C459.5,610.0 472.5,610.0 476.0,600.0 C479.5,590.0 477.7,558.3 477.0,540.0 C476.3,521.7 474.6,506.7 472.0,490.0 C469.4,473.3 465.0,455.0 461.7,440.0 C458.4,425.0 455.6,413.3 452.0,400.0 C448.4,386.7 442.2,366.7 439.8,360.0 C437.4,353.3 437.8,353.3 437.8,360.0 Z" fill="#70f010"/>
<path d="M458.3,480.0 C457.8,483.3 456.9,490.0 457.0,500.0 C457.1,510.0 458.8,523.3 459.0,540.0 C459.2,556.7 456.1,590.0 458.5,600.0 C460.9,610.0 471.1,610.0 473.5,600.0 C475.9,590.0 474.1,556.7 473.0,540.0 C471.9,523.3 469.1,510.0 467.0,500.0 C464.9,490.0 461.8,483.3 460.3,480.0 C458.9,476.7 458.9,476.7 458.3,480.0 Z" fill="#ffc808"/>
<path d="M462.0,510.0 C461.4,513.3 460.8,521.7 460.5,530.0 C460.2,538.3 460.2,548.3 460.0,560.0 C459.8,571.7 457.4,593.3 459.5,600.0 C461.6,606.7 470.4,606.7 472.5,600.0 C474.6,593.3 472.5,571.7 472.0,560.0 C471.5,548.3 470.8,538.3 469.5,530.0 C468.2,521.7 465.2,513.3 464.0,510.0 C462.8,506.7 462.6,506.7 462.0,510.0 Z" fill="#ff6008"/>
<path d="M464.0,530.0 C463.3,533.3 462.6,542.5 462.0,550.0 C461.4,557.5 460.8,566.7 460.5,575.0 C460.2,583.3 458.1,595.8 460.0,600.0 C461.9,604.2 470.1,604.2 472.0,600.0 C473.9,595.8 471.8,583.3 471.5,575.0 C471.2,566.7 470.9,557.5 470.0,550.0 C469.1,542.5 467.0,533.3 466.0,530.0 C465.0,526.7 464.7,526.7 464.0,530.0 Z" fill="#f80808"/>
<path d="M128.0,597.0 L250.0,597.0" fill="none" stroke="#70f010" stroke-width="6" stroke-linecap="butt" stroke-linejoin="round"/>
<path d="M466.0,599.0 L525.0,599.0" fill="none" stroke="#f80808" stroke-width="17" stroke-linecap="butt" stroke-linejoin="round"/>
<path d="M60.0,35.0 L480.0,35.0" fill="none" stroke="#d03010" stroke-width="4" stroke-linecap="butt" stroke-linejoin="round"/>
</g>
</g>
<rect x="425.4" y="192.7" width="94.6" height="114.7" fill="none" stroke="#2a2a2a" stroke-width="0.7"/>
<line x1="438.9" x2="438.9" y1="305.4" y2="307.4" stroke="#222" stroke-width="0.5"/>
<line x1="438.9" x2="438.9" y1="194.7" y2="192.7" stroke="#222" stroke-width="0.5"/>
<text class="k" text-anchor="middle" x="438.9" y="312.6">-0.5</text>
<line x1="455.8" x2="455.8" y1="305.4" y2="307.4" stroke="#222" stroke-width="0.5"/>
<line x1="455.8" x2="455.8" y1="194.7" y2="192.7" stroke="#222" stroke-width="0.5"/>
<text class="k" text-anchor="middle" x="455.8" y="312.6">-0.25</text>
<line x1="472.7" x2="472.7" y1="305.4" y2="307.4" stroke="#222" stroke-width="0.5"/>
<line x1="472.7" x2="472.7" y1="194.7" y2="192.7" stroke="#222" stroke-width="0.5"/>
<text class="k" text-anchor="middle" x="472.7" y="312.6">0</text>
<line x1="489.6" x2="489.6" y1="305.4" y2="307.4" stroke="#222" stroke-width="0.5"/>
<line x1="489.6" x2="489.6" y1="194.7" y2="192.7" stroke="#222" stroke-width="0.5"/>
<text class="k" text-anchor="middle" x="489.6" y="312.6">0.25</text>
<line x1="506.5" x2="506.5" y1="305.4" y2="307.4" stroke="#222" stroke-width="0.5"/>
<line x1="506.5" x2="506.5" y1="194.7" y2="192.7" stroke="#222" stroke-width="0.5"/>
<text class="k" text-anchor="middle" x="506.5" y="312.6">0.5</text>
<line x1="425.4" x2="427.4" y1="307.4" y2="307.4" stroke="#222" stroke-width="0.5"/>
<line x1="520.0" x2="518.0" y1="307.4" y2="307.4" stroke="#222" stroke-width="0.5"/>
<text class="k" text-anchor="end" x="424.6" y="309.0">0</text>
<line x1="425.4" x2="427.4" y1="286.2" y2="286.2" stroke="#222" stroke-width="0.5"/>
<line x1="520.0" x2="518.0" y1="286.2" y2="286.2" stroke="#222" stroke-width="0.5"/>
<text class="k" text-anchor="end" x="424.6" y="287.8">0.25</text>
<line x1="425.4" x2="427.4" y1="265.0" y2="265.0" stroke="#222" stroke-width="0.5"/>
<line x1="520.0" x2="518.0" y1="265.0" y2="265.0" stroke="#222" stroke-width="0.5"/>
<text class="k" text-anchor="end" x="424.6" y="266.6">0.5</text>
<line x1="425.4" x2="427.4" y1="243.8" y2="243.8" stroke="#222" stroke-width="0.5"/>
<line x1="520.0" x2="518.0" y1="243.8" y2="243.8" stroke="#222" stroke-width="0.5"/>
<text class="k" text-anchor="end" x="424.6" y="245.4">0.75</text>
<line x1="425.4" x2="427.4" y1="222.6" y2="222.6" stroke="#222" stroke-width="0.5"/>
<line x1="520.0" x2="518.0" y1="222.6" y2="222.6" stroke="#222" stroke-width="0.5"/>
<text class="k" text-anchor="end" x="424.6" y="224.2">1</text>
<line x1="425.4" x2="427.4" y1="201.4" y2="201.4" stroke="#222" stroke-width="0.5"/>
<line x1="520.0" x2="518.0" y1="201.4" y2="201.4" stroke="#222" stroke-width="0.5"/>
<text class="k" text-anchor="end" x="424.6" y="203.0">1.25</text>
<text class="a" text-anchor="middle" x="472.7" y="317.2">r/Db</text>
<text class="a" text-anchor="middle" transform="translate(419.0,252.3) rotate(-90)">y/Db</text>
<rect x="277.5" y="328.1" width="126.2" height="149.3" fill="#fff" stroke="#d2d2d2" stroke-width="1"/><line x1="277.5" x2="403.7" y1="339.6" y2="339.6" stroke="#d2d2d2" stroke-width="1"/><text class="t" x="277.7" y="338.0">C-BR0.48-RIM3</text>
<clipPath id="c22"><rect x="294.3" y="348.7" width="93.9" height="114.3"/></clipPath>
<g clip-path="url(#c22)">
<rect x="293.3" y="347.7" width="95.9" height="116.3" fill="#0fbafa"/>
<g transform="translate(283,342) scale(0.20000)" filter="url(#bl)">
<path d="M130.0,25.0 C150.3,12.5 217.7,12.5 232.0,25.0 C246.3,37.5 222.7,70.8 216.0,100.0 C209.3,129.2 199.7,166.7 192.0,200.0 C184.3,233.3 177.0,266.7 170.0,300.0 C163.0,333.3 155.0,366.7 150.0,400.0 C145.0,433.3 142.3,466.7 140.0,500.0 C137.7,533.3 142.7,583.3 136.0,600.0 C129.3,616.7 110.0,616.7 100.0,600.0 C90.0,583.3 81.0,533.3 76.0,500.0 C71.0,466.7 70.0,433.3 70.0,400.0 C70.0,366.7 72.7,333.3 76.0,300.0 C79.3,266.7 84.3,233.3 90.0,200.0 C95.7,166.7 103.3,129.2 110.0,100.0 C116.7,70.8 109.7,37.5 130.0,25.0 Z" fill="#08f0e0"/>
<path d="M368.0,25.0 C380.8,12.5 443.3,12.5 462.0,25.0 C480.7,37.5 473.7,70.8 480.0,100.0 C486.3,129.2 494.0,166.7 500.0,200.0 C506.0,233.3 512.3,266.7 516.0,300.0 C519.7,333.3 522.7,366.7 522.0,400.0 C521.3,433.3 515.7,466.7 512.0,500.0 C508.3,533.3 509.5,583.3 500.0,600.0 C490.5,616.7 463.3,616.7 455.0,600.0 C446.7,583.3 452.5,533.3 450.0,500.0 C447.5,466.7 444.2,433.3 440.0,400.0 C435.8,366.7 430.8,333.3 425.0,300.0 C419.2,266.7 411.7,233.3 405.0,200.0 C398.3,166.7 391.2,129.2 385.0,100.0 C378.8,70.8 355.2,37.5 368.0,25.0 Z" fill="#08f0e0"/>
<circle cx="235.4" cy="69.4" r="5.7" fill="#08f0e0"/><circle cx="245.2" cy="210.8" r="6.4" fill="#08f0e0"/><circle cx="317.8" cy="122.7" r="6.3" fill="#08f0e0"/><circle cx="255.5" cy="147.8" r="4.5" fill="#08f0e0"/><circle cx="286.3" cy="213.4" r="3.9" fill="#08f0e0"/><circle cx="319.3" cy="177.5" r="3.3" fill="#08f0e0"/><circle cx="349.1" cy="119.6" r="5.2" fill="#08f0e0"/><circle cx="262.8" cy="139.4" r="6.8" fill="#08f0e0"/><circle cx="268.6" cy="171.4" r="6.1" fill="#08f0e0"/><circle cx="333.6" cy="163.7" r="4.7" fill="#08f0e0"/><circle cx="267.4" cy="107.9" r="4.5" fill="#08f0e0"/><circle cx="335.8" cy="188.7" r="3.9" fill="#08f0e0"/><circle cx="258.1" cy="46.0" r="6.7" fill="#08f0e0"/><circle cx="232.4" cy="109.2" r="3.7" fill="#08f0e0"/><circle cx="249.6" cy="209.3" r="4.7" fill="#08f0e0"/><circle cx="304.2" cy="189.1" r="5.1" fill="#08f0e0"/><circle cx="327.4" cy="178.3" r="5.4" fill="#08f0e0"/><circle cx="295.4" cy="199.4" r="5.7" fill="#08f0e0"/><circle cx="267.8" cy="201.7" r="6.3" fill="#08f0e0"/><circle cx="343.9" cy="159.3" r="4.8" fill="#08f0e0"/><circle cx="269.2" cy="151.5" r="3.7" fill="#08f0e0"/><circle cx="316.2" cy="166.8" r="6.5" fill="#08f0e0"/><circle cx="252.3" cy="143.7" r="5.2" fill="#08f0e0"/><circle cx="299.8" cy="112.5" r="3.0" fill="#08f0e0"/><circle cx="340.8" cy="202.6" r="3.6" fill="#08f0e0"/><circle cx="339.1" cy="146.5" r="3.0" fill="#08f0e0"/><circle cx="304.5" cy="92.6" r="4.5" fill="#08f0e0"/><circle cx="238.2" cy="189.5" r="5.6" fill="#08f0e0"/><circle cx="254.0" cy="141.5" r="4.7" fill="#08f0e0"/><circle cx="347.9" cy="76.1" r="5.7" fill="#08f0e0"/><circle cx="324.8" cy="199.7" r="4.1" fill="#08f0e0"/><circle cx="333.3" cy="70.4" r="3.6" fill="#08f0e0"/><circle cx="302.2" cy="202.1" r="4.6" fill="#08f0e0"/><circle cx="247.1" cy="56.0" r="4.6" fill="#08f0e0"/><circle cx="333.6" cy="152.5" r="4.9" fill="#08f0e0"/><circle cx="290.7" cy="75.9" r="3.9" fill="#08f0e0"/><circle cx="258.1" cy="171.5" r="5.6" fill="#08f0e0"/><circle cx="231.5" cy="140.8" r="6.8" fill="#08f0e0"/><circle cx="234.1" cy="67.2" r="6.9" fill="#08f0e0"/><circle cx="290.1" cy="202.1" r="6.3" fill="#08f0e0"/><circle cx="283.7" cy="218.3" r="4.0" fill="#08f0e0"/><circle cx="263.5" cy="79.0" r="6.0" fill="#08f0e0"/><circle cx="237.9" cy="118.7" r="6.1" fill="#08f0e0"/><circle cx="314.5" cy="95.2" r="3.6" fill="#08f0e0"/><circle cx="327.9" cy="191.9" r="5.6" fill="#08f0e0"/>
<path d="M114.0,30.0 C115.7,23.3 127.7,21.7 130.0,30.0 C132.3,38.3 129.7,73.3 128.0,80.0 C126.3,86.7 122.3,78.3 120.0,70.0 C117.7,61.7 112.3,36.7 114.0,30.0 Z" fill="#0a5cf5"/>
<path d="M455.0,30.0 C457.7,23.3 473.5,20.0 476.0,30.0 C478.5,40.0 472.7,83.3 470.0,90.0 C467.3,96.7 462.5,80.0 460.0,70.0 C457.5,60.0 452.3,36.7 455.0,30.0 Z" fill="#0a5cf5"/>
<path d="M170.3,60.0 C165.6,66.7 153.7,76.7 144.0,100.0 C134.3,123.3 120.7,166.7 112.0,200.0 C103.3,233.3 96.3,266.7 92.0,300.0 C87.7,333.3 86.5,375.0 86.0,400.0 C85.5,425.0 87.8,433.3 89.0,450.0 C90.2,466.7 91.2,481.7 93.0,500.0 C94.8,518.3 98.0,543.3 100.0,560.0 C102.0,576.7 99.8,593.3 105.0,600.0 C110.2,606.7 126.8,606.7 131.0,600.0 C135.2,593.3 130.3,576.7 130.0,560.0 C129.7,543.3 129.5,518.3 129.0,500.0 C128.5,481.7 127.5,466.7 127.0,450.0 C126.5,433.3 124.5,425.0 126.0,400.0 C127.5,375.0 131.7,333.3 136.0,300.0 C140.3,266.7 146.3,233.3 152.0,200.0 C157.7,166.7 166.6,123.3 170.0,100.0 C173.4,76.7 172.2,66.7 172.3,60.0 C172.4,53.3 175.0,53.3 170.3,60.0 Z" fill="#08ee78"/>
<path d="M415.6,60.0 C415.2,66.7 411.8,76.7 415.0,100.0 C418.2,123.3 429.5,166.7 435.0,200.0 C440.5,233.3 444.0,266.7 448.0,300.0 C452.0,333.3 457.0,375.0 459.0,400.0 C461.0,425.0 460.2,433.3 460.0,450.0 C459.8,466.7 458.7,481.7 458.0,500.0 C457.3,518.3 456.7,543.3 456.0,560.0 C455.3,576.7 450.0,593.3 454.0,600.0 C458.0,606.7 474.7,606.7 480.0,600.0 C485.3,593.3 483.7,576.7 486.0,560.0 C488.3,543.3 492.0,518.3 494.0,500.0 C496.0,481.7 497.2,466.7 498.0,450.0 C498.8,433.3 500.0,425.0 499.0,400.0 C498.0,375.0 496.0,333.3 492.0,300.0 C488.0,266.7 483.5,233.3 475.0,200.0 C466.5,166.7 450.6,123.3 441.0,100.0 C431.4,76.7 421.8,66.7 417.6,60.0 C413.4,53.3 416.0,53.3 415.6,60.0 Z" fill="#08ee78"/>
<path d="M280.0,246.0 C295.8,245.2 318.7,246.3 335.0,250.0 C351.3,253.7 367.5,254.7 378.0,268.0 C388.5,281.3 393.0,308.0 398.0,330.0 C403.0,352.0 405.0,380.0 408.0,400.0 C411.0,420.0 412.0,433.3 416.0,450.0 C420.0,466.7 426.3,481.7 432.0,500.0 C437.7,518.3 446.0,543.3 450.0,560.0 C454.0,576.7 465.3,593.3 456.0,600.0 C446.7,606.7 405.0,606.7 394.0,600.0 C383.0,593.3 397.3,570.0 390.0,560.0 C382.7,550.0 361.7,547.5 350.0,540.0 C338.3,532.5 333.0,515.8 320.0,515.0 C307.0,514.2 287.0,529.2 272.0,535.0 C257.0,540.8 239.7,539.2 230.0,550.0 C220.3,560.8 230.7,591.7 214.0,600.0 C197.3,608.3 143.3,610.0 130.0,600.0 C116.7,590.0 133.0,560.0 134.0,540.0 C135.0,520.0 133.0,498.3 136.0,480.0 C139.0,461.7 147.3,446.7 152.0,430.0 C156.7,413.3 160.3,398.3 164.0,380.0 C167.7,361.7 168.0,336.7 174.0,320.0 C180.0,303.3 189.0,290.8 200.0,280.0 C211.0,269.2 226.7,260.7 240.0,255.0 C253.3,249.3 264.2,246.8 280.0,246.0 Z" fill="#0a5cf5"/>
<circle cx="267.9" cy="286.5" r="4.7" fill="#0a5cf5"/><circle cx="314.9" cy="310.1" r="5.9" fill="#0a5cf5"/><circle cx="338.3" cy="310.9" r="4.7" fill="#0a5cf5"/><circle cx="282.0" cy="313.8" r="6.0" fill="#0a5cf5"/><circle cx="310.3" cy="293.1" r="3.2" fill="#0a5cf5"/><circle cx="391.4" cy="294.2" r="4.9" fill="#0a5cf5"/><circle cx="196.2" cy="288.1" r="4.8" fill="#0a5cf5"/><circle cx="193.9" cy="271.2" r="5.2" fill="#0a5cf5"/><circle cx="368.4" cy="301.3" r="5.0" fill="#0a5cf5"/><circle cx="416.3" cy="309.1" r="3.2" fill="#0a5cf5"/><circle cx="251.5" cy="233.5" r="5.7" fill="#0a5cf5"/><circle cx="342.9" cy="252.0" r="3.5" fill="#0a5cf5"/><circle cx="213.7" cy="290.8" r="4.4" fill="#0a5cf5"/><circle cx="151.9" cy="295.3" r="3.9" fill="#0a5cf5"/><circle cx="230.4" cy="329.9" r="5.7" fill="#0a5cf5"/><circle cx="395.2" cy="318.9" r="4.7" fill="#0a5cf5"/><circle cx="165.6" cy="267.7" r="4.8" fill="#0a5cf5"/><circle cx="410.6" cy="262.7" r="3.2" fill="#0a5cf5"/><circle cx="417.3" cy="301.7" r="5.5" fill="#0a5cf5"/><circle cx="287.1" cy="259.7" r="4.0" fill="#0a5cf5"/><circle cx="189.0" cy="266.7" r="4.7" fill="#0a5cf5"/><circle cx="419.8" cy="326.3" r="4.5" fill="#0a5cf5"/><circle cx="210.1" cy="326.3" r="3.0" fill="#0a5cf5"/><circle cx="170.5" cy="297.7" r="4.8" fill="#0a5cf5"/><circle cx="425.2" cy="298.2" r="5.4" fill="#0a5cf5"/><circle cx="396.9" cy="325.3" r="5.7" fill="#0a5cf5"/><circle cx="292.1" cy="294.0" r="5.3" fill="#0a5cf5"/><circle cx="156.9" cy="282.5" r="4.2" fill="#0a5cf5"/><circle cx="370.6" cy="249.4" r="5.5" fill="#0a5cf5"/><circle cx="212.3" cy="276.1" r="4.7" fill="#0a5cf5"/><circle cx="237.5" cy="302.1" r="5.4" fill="#0a5cf5"/><circle cx="427.7" cy="270.9" r="5.8" fill="#0a5cf5"/><circle cx="317.3" cy="309.9" r="3.5" fill="#0a5cf5"/><circle cx="276.7" cy="306.2" r="4.9" fill="#0a5cf5"/><circle cx="201.9" cy="288.9" r="5.3" fill="#0a5cf5"/>
<circle cx="414.6" cy="469.0" r="3.1" fill="#0fbafa"/><circle cx="252.5" cy="400.5" r="2.7" fill="#0fbafa"/><circle cx="200.1" cy="401.9" r="2.3" fill="#0fbafa"/><circle cx="159.6" cy="479.6" r="2.2" fill="#0fbafa"/><circle cx="330.3" cy="446.2" r="3.8" fill="#0fbafa"/><circle cx="340.1" cy="518.7" r="3.3" fill="#0fbafa"/><circle cx="368.1" cy="549.5" r="4.0" fill="#0fbafa"/><circle cx="197.0" cy="433.3" r="2.6" fill="#0fbafa"/><circle cx="211.7" cy="518.2" r="3.8" fill="#0fbafa"/><circle cx="168.6" cy="410.2" r="3.8" fill="#0fbafa"/><circle cx="180.5" cy="394.6" r="3.8" fill="#0fbafa"/><circle cx="231.7" cy="382.7" r="3.1" fill="#0fbafa"/><circle cx="204.8" cy="449.5" r="2.7" fill="#0fbafa"/><circle cx="387.3" cy="549.9" r="3.9" fill="#0fbafa"/><circle cx="294.0" cy="547.1" r="3.4" fill="#0fbafa"/><circle cx="309.3" cy="496.6" r="3.3" fill="#0fbafa"/><circle cx="415.0" cy="425.8" r="3.8" fill="#0fbafa"/><circle cx="395.5" cy="489.9" r="3.0" fill="#0fbafa"/><circle cx="238.6" cy="553.0" r="2.8" fill="#0fbafa"/><circle cx="167.8" cy="558.4" r="3.2" fill="#0fbafa"/><circle cx="279.9" cy="382.8" r="2.8" fill="#0fbafa"/><circle cx="426.5" cy="550.1" r="2.3" fill="#0fbafa"/><circle cx="238.2" cy="557.9" r="3.4" fill="#0fbafa"/><circle cx="306.5" cy="404.4" r="3.3" fill="#0fbafa"/><circle cx="161.7" cy="386.9" r="3.4" fill="#0fbafa"/>
</g>
<g transform="translate(283,342) scale(0.20000)" filter="url(#b2)">
<path d="M131.0,200.0 C128.2,208.3 120.8,233.3 116.0,250.0 C111.2,266.7 105.8,275.0 102.0,300.0 C98.2,325.0 94.2,375.0 93.0,400.0 C91.8,425.0 94.0,433.3 95.0,450.0 C96.0,466.7 97.3,481.7 99.0,500.0 C100.7,518.3 103.3,543.3 105.0,560.0 C106.7,576.7 105.3,593.3 109.0,600.0 C112.7,606.7 124.3,606.7 127.0,600.0 C129.7,593.3 125.7,576.7 125.0,560.0 C124.3,543.3 123.7,518.3 123.0,500.0 C122.3,481.7 121.7,466.7 121.0,450.0 C120.3,433.3 118.2,425.0 119.0,400.0 C119.8,375.0 124.2,325.0 126.0,300.0 C127.8,275.0 128.8,266.7 130.0,250.0 C131.2,233.3 132.8,208.3 133.0,200.0 C133.2,191.7 133.8,191.7 131.0,200.0 Z" fill="#70f010"/>
<path d="M110.6,330.0 C109.1,336.7 105.5,358.3 103.4,370.0 C101.3,381.7 98.7,386.7 98.0,400.0 C97.3,413.3 98.3,433.3 99.0,450.0 C99.7,466.7 100.7,481.7 102.0,500.0 C103.3,518.3 105.6,543.3 107.0,560.0 C108.4,576.7 107.4,593.3 110.5,600.0 C113.6,606.7 123.4,606.7 125.5,600.0 C127.6,593.3 123.9,576.7 123.0,560.0 C122.1,543.3 121.0,518.3 120.0,500.0 C119.0,481.7 118.0,466.7 117.0,450.0 C116.0,433.3 114.6,413.3 114.0,400.0 C113.4,386.7 113.6,381.7 113.4,370.0 C113.2,358.3 113.1,336.7 112.6,330.0 C112.1,323.3 112.1,323.3 110.6,330.0 Z" fill="#ffc808"/>
<path d="M106.0,425.0 C105.2,429.2 103.6,441.7 103.0,450.0 C102.4,458.3 102.4,466.7 102.5,475.0 C102.6,483.3 102.6,485.8 103.5,500.0 C104.4,514.2 106.8,543.3 108.0,560.0 C109.2,576.7 108.2,593.3 111.0,600.0 C113.8,606.7 123.2,606.7 125.0,600.0 C126.8,593.3 123.1,576.7 122.0,560.0 C120.9,543.3 119.4,514.2 118.5,500.0 C117.6,485.8 117.4,483.3 116.5,475.0 C115.6,466.7 114.4,458.3 113.0,450.0 C111.6,441.7 109.2,429.2 108.0,425.0 C106.8,420.8 106.8,420.8 106.0,425.0 Z" fill="#ff6008"/>
<path d="M107.3,455.0 C106.7,458.3 105.8,467.5 105.5,475.0 C105.2,482.5 104.9,485.8 105.5,500.0 C106.1,514.2 107.9,543.3 109.0,560.0 C110.1,576.7 109.5,593.3 112.0,600.0 C114.5,606.7 122.5,606.7 124.0,600.0 C125.5,593.3 122.2,576.7 121.0,560.0 C119.8,543.3 117.8,514.2 116.5,500.0 C115.2,485.8 114.7,482.5 113.5,475.0 C112.3,467.5 110.3,458.3 109.3,455.0 C108.3,451.7 107.9,451.7 107.3,455.0 Z" fill="#f80808"/>
<path d="M454.0,200.0 C453.9,208.3 454.8,233.3 455.5,250.0 C456.2,266.7 456.2,275.0 458.0,300.0 C459.8,325.0 464.7,375.0 466.0,400.0 C467.3,425.0 466.3,433.3 466.0,450.0 C465.7,466.7 464.8,481.7 464.0,500.0 C463.2,518.3 462.0,543.3 461.0,560.0 C460.0,576.7 455.5,593.3 458.0,600.0 C460.5,606.7 472.2,606.7 476.0,600.0 C479.8,593.3 479.0,576.7 481.0,560.0 C483.0,543.3 486.2,518.3 488.0,500.0 C489.8,481.7 491.3,466.7 492.0,450.0 C492.7,433.3 493.7,425.0 492.0,400.0 C490.3,375.0 485.8,325.0 482.0,300.0 C478.2,275.0 473.8,266.7 469.5,250.0 C465.2,233.3 458.6,208.3 456.0,200.0 C453.4,191.7 454.1,191.7 454.0,200.0 Z" fill="#70f010"/>
<path d="M471.7,330.0 C471.3,336.7 471.4,358.3 471.3,370.0 C471.2,381.7 471.2,386.7 471.0,400.0 C470.8,413.3 470.7,433.3 470.0,450.0 C469.3,466.7 468.2,481.7 467.0,500.0 C465.8,518.3 464.2,543.3 463.0,560.0 C461.8,576.7 457.6,593.3 459.5,600.0 C461.4,606.7 471.2,606.7 474.5,600.0 C477.8,593.3 477.2,576.7 479.0,560.0 C480.8,543.3 483.5,518.3 485.0,500.0 C486.5,481.7 487.7,466.7 488.0,450.0 C488.3,433.3 488.1,413.3 487.0,400.0 C485.9,386.7 483.5,381.7 481.3,370.0 C479.1,358.3 475.3,336.7 473.7,330.0 C472.1,323.3 472.1,323.3 471.7,330.0 Z" fill="#ffc808"/>
<path d="M478.0,425.0 C477.0,429.2 475.2,441.7 474.0,450.0 C472.8,458.3 471.4,466.7 470.5,475.0 C469.6,483.3 469.6,485.8 468.5,500.0 C467.4,514.2 465.4,543.3 464.0,560.0 C462.6,576.7 458.3,593.3 460.0,600.0 C461.7,606.7 471.0,606.7 474.0,600.0 C477.0,593.3 476.4,576.7 478.0,560.0 C479.6,543.3 482.4,514.2 483.5,500.0 C484.6,485.8 484.4,483.3 484.5,475.0 C484.6,466.7 484.8,458.3 484.0,450.0 C483.2,441.7 481.0,429.2 480.0,425.0 C479.0,420.8 479.0,420.8 478.0,425.0 Z" fill="#ff6008"/>
<path d="M477.7,455.0 C476.7,458.3 474.7,467.5 473.5,475.0 C472.3,482.5 471.9,485.8 470.5,500.0 C469.1,514.2 466.6,543.3 465.0,560.0 C463.4,576.7 459.7,593.3 461.0,600.0 C462.3,606.7 470.3,606.7 473.0,600.0 C475.7,593.3 475.6,576.7 477.0,560.0 C478.4,543.3 480.8,514.2 481.5,500.0 C482.2,485.8 481.8,482.5 481.5,475.0 C481.2,467.5 480.3,458.3 479.7,455.0 C479.1,451.7 478.7,451.7 477.7,455.0 Z" fill="#f80808"/>
<path d="M125.0,600.0 L460.0,600.0" fill="none" stroke="#08f0e0" stroke-width="8" stroke-linecap="butt" stroke-linejoin="round"/>
<path d="M200.0,602.0 L270.0,602.0" fill="none" stroke="#70f010" stroke-width="6" stroke-linecap="butt" stroke-linejoin="round"/>
<path d="M464.0,597.0 L526.0,597.0" fill="none" stroke="#f80808" stroke-width="16" stroke-linecap="butt" stroke-linejoin="round"/>
</g>
</g>
<rect x="294.3" y="348.7" width="93.9" height="114.3" fill="none" stroke="#2a2a2a" stroke-width="0.7"/>
<line x1="307.4" x2="307.4" y1="461.0" y2="463.0" stroke="#222" stroke-width="0.5"/>
<line x1="307.4" x2="307.4" y1="350.7" y2="348.7" stroke="#222" stroke-width="0.5"/>
<text class="k" text-anchor="middle" x="307.4" y="468.2">-0.5</text>
<line x1="324.2" x2="324.2" y1="461.0" y2="463.0" stroke="#222" stroke-width="0.5"/>
<line x1="324.2" x2="324.2" y1="350.7" y2="348.7" stroke="#222" stroke-width="0.5"/>
<text class="k" text-anchor="middle" x="324.2" y="468.2">-0.25</text>
<line x1="341.0" x2="341.0" y1="461.0" y2="463.0" stroke="#222" stroke-width="0.5"/>
<line x1="341.0" x2="341.0" y1="350.7" y2="348.7" stroke="#222" stroke-width="0.5"/>
<text class="k" text-anchor="middle" x="341.0" y="468.2">0</text>
<line x1="357.8" x2="357.8" y1="461.0" y2="463.0" stroke="#222" stroke-width="0.5"/>
<line x1="357.8" x2="357.8" y1="350.7" y2="348.7" stroke="#222" stroke-width="0.5"/>
<text class="k" text-anchor="middle" x="357.8" y="468.2">0.25</text>
<line x1="374.6" x2="374.6" y1="461.0" y2="463.0" stroke="#222" stroke-width="0.5"/>
<line x1="374.6" x2="374.6" y1="350.7" y2="348.7" stroke="#222" stroke-width="0.5"/>
<text class="k" text-anchor="middle" x="374.6" y="468.2">0.5</text>
<line x1="294.3" x2="296.3" y1="463.0" y2="463.0" stroke="#222" stroke-width="0.5"/>
<line x1="388.2" x2="386.2" y1="463.0" y2="463.0" stroke="#222" stroke-width="0.5"/>
<text class="k" text-anchor="end" x="293.5" y="464.6">0</text>
<line x1="294.3" x2="296.3" y1="441.8" y2="441.8" stroke="#222" stroke-width="0.5"/>
<line x1="388.2" x2="386.2" y1="441.8" y2="441.8" stroke="#222" stroke-width="0.5"/>
<text class="k" text-anchor="end" x="293.5" y="443.4">0.25</text>
<line x1="294.3" x2="296.3" y1="420.6" y2="420.6" stroke="#222" stroke-width="0.5"/>
<line x1="388.2" x2="386.2" y1="420.6" y2="420.6" stroke="#222" stroke-width="0.5"/>
<text class="k" text-anchor="end" x="293.5" y="422.2">0.5</text>
<line x1="294.3" x2="296.3" y1="399.4" y2="399.4" stroke="#222" stroke-width="0.5"/>
<line x1="388.2" x2="386.2" y1="399.4" y2="399.4" stroke="#222" stroke-width="0.5"/>
<text class="k" text-anchor="end" x="293.5" y="401.0">0.75</text>
<line x1="294.3" x2="296.3" y1="378.2" y2="378.2" stroke="#222" stroke-width="0.5"/>
<line x1="388.2" x2="386.2" y1="378.2" y2="378.2" stroke="#222" stroke-width="0.5"/>
<text class="k" text-anchor="end" x="293.5" y="379.8">1</text>
<line x1="294.3" x2="296.3" y1="357.0" y2="357.0" stroke="#222" stroke-width="0.5"/>
<line x1="388.2" x2="386.2" y1="357.0" y2="357.0" stroke="#222" stroke-width="0.5"/>
<text class="k" text-anchor="end" x="293.5" y="358.6">1.25</text>
<text class="a" text-anchor="middle" x="341.0" y="472.8">r/Db</text>
<text class="a" text-anchor="middle" transform="translate(287.9,407.9) rotate(-90)">y/Db</text>
<rect x="409.3" y="328.1" width="125.8" height="149.3" fill="#fff" stroke="#d2d2d2" stroke-width="1"/><line x1="409.3" x2="535.1" y1="339.6" y2="339.6" stroke="#d2d2d2" stroke-width="1"/><text class="t" x="409.5" y="338.0">D-BR0.48-RIM3</text>
<clipPath id="c32"><rect x="425.4" y="348.7" width="94.7" height="114.3"/></clipPath>
<g clip-path="url(#c32)">
<rect x="424.4" y="347.7" width="96.7" height="116.3" fill="#0fbafa"/>
<g transform="translate(415,342) scale(0.20000)" filter="url(#bl)">
<path d="M40.0,25.0 C56.0,-64.2 121.7,12.5 136.0,25.0 C150.3,37.5 130.3,70.8 126.0,100.0 C121.7,129.2 115.2,166.7 110.0,200.0 C104.8,233.3 100.0,266.7 95.0,300.0 C90.0,333.3 84.2,368.3 80.0,400.0 C75.8,431.7 73.7,463.3 70.0,490.0 C66.3,516.7 63.0,548.3 58.0,560.0 C53.0,571.7 43.0,649.2 40.0,560.0 C37.0,470.8 24.0,114.2 40.0,25.0 Z" fill="#08f0e0"/>
<path d="M535.0,25.0 C519.2,-64.2 453.3,12.5 440.0,25.0 C426.7,37.5 450.0,70.8 455.0,100.0 C460.0,129.2 465.0,166.7 470.0,200.0 C475.0,233.3 480.0,266.7 485.0,300.0 C490.0,333.3 495.8,368.3 500.0,400.0 C504.2,431.7 506.3,463.3 510.0,490.0 C513.7,516.7 517.8,548.3 522.0,560.0 C526.2,571.7 532.8,649.2 535.0,560.0 C537.2,470.8 550.8,114.2 535.0,25.0 Z" fill="#08f0e0"/>
<path d="M40.0,140.0 C45.3,78.3 64.3,141.7 72.0,160.0 C79.7,178.3 84.7,218.3 86.0,250.0 C87.3,281.7 83.0,316.7 80.0,350.0 C77.0,383.3 72.0,421.7 68.0,450.0 C64.0,478.3 60.7,506.7 56.0,520.0 C51.3,533.3 42.7,593.3 40.0,530.0 C37.3,466.7 34.7,201.7 40.0,140.0 Z" fill="#08ee78"/>
<path d="M535.0,140.0 C530.2,78.3 513.2,141.7 506.0,160.0 C498.8,178.3 493.3,218.3 492.0,250.0 C490.7,281.7 495.0,316.7 498.0,350.0 C501.0,383.3 506.0,421.7 510.0,450.0 C514.0,478.3 517.8,506.7 522.0,520.0 C526.2,533.3 532.8,593.3 535.0,530.0 C537.2,466.7 539.8,201.7 535.0,140.0 Z" fill="#08ee78"/>
<path d="M134.0,25.0 C140.8,12.5 162.5,12.5 166.0,25.0 C169.5,37.5 160.2,70.8 155.0,100.0 C149.8,129.2 141.7,166.7 135.0,200.0 C128.3,233.3 121.0,266.7 115.0,300.0 C109.0,333.3 103.2,368.3 99.0,400.0 C94.8,431.7 94.2,463.3 90.0,490.0 C85.8,516.7 78.7,548.3 74.0,560.0 C69.3,571.7 62.5,571.7 62.0,560.0 C61.5,548.3 67.8,516.7 71.0,490.0 C74.2,463.3 76.8,431.7 81.0,400.0 C85.2,368.3 91.2,333.3 96.0,300.0 C100.8,266.7 105.2,233.3 110.0,200.0 C114.8,166.7 121.0,129.2 125.0,100.0 C129.0,70.8 127.2,37.5 134.0,25.0 Z" fill="#0a5cf5"/>
<path d="M414.0,25.0 C416.5,12.5 433.2,12.5 440.0,25.0 C446.8,37.5 450.0,70.8 455.0,100.0 C460.0,129.2 465.0,166.7 470.0,200.0 C475.0,233.3 480.0,266.7 485.0,300.0 C490.0,333.3 495.8,368.3 500.0,400.0 C504.2,431.7 506.3,463.3 510.0,490.0 C513.7,516.7 522.3,548.3 522.0,560.0 C521.7,571.7 513.3,571.7 508.0,560.0 C502.7,548.3 495.5,516.7 490.0,490.0 C484.5,463.3 480.0,431.7 475.0,400.0 C470.0,368.3 465.0,333.3 460.0,300.0 C455.0,266.7 450.8,233.3 445.0,200.0 C439.2,166.7 430.2,129.2 425.0,100.0 C419.8,70.8 411.5,37.5 414.0,25.0 Z" fill="#0a5cf5"/>
<circle cx="268.2" cy="60.6" r="4.9" fill="#0a5cf5"/><circle cx="282.0" cy="82.4" r="4.3" fill="#0a5cf5"/><circle cx="253.6" cy="62.7" r="3.6" fill="#0a5cf5"/><circle cx="272.7" cy="62.0" r="4.9" fill="#0a5cf5"/><circle cx="247.8" cy="60.5" r="3.2" fill="#0a5cf5"/><circle cx="275.8" cy="74.3" r="3.9" fill="#0a5cf5"/><circle cx="258.0" cy="96.0" r="3.8" fill="#0a5cf5"/><circle cx="253.3" cy="79.4" r="3.6" fill="#0a5cf5"/><circle cx="249.4" cy="110.9" r="4.4" fill="#0a5cf5"/><circle cx="271.6" cy="115.6" r="3.8" fill="#0a5cf5"/><circle cx="260.2" cy="78.8" r="3.8" fill="#0a5cf5"/><circle cx="271.8" cy="45.5" r="3.9" fill="#0a5cf5"/><circle cx="266.4" cy="72.6" r="3.0" fill="#0a5cf5"/><circle cx="273.2" cy="45.8" r="4.1" fill="#0a5cf5"/>
<circle cx="297.8" cy="260.9" r="3.5" fill="#08f0e0"/><circle cx="365.5" cy="259.4" r="4.2" fill="#08f0e0"/><circle cx="354.1" cy="251.9" r="3.1" fill="#08f0e0"/><circle cx="343.6" cy="261.5" r="4.6" fill="#08f0e0"/><circle cx="385.5" cy="282.4" r="4.1" fill="#08f0e0"/><circle cx="307.2" cy="173.0" r="5.4" fill="#08f0e0"/><circle cx="362.8" cy="259.7" r="4.3" fill="#08f0e0"/><circle cx="340.1" cy="190.0" r="4.6" fill="#08f0e0"/><circle cx="297.4" cy="261.8" r="4.9" fill="#08f0e0"/><circle cx="360.4" cy="194.4" r="3.3" fill="#08f0e0"/><circle cx="320.0" cy="273.8" r="4.5" fill="#08f0e0"/><circle cx="369.7" cy="227.6" r="4.2" fill="#08f0e0"/><circle cx="388.9" cy="180.1" r="3.6" fill="#08f0e0"/><circle cx="350.7" cy="263.7" r="4.3" fill="#08f0e0"/><circle cx="347.0" cy="229.3" r="5.0" fill="#08f0e0"/><circle cx="386.7" cy="298.5" r="4.9" fill="#08f0e0"/><circle cx="336.4" cy="320.6" r="4.3" fill="#08f0e0"/><circle cx="355.1" cy="306.3" r="5.1" fill="#08f0e0"/><circle cx="326.9" cy="283.7" r="4.8" fill="#08f0e0"/><circle cx="389.8" cy="262.2" r="4.6" fill="#08f0e0"/><circle cx="396.9" cy="245.0" r="4.2" fill="#08f0e0"/><circle cx="392.5" cy="319.9" r="3.5" fill="#08f0e0"/><circle cx="288.7" cy="304.5" r="5.6" fill="#08f0e0"/><circle cx="326.1" cy="195.9" r="5.1" fill="#08f0e0"/><circle cx="392.8" cy="188.4" r="4.3" fill="#08f0e0"/><circle cx="359.5" cy="189.7" r="4.2" fill="#08f0e0"/><circle cx="297.2" cy="236.3" r="3.7" fill="#08f0e0"/><circle cx="289.7" cy="220.0" r="3.5" fill="#08f0e0"/><circle cx="294.3" cy="177.1" r="4.3" fill="#08f0e0"/><circle cx="318.1" cy="281.1" r="4.2" fill="#08f0e0"/><circle cx="309.2" cy="183.8" r="3.9" fill="#08f0e0"/><circle cx="369.2" cy="186.3" r="4.4" fill="#08f0e0"/><circle cx="376.8" cy="299.4" r="4.4" fill="#08f0e0"/><circle cx="381.1" cy="265.6" r="3.7" fill="#08f0e0"/><circle cx="291.1" cy="180.6" r="5.4" fill="#08f0e0"/><circle cx="326.8" cy="300.7" r="5.9" fill="#08f0e0"/><circle cx="390.3" cy="234.5" r="3.0" fill="#08f0e0"/><circle cx="313.2" cy="189.4" r="4.9" fill="#08f0e0"/><circle cx="364.2" cy="315.9" r="5.1" fill="#08f0e0"/><circle cx="395.2" cy="264.9" r="4.4" fill="#08f0e0"/><circle cx="380.4" cy="199.3" r="5.3" fill="#08f0e0"/><circle cx="367.3" cy="306.0" r="3.2" fill="#08f0e0"/><circle cx="302.6" cy="321.0" r="3.4" fill="#08f0e0"/><circle cx="334.1" cy="258.3" r="4.4" fill="#08f0e0"/><circle cx="385.5" cy="322.0" r="4.0" fill="#08f0e0"/><circle cx="296.1" cy="314.6" r="4.4" fill="#08f0e0"/><circle cx="309.8" cy="174.9" r="3.0" fill="#08f0e0"/><circle cx="349.9" cy="200.6" r="4.7" fill="#08f0e0"/><circle cx="390.9" cy="237.2" r="5.9" fill="#08f0e0"/><circle cx="288.0" cy="286.4" r="5.3" fill="#08f0e0"/><circle cx="395.1" cy="155.6" r="4.5" fill="#08f0e0"/><circle cx="346.8" cy="257.7" r="4.4" fill="#08f0e0"/><circle cx="312.7" cy="312.5" r="5.6" fill="#08f0e0"/><circle cx="364.2" cy="322.7" r="4.7" fill="#08f0e0"/><circle cx="289.5" cy="274.9" r="3.3" fill="#08f0e0"/><circle cx="370.1" cy="266.8" r="3.6" fill="#08f0e0"/><circle cx="298.3" cy="162.1" r="3.5" fill="#08f0e0"/><circle cx="397.4" cy="191.0" r="5.7" fill="#08f0e0"/><circle cx="296.1" cy="211.0" r="4.4" fill="#08f0e0"/><circle cx="323.0" cy="323.6" r="3.7" fill="#08f0e0"/><circle cx="338.0" cy="186.9" r="3.3" fill="#08f0e0"/><circle cx="362.9" cy="211.0" r="4.5" fill="#08f0e0"/><circle cx="363.1" cy="166.0" r="3.2" fill="#08f0e0"/><circle cx="362.5" cy="328.9" r="3.1" fill="#08f0e0"/><circle cx="334.3" cy="329.0" r="5.5" fill="#08f0e0"/><circle cx="398.7" cy="245.3" r="5.9" fill="#08f0e0"/><circle cx="286.7" cy="235.0" r="5.5" fill="#08f0e0"/><circle cx="326.9" cy="229.3" r="4.3" fill="#08f0e0"/><circle cx="325.6" cy="296.3" r="5.9" fill="#08f0e0"/><circle cx="307.7" cy="208.0" r="5.4" fill="#08f0e0"/>
<path d="M190.0,100.0 C197.3,105.0 210.0,128.3 216.0,150.0 C222.0,171.7 224.7,201.7 226.0,230.0 C227.3,258.3 227.0,288.3 224.0,320.0 C221.0,351.7 215.3,390.0 208.0,420.0 C200.7,450.0 189.7,470.0 180.0,500.0 C170.3,530.0 163.3,583.3 150.0,600.0 C136.7,616.7 107.7,616.7 100.0,600.0 C92.3,583.3 101.3,533.3 104.0,500.0 C106.7,466.7 111.3,433.3 116.0,400.0 C120.7,366.7 126.3,333.3 132.0,300.0 C137.7,266.7 143.3,230.0 150.0,200.0 C156.7,170.0 165.3,136.7 172.0,120.0 C178.7,103.3 182.7,95.0 190.0,100.0 Z" fill="#08f0e0"/>
<path d="M392.0,110.0 C384.7,115.0 374.7,140.0 370.0,160.0 C365.3,180.0 363.0,203.3 364.0,230.0 C365.0,256.7 371.3,288.3 376.0,320.0 C380.7,351.7 385.3,390.0 392.0,420.0 C398.7,450.0 408.0,470.0 416.0,500.0 C424.0,530.0 428.3,583.3 440.0,600.0 C451.7,616.7 478.7,616.7 486.0,600.0 C493.3,583.3 486.7,533.3 484.0,500.0 C481.3,466.7 474.8,433.3 470.0,400.0 C465.2,366.7 460.8,333.3 455.0,300.0 C449.2,266.7 441.8,228.3 435.0,200.0 C428.2,171.7 421.2,145.0 414.0,130.0 C406.8,115.0 399.3,105.0 392.0,110.0 Z" fill="#08f0e0"/>
<path d="M182.6,170.0 C179.9,176.7 174.5,188.3 168.7,210.0 C162.9,231.7 155.1,268.3 148.0,300.0 C140.9,331.7 131.7,370.0 126.0,400.0 C120.3,430.0 116.8,458.3 114.0,480.0 C111.2,501.7 110.7,510.0 109.0,530.0 C107.3,550.0 100.5,588.3 104.0,600.0 C107.5,611.7 123.8,611.7 130.0,600.0 C136.2,588.3 137.3,550.0 141.0,530.0 C144.7,510.0 147.5,501.7 152.0,480.0 C156.5,458.3 162.3,430.0 168.0,400.0 C173.7,370.0 182.6,331.7 186.0,300.0 C189.4,268.3 188.9,231.7 188.7,210.0 C188.5,188.3 185.6,176.7 184.6,170.0 C183.6,163.3 185.2,163.3 182.6,170.0 Z" fill="#08ee78"/>
<path d="M397.4,170.0 C396.5,176.7 393.2,188.3 393.8,210.0 C394.4,231.7 396.8,268.3 401.0,300.0 C405.2,331.7 413.8,370.0 419.0,400.0 C424.2,430.0 428.5,458.3 432.0,480.0 C435.5,501.7 437.0,510.0 440.0,530.0 C443.0,550.0 444.0,588.3 450.0,600.0 C456.0,611.7 472.3,611.7 476.0,600.0 C479.7,588.3 473.0,550.0 472.0,530.0 C471.0,510.0 471.8,501.7 470.0,480.0 C468.2,458.3 466.2,430.0 461.0,400.0 C455.8,370.0 446.9,331.7 439.0,300.0 C431.1,268.3 420.4,231.7 413.8,210.0 C407.2,188.3 402.1,176.7 399.4,170.0 C396.7,163.3 398.3,163.3 397.4,170.0 Z" fill="#08ee78"/>
<path d="M240.0,372.0 C255.0,371.2 278.3,375.0 290.0,380.0 C301.7,385.0 303.3,402.7 310.0,402.0 C316.7,401.3 321.3,381.0 330.0,376.0 C338.7,371.0 353.0,364.7 362.0,372.0 C371.0,379.3 377.0,403.7 384.0,420.0 C391.0,436.3 396.7,453.3 404.0,470.0 C411.3,486.7 421.3,505.0 428.0,520.0 C434.7,535.0 440.3,545.0 444.0,560.0 C447.7,575.0 465.7,601.7 450.0,610.0 C434.3,618.3 367.3,616.7 350.0,610.0 C332.7,603.3 350.7,581.3 346.0,570.0 C341.3,558.7 331.0,547.8 322.0,542.0 C313.0,536.2 302.0,534.5 292.0,535.0 C282.0,535.5 270.3,539.2 262.0,545.0 C253.7,550.8 246.0,559.2 242.0,570.0 C238.0,580.8 256.0,603.3 238.0,610.0 C220.0,616.7 150.3,618.3 134.0,610.0 C117.7,601.7 137.0,576.7 140.0,560.0 C143.0,543.3 147.0,526.7 152.0,510.0 C157.0,493.3 164.3,475.0 170.0,460.0 C175.7,445.0 181.0,432.5 186.0,420.0 C191.0,407.5 191.0,393.0 200.0,385.0 C209.0,377.0 225.0,372.8 240.0,372.0 Z" fill="#0a5cf5"/>
<circle cx="385.8" cy="375.5" r="4.4" fill="#0a5cf5"/><circle cx="337.0" cy="364.7" r="3.2" fill="#0a5cf5"/><circle cx="310.5" cy="360.5" r="3.8" fill="#0a5cf5"/><circle cx="367.9" cy="394.2" r="3.2" fill="#0a5cf5"/><circle cx="206.4" cy="365.0" r="4.7" fill="#0a5cf5"/><circle cx="194.9" cy="365.1" r="3.2" fill="#0a5cf5"/><circle cx="215.5" cy="378.6" r="3.4" fill="#0a5cf5"/><circle cx="271.9" cy="388.0" r="4.4" fill="#0a5cf5"/><circle cx="273.0" cy="390.4" r="4.1" fill="#0a5cf5"/><circle cx="355.4" cy="366.2" r="3.7" fill="#0a5cf5"/><circle cx="306.1" cy="397.6" r="4.2" fill="#0a5cf5"/><circle cx="284.9" cy="366.3" r="3.6" fill="#0a5cf5"/><circle cx="233.2" cy="399.4" r="4.8" fill="#0a5cf5"/><circle cx="368.9" cy="378.8" r="4.4" fill="#0a5cf5"/><circle cx="249.3" cy="376.7" r="3.3" fill="#0a5cf5"/><circle cx="274.0" cy="366.4" r="3.2" fill="#0a5cf5"/>
</g>
<g transform="translate(415,342) scale(0.20000)" filter="url(#b2)">
<path d="M40.0,280.0 C44.0,245.0 59.3,280.0 64.0,300.0 C68.7,320.0 69.0,366.7 68.0,400.0 C67.0,433.3 62.7,481.7 58.0,500.0 C53.3,518.3 43.0,546.7 40.0,510.0 C37.0,473.3 36.0,315.0 40.0,280.0 Z" fill="#70f010"/>
<path d="M535.0,280.0 C531.5,245.0 518.2,280.0 514.0,300.0 C509.8,320.0 509.0,366.7 510.0,400.0 C511.0,433.3 515.8,481.7 520.0,500.0 C524.2,518.3 532.5,546.7 535.0,510.0 C537.5,473.3 538.5,315.0 535.0,280.0 Z" fill="#70f010"/>
<path d="M54.0,350.0 L54.0,500.0" fill="none" stroke="#ffc808" stroke-width="8" stroke-linecap="round" stroke-linejoin="round"/>
<path d="M523.0,350.0 L523.0,500.0" fill="none" stroke="#ffc808" stroke-width="7" stroke-linecap="round" stroke-linejoin="round"/>
<path d="M53.0,440.0 L54.0,530.0" fill="none" stroke="#f80808" stroke-width="5" stroke-linecap="round" stroke-linejoin="round"/>
<path d="M162.0,320.0 C159.5,326.7 153.3,346.7 149.0,360.0 C144.7,373.3 140.7,380.0 136.0,400.0 C131.3,420.0 124.7,458.3 121.0,480.0 C117.3,501.7 116.2,510.0 114.0,530.0 C111.8,550.0 106.0,588.3 108.0,600.0 C110.0,611.7 121.3,611.7 126.0,600.0 C130.7,588.3 132.8,550.0 136.0,530.0 C139.2,510.0 141.3,501.7 145.0,480.0 C148.7,458.3 155.3,420.0 158.0,400.0 C160.7,380.0 160.0,373.3 161.0,360.0 C162.0,346.7 163.8,326.7 164.0,320.0 C164.2,313.3 164.5,313.3 162.0,320.0 Z" fill="#70f010"/>
<path d="M139.0,440.0 C137.1,445.0 132.6,460.0 129.8,470.0 C127.0,480.0 124.4,490.0 122.3,500.0 C120.2,510.0 119.1,513.3 117.0,530.0 C114.9,546.7 108.2,588.3 109.5,600.0 C110.8,611.7 120.6,611.7 124.5,600.0 C128.4,588.3 130.9,546.7 133.0,530.0 C135.1,513.3 136.2,510.0 137.3,500.0 C138.4,490.0 139.2,480.0 139.8,470.0 C140.4,460.0 141.1,445.0 141.0,440.0 C140.9,435.0 140.9,435.0 139.0,440.0 Z" fill="#ffc808"/>
<path d="M132.0,480.0 C130.6,483.3 127.5,491.7 125.3,500.0 C123.0,508.3 121.0,513.3 118.5,530.0 C116.0,546.7 109.7,588.3 110.5,600.0 C111.3,611.7 120.0,611.7 123.5,600.0 C127.0,588.3 129.7,546.7 131.5,530.0 C133.3,513.3 133.9,508.3 134.3,500.0 C134.7,491.7 134.4,483.3 134.0,480.0 C133.6,476.7 133.4,476.7 132.0,480.0 Z" fill="#ff6008"/>
<path d="M128.8,500.0 C127.4,503.3 124.5,511.7 122.6,520.0 C120.7,528.3 119.1,536.7 117.2,550.0 C115.3,563.3 110.0,591.7 111.0,600.0 C112.0,608.3 120.1,608.3 123.0,600.0 C125.9,591.7 126.9,563.3 128.2,550.0 C129.5,536.7 130.2,528.3 130.6,520.0 C131.0,511.7 131.1,503.3 130.8,500.0 C130.5,496.7 130.2,496.7 128.8,500.0 Z" fill="#f80808"/>
<path d="M423.0,320.0 C423.2,326.7 425.0,346.7 426.0,360.0 C427.0,373.3 426.8,380.0 429.0,400.0 C431.2,420.0 436.3,458.3 439.0,480.0 C441.7,501.7 442.5,510.0 445.0,530.0 C447.5,550.0 449.5,588.3 454.0,600.0 C458.5,611.7 469.8,611.7 472.0,600.0 C474.2,588.3 468.5,550.0 467.0,530.0 C465.5,510.0 465.7,501.7 463.0,480.0 C460.3,458.3 455.2,420.0 451.0,400.0 C446.8,380.0 442.3,373.3 438.0,360.0 C433.7,346.7 427.5,326.7 425.0,320.0 C422.5,313.3 422.8,313.3 423.0,320.0 Z" fill="#70f010"/>
<path d="M444.5,440.0 C444.2,445.0 444.4,460.0 444.6,470.0 C444.8,480.0 444.9,490.0 445.5,500.0 C446.1,510.0 446.3,513.3 448.0,530.0 C449.7,546.7 451.8,588.3 455.5,600.0 C459.2,611.7 469.1,611.7 470.5,600.0 C471.9,588.3 465.7,546.7 464.0,530.0 C462.3,513.3 462.1,510.0 460.5,500.0 C458.9,490.0 456.9,480.0 454.6,470.0 C452.3,460.0 448.2,445.0 446.5,440.0 C444.8,435.0 444.8,435.0 444.5,440.0 Z" fill="#ffc808"/>
<path d="M450.0,480.0 C449.4,483.3 448.6,491.7 448.5,500.0 C448.4,508.3 448.2,513.3 449.5,530.0 C450.8,546.7 453.2,588.3 456.5,600.0 C459.8,611.7 468.5,611.7 469.5,600.0 C470.5,588.3 464.5,546.7 462.5,530.0 C460.5,513.3 459.2,508.3 457.5,500.0 C455.8,491.7 453.2,483.3 452.0,480.0 C450.8,476.7 450.6,476.7 450.0,480.0 Z" fill="#ff6008"/>
<path d="M452.0,500.0 C451.5,503.3 450.9,511.7 451.0,520.0 C451.1,528.3 451.5,536.7 452.5,550.0 C453.5,563.3 454.2,591.7 457.0,600.0 C459.8,608.3 467.9,608.3 469.0,600.0 C470.1,591.7 465.2,563.3 463.5,550.0 C461.8,536.7 460.6,528.3 459.0,520.0 C457.4,511.7 455.2,503.3 454.0,500.0 C452.8,496.7 452.5,496.7 452.0,500.0 Z" fill="#f80808"/>
<path d="M128.0,600.0 L232.0,600.0" fill="none" stroke="#08f0e0" stroke-width="6" stroke-linecap="butt" stroke-linejoin="round"/>
<path d="M464.0,598.0 L525.0,598.0" fill="none" stroke="#f80808" stroke-width="14" stroke-linecap="butt" stroke-linejoin="round"/>
</g>
</g>
<rect x="425.4" y="348.7" width="94.7" height="114.3" fill="none" stroke="#2a2a2a" stroke-width="0.7"/>
<line x1="438.9" x2="438.9" y1="461.0" y2="463.0" stroke="#222" stroke-width="0.5"/>
<line x1="438.9" x2="438.9" y1="350.7" y2="348.7" stroke="#222" stroke-width="0.5"/>
<text class="k" text-anchor="middle" x="438.9" y="468.2">-0.5</text>
<line x1="455.8" x2="455.8" y1="461.0" y2="463.0" stroke="#222" stroke-width="0.5"/>
<line x1="455.8" x2="455.8" y1="350.7" y2="348.7" stroke="#222" stroke-width="0.5"/>
<text class="k" text-anchor="middle" x="455.8" y="468.2">-0.25</text>
<line x1="472.7" x2="472.7" y1="461.0" y2="463.0" stroke="#222" stroke-width="0.5"/>
<line x1="472.7" x2="472.7" y1="350.7" y2="348.7" stroke="#222" stroke-width="0.5"/>
<text class="k" text-anchor="middle" x="472.7" y="468.2">0</text>
<line x1="489.6" x2="489.6" y1="461.0" y2="463.0" stroke="#222" stroke-width="0.5"/>
<line x1="489.6" x2="489.6" y1="350.7" y2="348.7" stroke="#222" stroke-width="0.5"/>
<text class="k" text-anchor="middle" x="489.6" y="468.2">0.25</text>
<line x1="506.5" x2="506.5" y1="461.0" y2="463.0" stroke="#222" stroke-width="0.5"/>
<line x1="506.5" x2="506.5" y1="350.7" y2="348.7" stroke="#222" stroke-width="0.5"/>
<text class="k" text-anchor="middle" x="506.5" y="468.2">0.5</text>
<line x1="425.4" x2="427.4" y1="463.0" y2="463.0" stroke="#222" stroke-width="0.5"/>
<line x1="520.1" x2="518.1" y1="463.0" y2="463.0" stroke="#222" stroke-width="0.5"/>
<text class="k" text-anchor="end" x="424.6" y="464.6">0</text>
<line x1="425.4" x2="427.4" y1="441.8" y2="441.8" stroke="#222" stroke-width="0.5"/>
<line x1="520.1" x2="518.1" y1="441.8" y2="441.8" stroke="#222" stroke-width="0.5"/>
<text class="k" text-anchor="end" x="424.6" y="443.4">0.25</text>
<line x1="425.4" x2="427.4" y1="420.6" y2="420.6" stroke="#222" stroke-width="0.5"/>
<line x1="520.1" x2="518.1" y1="420.6" y2="420.6" stroke="#222" stroke-width="0.5"/>
<text class="k" text-anchor="end" x="424.6" y="422.2">0.5</text>
<line x1="425.4" x2="427.4" y1="399.4" y2="399.4" stroke="#222" stroke-width="0.5"/>
<line x1="520.1" x2="518.1" y1="399.4" y2="399.4" stroke="#222" stroke-width="0.5"/>
<text class="k" text-anchor="end" x="424.6" y="401.0">0.75</text>
<line x1="425.4" x2="427.4" y1="378.2" y2="378.2" stroke="#222" stroke-width="0.5"/>
<line x1="520.1" x2="518.1" y1="378.2" y2="378.2" stroke="#222" stroke-width="0.5"/>
<text class="k" text-anchor="end" x="424.6" y="379.8">1</text>
<line x1="425.4" x2="427.4" y1="357.0" y2="357.0" stroke="#222" stroke-width="0.5"/>
<line x1="520.1" x2="518.1" y1="357.0" y2="357.0" stroke="#222" stroke-width="0.5"/>
<text class="k" text-anchor="end" x="424.6" y="358.6">1.25</text>
<text class="a" text-anchor="middle" x="472.7" y="472.8">r/Db</text>
<text class="a" text-anchor="middle" transform="translate(419.0,407.9) rotate(-90)">y/Db</text>
</svg></body></html>
